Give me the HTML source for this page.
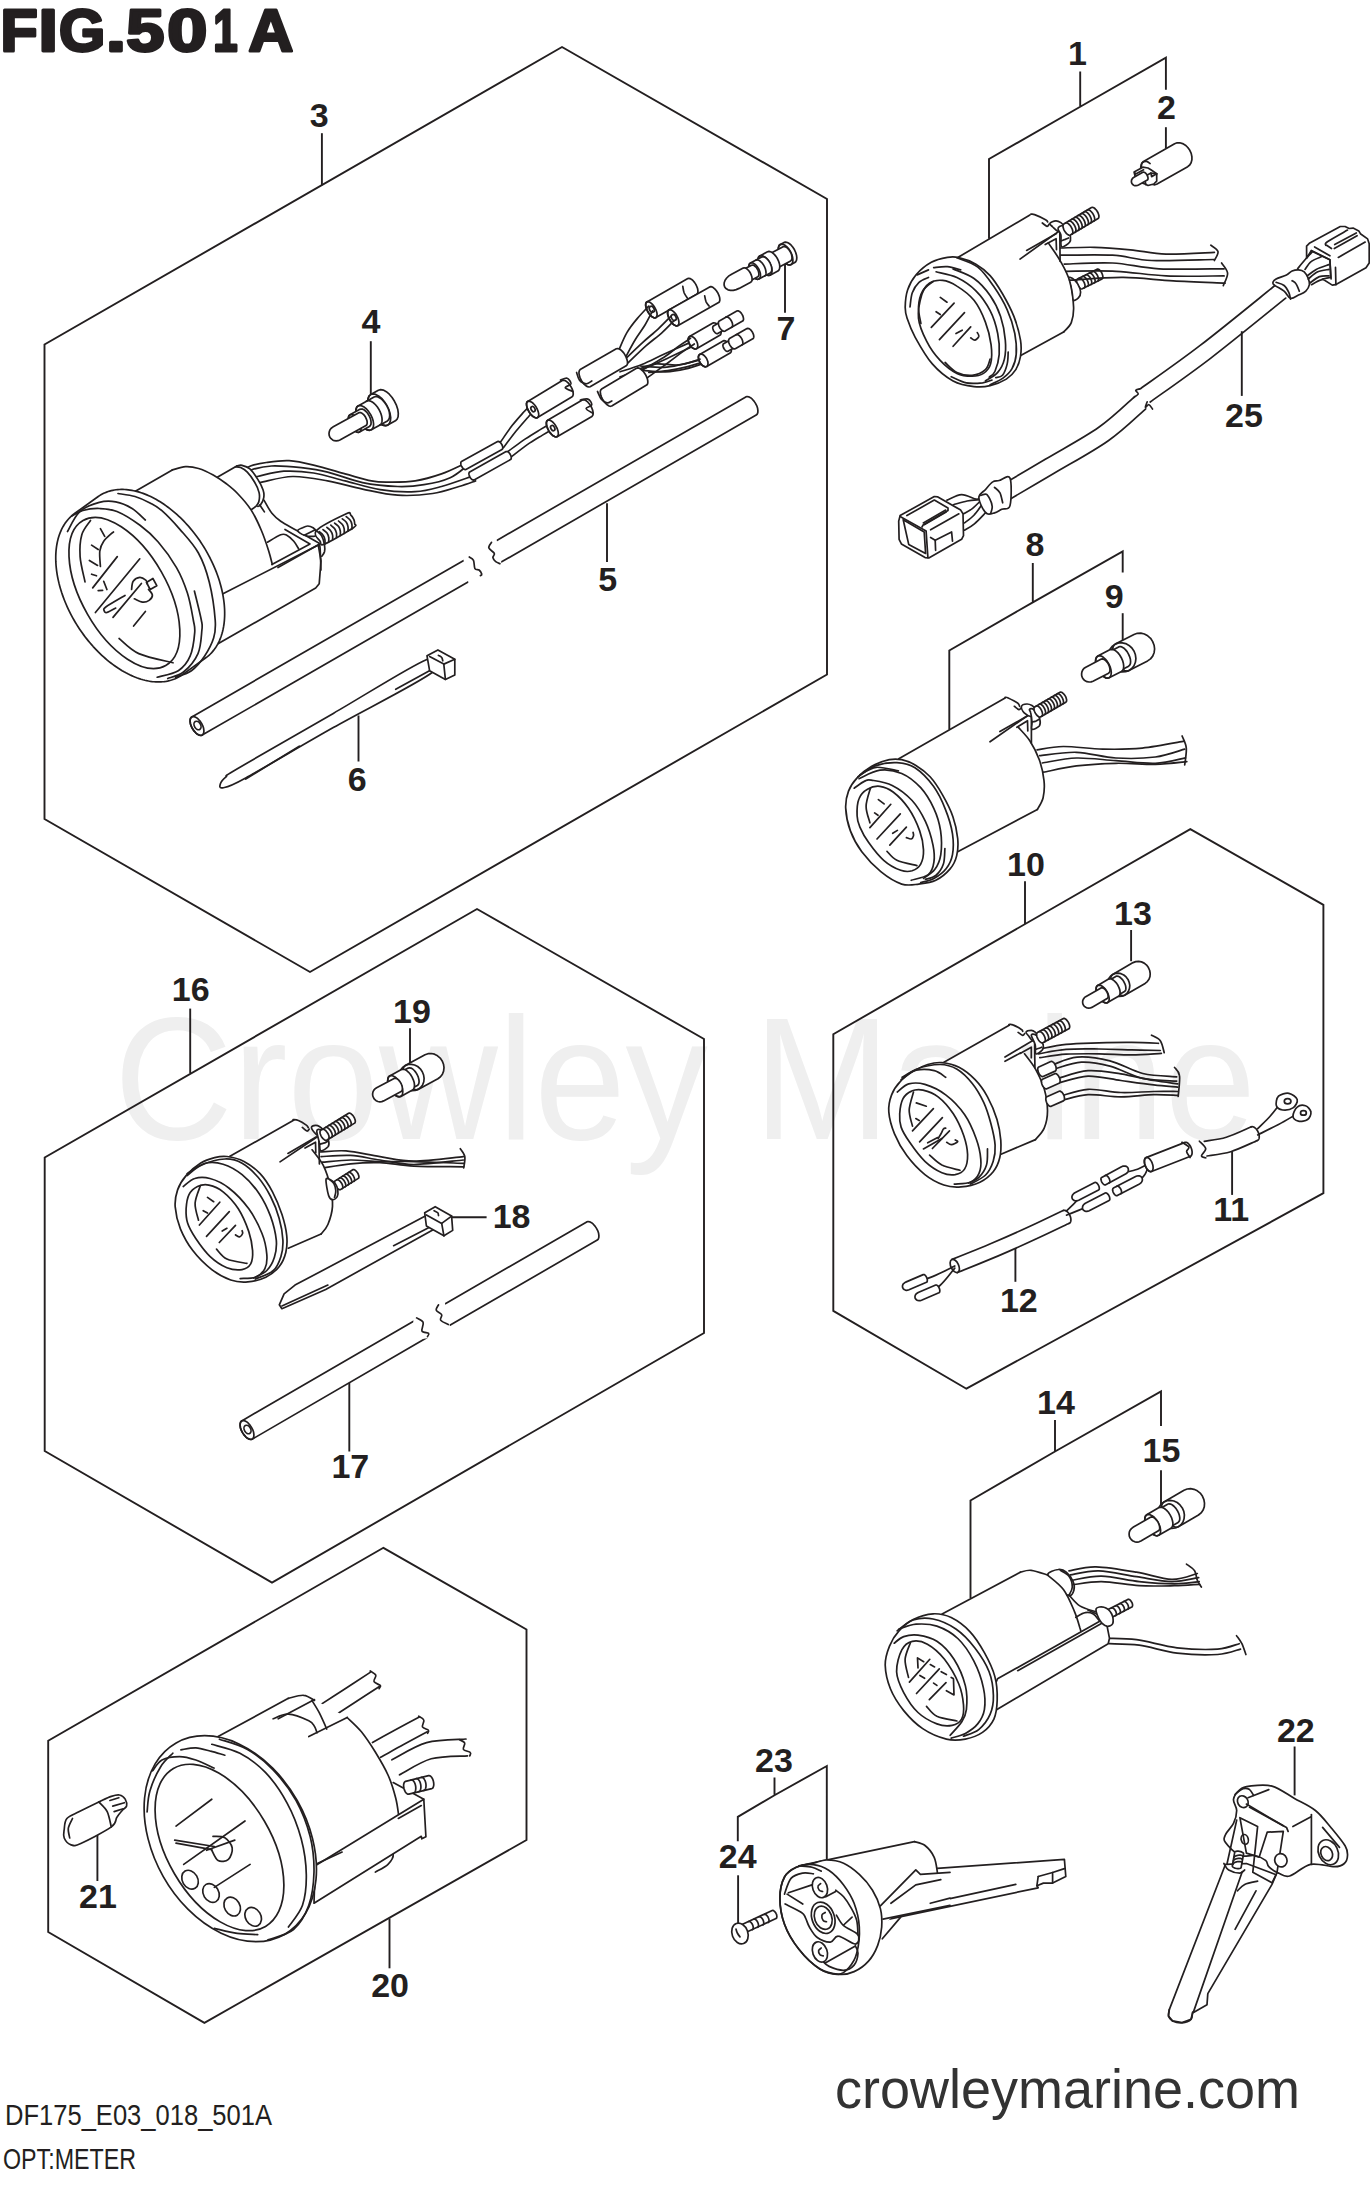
<!DOCTYPE html>
<html><head><meta charset="utf-8">
<style>
html,body{margin:0;padding:0;background:#fff;}
svg{display:block;}
.l{font-family:"Liberation Sans",sans-serif;font-weight:bold;font-size:34px;fill:#231f20;text-anchor:middle;}
</style></head>
<body>
<svg width="1370" height="2185" viewBox="0 0 1370 2185">
<text x="114" y="1139" font-family="Liberation Sans" font-size="175" fill="#efefef" textLength="1142" lengthAdjust="spacingAndGlyphs">Crowley Marine</text>
<g fill="none" stroke="#231f20" stroke-width="1.9" stroke-linejoin="miter">
<!-- polygons -->
<path d="M562,47 L827,199 L827,674.5 L310,972 L44.5,819 L44.5,344.5 Z"/>
<path d="M477,909 L704,1039 L704,1333 L272,1582.6 L44.7,1451 L44.7,1157.5 Z"/>
<path d="M1190.3,829.1 L1323.4,904.8 L1323.4,1193.2 L966.4,1388.7 L833.3,1310.9 L833.3,1034.2 Z"/>
<path d="M383.4,1547.8 L526.5,1629.5 L526.5,1840 L204.4,2022.8 L48.2,1932 L48.2,1740.7 Z"/>
<!-- leaders -->
<path d="M1080.2,71.4 V106.8 M1165.9,89.7 V57.6 L1080.2,106.8 L989,159 V238.8"/>
<path d="M1165.9,127.2 V148"/>
<path d="M321.9,133.2 V185.2"/>
<path d="M370.8,341.2 V394.2"/>
<path d="M785,312.7 V262.3"/>
<path d="M607,561.9 V503.2"/>
<path d="M358.5,761.5 V715.5"/>
<path d="M1241.8,395.9 V331.2"/>
<path d="M1032.8,562.9 V602.3 M1122.7,572.6 V551.5 L1032.8,602.3 L949.3,650.5 V729.4"/>
<path d="M1122.7,613.2 V640.9"/>
<path d="M1025,881.3 V924"/>
<path d="M1131.1,930 V961.2"/>
<path d="M1232.1,1194.9 V1149.3"/>
<path d="M1015.4,1281.8 V1247.5"/>
<path d="M1055,1420 V1451.5 M1161,1425.9 V1391.4 L1055,1451.5 L970.5,1500.5 V1598.1"/>
<path d="M1161,1470.2 V1505.3"/>
<path d="M190.2,1008.6 V1073.3"/>
<path d="M410,1028.2 V1064"/>
<path d="M451.6,1217.2 H486.6"/>
<path d="M349.3,1451.5 V1382.5"/>
<path d="M97.4,1881 V1832.4"/>
<path d="M389.5,1968.3 V1918.4"/>
<path d="M1294.6,1746.5 V1795.4"/>
<path d="M774.5,1777.4 V1795.2 M826.8,1859.6 V1766 L774.5,1795.2 L737.8,1816.9 V1841.2"/>
<path d="M738.1,1875.3 V1923.3"/>
</g>
<g fill="none" stroke="#231f20" stroke-width="1.7" stroke-linecap="round" stroke-linejoin="round">
<!-- b04.txt -->
<path d="M395.4,420.8 L397.1,419.2 L398.1,416.7 L398.3,413.3 L397.8,409.5 L396.5,405.4 L394.5,401.3 L392.1,397.5 L389.3,394.2 L386.3,391.7 L383.3,390.1 L380.6,389.6 L378.4,390.2 L370.7,394.5 L369.0,396.1 L368.0,398.7 L367.8,402.0 L368.3,405.8 L369.6,409.9 L371.6,414.0 L374.0,417.9 L376.9,421.1 L379.8,423.6 L382.8,425.2 L385.5,425.7 L387.7,425.1 Z" fill="#fff"/>
<path d="M387.7,425.1 L389.4,423.5 L390.4,420.9 L390.7,417.6 L390.1,413.8 L388.8,409.6 L386.9,405.5 L384.4,401.7 L381.6,398.4 L378.6,396.0 L375.7,394.4 L373.0,393.9 L370.7,394.5 L369.0,396.1 L368.0,398.7 L367.8,402.0 L368.3,405.8 L369.6,409.9 L371.6,414.0 L374.0,417.9 L376.9,421.1 L379.8,423.6 L382.8,425.2 L385.5,425.7 Z"/>
<path d="M387.4,420.9 L388.7,419.6 L389.5,417.6 L389.7,415.1 L389.3,412.1 L388.3,408.8 L386.7,405.6 L384.8,402.7 L382.6,400.1 L380.3,398.2 L378.0,396.9 L375.9,396.5 L374.1,397.0 L358.1,405.9 L356.7,407.2 L356.0,409.2 L355.8,411.8 L356.2,414.8 L357.2,418.0 L358.7,421.2 L360.6,424.2 L362.8,426.7 L365.1,428.7 L367.4,429.9 L369.5,430.3 L371.3,429.8 Z" fill="#fff"/>
<path d="M371.3,429.8 L372.6,428.6 L373.4,426.6 L373.6,424.0 L373.2,421.0 L372.2,417.8 L370.7,414.6 L368.7,411.6 L366.5,409.0 L364.2,407.1 L361.9,405.9 L359.8,405.5 L358.1,405.9 L356.7,407.2 L356.0,409.2 L355.8,411.8 L356.2,414.8 L357.2,418.0 L358.7,421.2 L360.6,424.2 L362.8,426.7 L365.1,428.7 L367.4,429.9 L369.5,430.3 Z"/>
<path d="M366.50,401.14 L366.82,400.99 L367.16,400.86 L367.52,400.77 L367.89,400.71 L368.27,400.69 L368.67,400.70 L369.08,400.75 L369.50,400.82 L369.94,400.94 L370.38,401.08 L370.82,401.26 L371.28,401.47 L371.74,401.71 L372.20,401.99 L372.67,402.29 L373.14,402.62 L373.60,402.99 L374.07,403.38 L374.53,403.79 L374.99,404.24 L375.45,404.70 L375.90,405.19 L376.34,405.70 L376.77,406.23 L377.19,406.78 L377.60,407.35 L378.00,407.93 L378.39,408.53 L378.76,409.14 L379.12,409.76 L379.46,410.39 L379.78,411.03 L380.08,411.67 L380.37,412.32 L380.63,412.96 L380.88,413.61 L381.10,414.26 L381.30,414.90 L381.48,415.54 L381.64,416.18 L381.77,416.80 L381.88,417.41 L381.97,418.02 L382.03,418.60 L382.07,419.18 L382.08,419.73 L382.07,420.27 L382.03,420.79 L381.97,421.29 L381.89,421.76 L381.78,422.21 L381.65,422.64 L381.49,423.04 L381.31,423.41 L381.11,423.76 L380.89,424.07 L380.64,424.36 L380.38,424.61 L380.10,424.83 L379.79,425.02"/>
<path d="M369.4,426.4 L370.4,425.5 L371.0,424.1 L371.1,422.3 L370.8,420.1 L370.1,417.8 L369.0,415.5 L367.6,413.3 L366.0,411.5 L364.4,410.1 L362.7,409.2 L361.2,409.0 L359.9,409.3 L350.0,414.8 L349.0,415.7 L348.5,417.1 L348.3,419.0 L348.6,421.2 L349.4,423.5 L350.4,425.8 L351.8,427.9 L353.4,429.7 L355.1,431.1 L356.7,432.0 L358.2,432.3 L359.5,432.0 Z" fill="#fff"/>
<path d="M359.5,432.0 L360.4,431.1 L361.0,429.6 L361.1,427.8 L360.8,425.6 L360.1,423.3 L359.0,421.0 L357.6,418.9 L356.1,417.0 L354.4,415.6 L352.8,414.8 L351.2,414.5 L350.0,414.8 L349.0,415.7 L348.5,417.1 L348.3,419.0 L348.6,421.2 L349.4,423.5 L350.4,425.8 L351.8,427.9 L353.4,429.7 L355.1,431.1 L356.7,432.0 L358.2,432.3 Z"/>
<path d="M366.0,425.6 L366.7,424.9 L367.1,423.8 L367.2,422.4 L367.0,420.8 L366.4,419.1 L365.6,417.3 L364.6,415.7 L363.4,414.4 L362.1,413.3 L360.9,412.7 L359.8,412.5 L358.8,412.7 L332.8,427.1 L331.2,428.3 L330.0,429.8 L329.3,431.6 L329.0,433.5 L329.2,435.4 L329.9,437.2 L331.1,438.7 L332.6,439.9 L334.3,440.7 L336.2,440.9 L338.1,440.7 L339.9,440.0 Z" fill="#fff"/>
<!-- b07.txt -->
<path d="M620.0,371.8 C623.6,370.6 634.6,367.4 641.9,364.5 C649.2,361.6 655.5,358.1 663.8,354.3 C672.1,350.5 686.9,344.0 691.5,341.9"/>
<path d="M620.0,376.9 C623.9,375.6 635.6,371.9 643.4,368.9 C651.1,365.9 658.2,362.6 666.7,358.7 C675.2,354.8 689.8,347.7 694.5,345.5"/>
<path d="M640.4,366.0 C644.3,366.2 657.0,367.7 663.8,367.4 C670.6,367.2 675.0,365.9 681.3,364.5 C687.6,363.2 698.3,360.3 701.8,359.4"/>
<path d="M643.4,370.4 C647.0,370.6 658.2,372.1 665.3,371.8 C672.3,371.6 679.1,370.4 685.7,368.9 C692.3,367.4 701.5,364.0 704.7,363.1"/>
<path d="M696.8,294.3 L697.5,293.5 L697.9,292.2 L697.9,290.6 L697.6,288.6 L696.8,286.5 L695.8,284.4 L694.5,282.4 L693.1,280.7 L691.6,279.4 L690.1,278.6 L688.8,278.3 L687.8,278.6 L646.9,301.9 L646.1,302.7 L645.7,304.0 L645.7,305.7 L646.1,307.6 L646.8,309.7 L647.9,311.8 L649.1,313.8 L650.6,315.5 L652.1,316.8 L653.5,317.6 L654.8,317.9 L655.9,317.6 Z" fill="#fff"/>
<path d="M655.9,317.6 L656.6,316.8 L657.0,315.6 L657.1,313.9 L656.7,312.0 L656.0,309.9 L654.9,307.8 L653.6,305.8 L652.2,304.1 L650.7,302.8 L649.3,302.0 L648.0,301.7 L646.9,301.9 L646.1,302.7 L645.7,304.0 L645.7,305.7 L646.1,307.6 L646.8,309.7 L647.9,311.8 L649.1,313.8 L650.6,315.5 L652.1,316.8 L653.5,317.6 L654.8,317.9 Z"/>
<ellipse cx="651.82" cy="309.34" rx="3.21" ry="2.25" transform="rotate(60.0 651.82 309.34)"/>
<path d="M718.6,302.6 L719.4,301.8 L719.8,300.6 L719.8,298.9 L719.5,297.0 L718.7,294.9 L717.7,292.7 L716.4,290.8 L715.0,289.1 L713.5,287.8 L712.1,286.9 L710.8,286.6 L709.7,286.9 L668.8,309.9 L668.1,310.7 L667.7,312.0 L667.6,313.7 L668.0,315.6 L668.7,317.7 L669.7,319.8 L671.0,321.8 L672.4,323.5 L673.9,324.8 L675.4,325.6 L676.7,325.9 L677.7,325.7 Z" fill="#fff"/>
<path d="M677.7,325.7 L678.5,324.9 L678.9,323.6 L678.9,322.0 L678.6,320.0 L677.9,317.9 L676.8,315.8 L675.6,313.8 L674.1,312.1 L672.6,310.8 L671.2,310.0 L669.9,309.7 L668.8,309.9 L668.1,310.7 L667.7,312.0 L667.6,313.7 L668.0,315.6 L668.7,317.7 L669.7,319.8 L671.0,321.8 L672.4,323.5 L673.9,324.8 L675.4,325.6 L676.7,325.9 Z"/>
<ellipse cx="673.72" cy="317.52" rx="3.21" ry="2.25" transform="rotate(60.0 673.72 317.52)"/>
<path d="M682.8,286.4 C683.0,287.5 683.4,290.9 684.2,293.0 C685.1,295.1 687.3,297.9 687.9,298.8"/>
<path d="M704.7,295.9 C704.9,296.9 705.4,300.0 706.1,301.8 C706.9,303.5 708.6,305.4 709.1,306.1"/>
<path d="M719.8,335.3 L720.6,334.6 L721.0,333.5 L721.2,332.1 L721.0,330.6 L720.5,328.9 L719.7,327.3 L718.7,325.8 L717.5,324.5 L716.2,323.5 L715.0,323.0 L713.8,322.8 L712.9,323.1 L689.5,336.6 L688.8,337.3 L688.3,338.3 L688.2,339.7 L688.4,341.3 L688.9,342.9 L689.7,344.5 L690.7,346.1 L691.8,347.3 L693.1,348.3 L694.3,348.8 L695.5,349.0 L696.5,348.7 Z" fill="#fff"/>
<path d="M696.5,348.7 L697.2,348.0 L697.7,346.9 L697.8,345.6 L697.6,344.0 L697.1,342.3 L696.3,340.7 L695.3,339.2 L694.1,337.9 L692.9,337.0 L691.6,336.4 L690.5,336.3 L689.5,336.6 L688.8,337.3 L688.3,338.3 L688.2,339.7 L688.4,341.3 L688.9,342.9 L689.7,344.5 L690.7,346.1 L691.8,347.3 L693.1,348.3 L694.3,348.8 L695.5,349.0 Z"/>
<path d="M724.4,329.8 L724.8,329.4 L725.0,328.7 L725.1,327.9 L724.9,326.9 L724.6,325.9 L724.1,324.9 L723.5,323.9 L722.7,323.1 L722.0,322.5 L721.2,322.2 L720.6,322.0 L720.0,322.2 L713.4,326.0 L713.0,326.4 L712.8,327.0 L712.7,327.9 L712.9,328.8 L713.2,329.9 L713.7,330.9 L714.4,331.8 L715.1,332.6 L715.8,333.2 L716.6,333.6 L717.2,333.7 L717.8,333.6 Z" fill="#fff"/>
<path d="M742.6,321.1 L743.1,320.6 L743.5,319.7 L743.5,318.6 L743.3,317.4 L742.9,316.0 L742.2,314.6 L741.4,313.4 L740.5,312.3 L739.5,311.4 L738.5,310.9 L737.6,310.8 L736.8,311.0 L719.3,320.9 L718.8,321.5 L718.4,322.3 L718.4,323.4 L718.6,324.7 L719.0,326.1 L719.6,327.4 L720.5,328.7 L721.4,329.8 L722.4,330.6 L723.4,331.1 L724.3,331.3 L725.1,331.1 Z" fill="#fff"/>
<path d="M725.84,317.13 L725.98,317.06 L726.12,317.01 L726.27,316.97 L726.43,316.94 L726.59,316.93 L726.76,316.93 L726.94,316.95 L727.12,316.98 L727.31,317.02 L727.49,317.08 L727.69,317.15 L727.88,317.24 L728.08,317.34 L728.28,317.45 L728.48,317.58 L728.68,317.72 L728.89,317.87 L729.09,318.04 L729.29,318.21 L729.49,318.40 L729.69,318.59 L729.88,318.80 L730.07,319.01 L730.26,319.24 L730.45,319.47 L730.63,319.71 L730.80,319.96 L730.97,320.21 L731.13,320.47 L731.29,320.73 L731.44,321.00 L731.58,321.27 L731.71,321.54 L731.84,321.81 L731.96,322.09 L732.07,322.36 L732.17,322.64 L732.26,322.91 L732.34,323.18 L732.41,323.45 L732.47,323.72 L732.52,323.98 L732.56,324.24 L732.59,324.49 L732.61,324.73 L732.62,324.97 L732.62,325.20 L732.61,325.42 L732.58,325.64 L732.55,325.84 L732.51,326.03 L732.45,326.22 L732.39,326.39 L732.32,326.55 L732.23,326.70 L732.14,326.83 L732.04,326.96 L731.93,327.07 L731.81,327.16 L731.68,327.25"/>
<path d="M730.1,353.1 L730.8,352.4 L731.3,351.3 L731.4,349.9 L731.2,348.4 L730.7,346.7 L729.9,345.1 L728.9,343.6 L727.7,342.3 L726.5,341.4 L725.2,340.8 L724.1,340.6 L723.1,340.9 L699.7,354.4 L699.0,355.1 L698.5,356.1 L698.4,357.5 L698.6,359.1 L699.1,360.7 L699.9,362.4 L700.9,363.9 L702.1,365.1 L703.3,366.1 L704.6,366.7 L705.7,366.8 L706.7,366.5 Z" fill="#fff"/>
<path d="M706.7,366.5 L707.5,365.8 L707.9,364.7 L708.0,363.4 L707.9,361.8 L707.3,360.2 L706.6,358.5 L705.5,357.0 L704.4,355.7 L703.1,354.8 L701.9,354.2 L700.7,354.1 L699.7,354.4 L699.0,355.1 L698.5,356.1 L698.4,357.5 L698.6,359.1 L699.1,360.7 L699.9,362.4 L700.9,363.9 L702.1,365.1 L703.3,366.1 L704.6,366.7 L705.7,366.8 Z"/>
<path d="M734.6,347.4 L735.0,347.0 L735.3,346.4 L735.3,345.6 L735.1,344.6 L734.8,343.6 L734.3,342.6 L733.7,341.6 L733.0,340.8 L732.2,340.2 L731.5,339.8 L730.8,339.7 L730.2,339.9 L723.6,343.7 L723.2,344.1 L723.0,344.7 L722.9,345.5 L723.1,346.5 L723.4,347.5 L723.9,348.5 L724.6,349.5 L725.3,350.3 L726.0,350.9 L726.8,351.3 L727.5,351.4 L728.0,351.2 Z" fill="#fff"/>
<path d="M752.8,338.8 L753.4,338.3 L753.7,337.4 L753.8,336.3 L753.6,335.0 L753.1,333.6 L752.5,332.3 L751.6,331.0 L750.7,329.9 L749.7,329.1 L748.7,328.6 L747.8,328.4 L747.0,328.6 L729.5,338.6 L729.0,339.1 L728.6,340.0 L728.6,341.1 L728.8,342.4 L729.2,343.7 L729.9,345.1 L730.7,346.4 L731.6,347.4 L732.6,348.3 L733.6,348.8 L734.5,348.9 L735.3,348.7 Z" fill="#fff"/>
<path d="M736.06,334.80 L736.19,334.73 L736.34,334.67 L736.49,334.63 L736.65,334.60 L736.81,334.59 L736.98,334.59 L737.16,334.61 L737.34,334.64 L737.52,334.69 L737.71,334.74 L737.91,334.82 L738.10,334.90 L738.30,335.01 L738.50,335.12 L738.70,335.25 L738.90,335.39 L739.11,335.54 L739.31,335.70 L739.51,335.88 L739.71,336.06 L739.91,336.26 L740.10,336.46 L740.29,336.68 L740.48,336.90 L740.66,337.14 L740.84,337.37 L741.02,337.62 L741.19,337.87 L741.35,338.13 L741.51,338.39 L741.66,338.66 L741.80,338.93 L741.93,339.20 L742.06,339.48 L742.18,339.75 L742.29,340.03 L742.39,340.30 L742.48,340.58 L742.56,340.85 L742.63,341.12 L742.69,341.38 L742.74,341.65 L742.78,341.90 L742.81,342.15 L742.83,342.40 L742.84,342.64 L742.84,342.87 L742.83,343.09 L742.80,343.30 L742.77,343.50 L742.73,343.70 L742.67,343.88 L742.61,344.05 L742.54,344.21 L742.45,344.36 L742.36,344.50 L742.26,344.62 L742.15,344.73 L742.03,344.83 L741.90,344.91"/>
<path d="M794.8,262.5 L795.9,261.5 L796.6,259.9 L796.8,257.7 L796.5,255.2 L795.7,252.5 L794.5,249.8 L792.9,247.3 L791.2,245.2 L789.2,243.5 L787.4,242.5 L785.6,242.1 L784.1,242.4 L780.3,244.5 L779.1,245.5 L778.5,247.2 L778.3,249.3 L778.6,251.8 L779.4,254.5 L780.6,257.2 L782.1,259.7 L783.9,261.9 L785.8,263.6 L787.7,264.6 L789.5,265.0 L791.0,264.6 Z" fill="#fff"/>
<path d="M791.0,264.6 L792.1,263.6 L792.8,261.9 L792.9,259.8 L792.6,257.3 L791.8,254.6 L790.6,251.9 L789.1,249.4 L787.3,247.2 L785.4,245.6 L783.5,244.5 L781.7,244.2 L780.3,244.5 L779.1,245.5 L778.5,247.2 L778.3,249.3 L778.6,251.8 L779.4,254.5 L780.6,257.2 L782.1,259.7 L783.9,261.9 L785.8,263.6 L787.7,264.6 L789.5,265.0 Z"/>
<path d="M790.6,261.0 L791.4,260.2 L791.9,259.1 L792.0,257.5 L791.8,255.8 L791.3,253.9 L790.4,252.0 L789.3,250.2 L788.0,248.7 L786.7,247.5 L785.4,246.8 L784.1,246.5 L783.1,246.8 L768.9,254.3 L768.1,255.1 L767.7,256.2 L767.5,257.7 L767.7,259.5 L768.3,261.4 L769.2,263.3 L770.3,265.1 L771.5,266.6 L772.9,267.8 L774.2,268.5 L775.4,268.7 L776.5,268.5 Z" fill="#fff"/>
<path d="M777.9,271.1 L778.9,270.1 L779.6,268.5 L779.8,266.4 L779.5,264.0 L778.7,261.4 L777.5,258.8 L776.0,256.4 L774.3,254.4 L772.5,252.8 L770.6,251.8 L769.0,251.4 L767.5,251.8 L759.8,255.9 L758.7,256.9 L758.1,258.5 L757.9,260.5 L758.2,263.0 L759.0,265.5 L760.1,268.1 L761.6,270.5 L763.4,272.6 L765.2,274.2 L767.0,275.2 L768.7,275.5 L770.1,275.2 Z" fill="#fff"/>
<path d="M770.1,275.2 L771.2,274.2 L771.8,272.6 L772.0,270.6 L771.7,268.1 L771.0,265.6 L769.8,263.0 L768.3,260.6 L766.6,258.5 L764.7,256.9 L762.9,255.9 L761.2,255.6 L759.8,255.9 L758.7,256.9 L758.1,258.5 L757.9,260.5 L758.2,263.0 L759.0,265.5 L760.1,268.1 L761.6,270.5 L763.4,272.6 L765.2,274.2 L767.0,275.2 L768.7,275.5 Z"/>
<path d="M770.3,272.9 L771.1,272.1 L771.7,270.8 L771.8,269.1 L771.6,267.1 L770.9,265.0 L770.0,262.8 L768.7,260.8 L767.3,259.1 L765.8,257.8 L764.3,257.0 L762.9,256.7 L761.7,257.0 L750.4,263.0 L749.5,263.9 L749.0,265.2 L748.8,266.9 L749.1,268.9 L749.7,271.0 L750.7,273.2 L751.9,275.2 L753.4,276.9 L754.9,278.2 L756.4,279.0 L757.8,279.3 L758.9,279.0 Z" fill="#fff"/>
<path d="M758.9,279.0 L759.8,278.2 L760.4,276.9 L760.5,275.2 L760.3,273.2 L759.6,271.0 L758.7,268.9 L757.4,266.9 L756.0,265.2 L754.5,263.9 L753.0,263.0 L751.6,262.8 L750.4,263.0 L749.5,263.9 L749.0,265.2 L748.8,266.9 L749.1,268.9 L749.7,271.0 L750.7,273.2 L751.9,275.2 L753.4,276.9 L754.9,278.2 L756.4,279.0 L757.8,279.3 Z"/>
<path d="M755.90,260.18 L756.11,260.08 L756.34,260.01 L756.57,259.95 L756.82,259.92 L757.08,259.91 L757.34,259.92 L757.61,259.95 L757.89,260.01 L758.17,260.09 L758.46,260.19 L758.76,260.32 L759.06,260.46 L759.36,260.63 L759.66,260.81 L759.97,261.02 L760.27,261.25 L760.58,261.49 L760.88,261.76 L761.18,262.04 L761.48,262.34 L761.78,262.65 L762.07,262.98 L762.35,263.33 L762.63,263.68 L762.91,264.05 L763.17,264.44 L763.43,264.83 L763.68,265.23 L763.91,265.64 L764.14,266.05 L764.36,266.47 L764.56,266.90 L764.76,267.33 L764.94,267.76 L765.11,268.19 L765.26,268.62 L765.40,269.06 L765.52,269.48 L765.64,269.91 L765.73,270.33 L765.81,270.75 L765.88,271.15 L765.93,271.55 L765.96,271.94 L765.98,272.32 L765.98,272.69 L765.96,273.05 L765.93,273.39 L765.89,273.72 L765.82,274.03 L765.75,274.33 L765.65,274.61 L765.54,274.87 L765.42,275.12 L765.28,275.34 L765.13,275.55 L764.97,275.74 L764.79,275.90 L764.60,276.04 L764.40,276.17"/>
<path d="M757.8,276.8 L758.4,276.2 L758.8,275.3 L758.9,274.0 L758.7,272.6 L758.3,271.0 L757.6,269.5 L756.7,268.0 L755.6,266.8 L754.5,265.8 L753.4,265.2 L752.4,265.0 L751.6,265.2 L743.8,269.3 L743.2,269.9 L742.8,270.9 L742.7,272.1 L742.9,273.6 L743.3,275.1 L744.0,276.7 L744.9,278.1 L746.0,279.4 L747.1,280.3 L748.2,280.9 L749.2,281.1 L750.0,280.9 Z" fill="#fff"/>
<path d="M750.0,280.9 L750.7,280.3 L751.1,279.4 L751.2,278.1 L751.0,276.7 L750.5,275.1 L749.8,273.6 L748.9,272.1 L747.9,270.9 L746.8,269.9 L745.7,269.3 L744.7,269.1 L743.8,269.3 L743.2,269.9 L742.8,270.9 L742.7,272.1 L742.9,273.6 L743.3,275.1 L744.0,276.7 L744.9,278.1 L746.0,279.4 L747.1,280.3 L748.2,280.9 L749.2,281.1 Z"/>
<path d="M750.7,282.2 L751.5,281.5 L752.0,280.3 L752.1,278.8 L751.9,277.0 L751.3,275.2 L750.5,273.3 L749.4,271.5 L748.1,270.0 L746.8,268.8 L745.4,268.1 L744.2,267.8 L743.2,268.1 L731.6,274.2 L728.9,275.9 L726.7,278.0 L725.1,280.3 L724.2,282.7 L724.1,284.9 L724.7,287.0 L726.0,288.6 L728.0,289.8 L730.5,290.3 L733.3,290.3 L736.2,289.6 L739.1,288.4 Z" fill="#fff"/>
<!-- g01.txt -->
<path d="M1102.0,279.0 L1102.5,278.5 L1102.8,277.8 L1102.9,276.8 L1102.7,275.6 L1102.3,274.3 L1101.8,273.0 L1101.1,271.8 L1100.2,270.7 L1099.4,269.8 L1098.5,269.3 L1097.8,269.1 L1097.1,269.2 L1077.4,279.0 L1076.9,279.5 L1076.6,280.3 L1076.6,281.3 L1076.7,282.4 L1077.1,283.7 L1077.7,285.0 L1078.4,286.3 L1079.2,287.3 L1080.0,288.2 L1080.9,288.7 L1081.6,289.0 L1082.3,288.8 Z" fill="#fff"/>
<path d="M1068.2,278.1 C1068.4,276.6 1071.0,277.5 1072.6,278.5 C1074.1,279.4 1076.3,281.7 1077.7,283.9 C1079.0,286.2 1080.5,289.7 1080.6,292.0 C1080.7,294.3 1079.7,296.5 1078.4,297.8 C1077.1,299.1 1073.8,301.7 1072.6,300.0 C1071.3,298.3 1071.8,291.2 1071.1,287.6 C1070.4,283.9 1067.9,279.6 1068.2,278.1 Z" fill="#fff"/>
<path d="M1079.11,278.23 L1079.23,278.18 L1079.35,278.14 L1079.48,278.11 L1079.62,278.10 L1079.76,278.10 L1079.91,278.11 L1080.06,278.14 L1080.22,278.18 L1080.38,278.23 L1080.54,278.30 L1080.71,278.38 L1080.88,278.48 L1081.05,278.58 L1081.22,278.70 L1081.40,278.83 L1081.58,278.97 L1081.75,279.12 L1081.93,279.29 L1082.10,279.46 L1082.28,279.65 L1082.45,279.84 L1082.62,280.04 L1082.79,280.25 L1082.95,280.47 L1083.11,280.70 L1083.27,280.93 L1083.43,281.17 L1083.57,281.41 L1083.72,281.66 L1083.85,281.91 L1083.99,282.16 L1084.11,282.42 L1084.23,282.68 L1084.34,282.94 L1084.45,283.20 L1084.54,283.46 L1084.63,283.72 L1084.71,283.98 L1084.78,284.23 L1084.85,284.48 L1084.90,284.73 L1084.95,284.97 L1084.99,285.21 L1085.02,285.44 L1085.03,285.67 L1085.04,285.88 L1085.05,286.09 L1085.04,286.30 L1085.02,286.49 L1084.99,286.67 L1084.96,286.85 L1084.91,287.01 L1084.86,287.16 L1084.80,287.31 L1084.72,287.44 L1084.65,287.55 L1084.56,287.66 L1084.46,287.75 L1084.36,287.83 L1084.25,287.90"/>
<path d="M1082.47,276.55 L1082.58,276.50 L1082.71,276.46 L1082.84,276.43 L1082.97,276.42 L1083.12,276.42 L1083.26,276.43 L1083.42,276.46 L1083.57,276.50 L1083.73,276.55 L1083.90,276.62 L1084.07,276.70 L1084.24,276.80 L1084.41,276.90 L1084.58,277.02 L1084.76,277.15 L1084.93,277.29 L1085.11,277.45 L1085.29,277.61 L1085.46,277.78 L1085.64,277.97 L1085.81,278.16 L1085.98,278.36 L1086.15,278.57 L1086.31,278.79 L1086.47,279.02 L1086.63,279.25 L1086.78,279.49 L1086.93,279.73 L1087.07,279.98 L1087.21,280.23 L1087.34,280.48 L1087.47,280.74 L1087.59,281.00 L1087.70,281.26 L1087.80,281.52 L1087.90,281.78 L1087.99,282.04 L1088.07,282.30 L1088.14,282.55 L1088.21,282.80 L1088.26,283.05 L1088.31,283.29 L1088.34,283.53 L1088.37,283.76 L1088.39,283.99 L1088.40,284.21 L1088.40,284.42 L1088.39,284.62 L1088.38,284.81 L1088.35,284.99 L1088.31,285.17 L1088.27,285.33 L1088.22,285.48 L1088.15,285.63 L1088.08,285.76 L1088.00,285.87 L1087.92,285.98 L1087.82,286.07 L1087.72,286.15 L1087.61,286.22"/>
<path d="M1085.82,274.87 L1085.94,274.82 L1086.07,274.78 L1086.20,274.75 L1086.33,274.74 L1086.47,274.74 L1086.62,274.75 L1086.77,274.78 L1086.93,274.82 L1087.09,274.88 L1087.26,274.94 L1087.42,275.02 L1087.59,275.12 L1087.77,275.22 L1087.94,275.34 L1088.11,275.47 L1088.29,275.61 L1088.47,275.77 L1088.64,275.93 L1088.82,276.11 L1088.99,276.29 L1089.17,276.48 L1089.34,276.69 L1089.50,276.90 L1089.67,277.11 L1089.83,277.34 L1089.99,277.57 L1090.14,277.81 L1090.29,278.05 L1090.43,278.30 L1090.57,278.55 L1090.70,278.81 L1090.83,279.06 L1090.94,279.32 L1091.06,279.58 L1091.16,279.84 L1091.26,280.10 L1091.35,280.36 L1091.43,280.62 L1091.50,280.87 L1091.56,281.12 L1091.62,281.37 L1091.66,281.61 L1091.70,281.85 L1091.73,282.08 L1091.75,282.31 L1091.76,282.53 L1091.76,282.74 L1091.75,282.94 L1091.73,283.13 L1091.71,283.32 L1091.67,283.49 L1091.63,283.65 L1091.57,283.81 L1091.51,283.95 L1091.44,284.08 L1091.36,284.20 L1091.27,284.30 L1091.18,284.39 L1091.07,284.47 L1090.96,284.54"/>
<path d="M1089.18,273.20 L1089.30,273.14 L1089.42,273.10 L1089.55,273.07 L1089.69,273.06 L1089.83,273.06 L1089.98,273.07 L1090.13,273.10 L1090.29,273.14 L1090.45,273.20 L1090.61,273.26 L1090.78,273.35 L1090.95,273.44 L1091.12,273.54 L1091.30,273.66 L1091.47,273.79 L1091.65,273.94 L1091.82,274.09 L1092.00,274.25 L1092.18,274.43 L1092.35,274.61 L1092.52,274.80 L1092.69,275.01 L1092.86,275.22 L1093.03,275.44 L1093.19,275.66 L1093.35,275.89 L1093.50,276.13 L1093.65,276.37 L1093.79,276.62 L1093.93,276.87 L1094.06,277.13 L1094.18,277.38 L1094.30,277.64 L1094.41,277.90 L1094.52,278.16 L1094.61,278.42 L1094.70,278.68 L1094.78,278.94 L1094.86,279.19 L1094.92,279.44 L1094.98,279.69 L1095.02,279.93 L1095.06,280.17 L1095.09,280.40 L1095.11,280.63 L1095.12,280.85 L1095.12,281.06 L1095.11,281.26 L1095.09,281.45 L1095.07,281.64 L1095.03,281.81 L1094.98,281.97 L1094.93,282.13 L1094.87,282.27 L1094.80,282.40 L1094.72,282.52 L1094.63,282.62 L1094.54,282.72 L1094.43,282.80 L1094.32,282.86"/>
<path d="M1092.54,271.52 L1092.66,271.46 L1092.78,271.42 L1092.91,271.40 L1093.05,271.38 L1093.19,271.38 L1093.34,271.40 L1093.49,271.42 L1093.65,271.46 L1093.81,271.52 L1093.97,271.59 L1094.14,271.67 L1094.31,271.76 L1094.48,271.87 L1094.65,271.98 L1094.83,272.11 L1095.01,272.26 L1095.18,272.41 L1095.36,272.57 L1095.53,272.75 L1095.71,272.93 L1095.88,273.13 L1096.05,273.33 L1096.22,273.54 L1096.38,273.76 L1096.55,273.98 L1096.70,274.21 L1096.86,274.45 L1097.00,274.69 L1097.15,274.94 L1097.28,275.19 L1097.42,275.45 L1097.54,275.71 L1097.66,275.96 L1097.77,276.22 L1097.88,276.48 L1097.97,276.74 L1098.06,277.00 L1098.14,277.26 L1098.21,277.51 L1098.28,277.77 L1098.33,278.01 L1098.38,278.26 L1098.42,278.49 L1098.45,278.73 L1098.46,278.95 L1098.47,279.17 L1098.48,279.38 L1098.47,279.58 L1098.45,279.77 L1098.42,279.96 L1098.39,280.13 L1098.34,280.30 L1098.29,280.45 L1098.23,280.59 L1098.15,280.72 L1098.08,280.84 L1097.99,280.94 L1097.89,281.04 L1097.79,281.12 L1097.68,281.18"/>
<path d="M957.8,257.5 L1029.9,215.0 L1048.3,242.9 L1060.5,261.3 L1069.7,281.2 L1073.6,307.3 L1071.3,322.6 L1063.6,331.8 L1020.7,355.6 L971.6,338.0 Z" fill="#fff" stroke="none"/>
<path d="M957.8,257.5 L1029.9,215.0"/>
<path d="M1048.3,242.9 C1050.3,246.0 1057.0,254.9 1060.5,261.3 C1064.1,267.7 1067.6,273.6 1069.7,281.2 C1071.9,288.9 1073.3,300.4 1073.6,307.3 C1073.8,314.2 1072.9,318.5 1071.3,322.6 C1069.6,326.8 1064.9,330.5 1063.6,332.1"/>
<path d="M1020.7,355.6 L1063.6,332.1"/>
<path d="M1030.9,214.2 C1031.6,214.3 1032.2,213.7 1034.6,214.6 C1037.0,215.5 1043.4,218.5 1045.5,219.7 C1047.7,220.9 1047.4,221.5 1047.7,221.9"/>
<path d="M1042.3,223.0 C1043.1,223.5 1045.9,226.1 1047.0,226.3 C1048.2,226.5 1048.8,224.6 1049.2,224.2"/>
<path d="M1059.8,231.0 L1060.1,261.3"/>
<path d="M1020.0,259.1 L1058.7,231.4"/>
<path d="M1026.6,250.4 L1056.5,233.6"/>
<path d="M1045.2,244.5 L1056.1,238.7 L1056.5,249.6"/>
<path d="M1049.9,223.4 C1050.4,222.3 1053.9,220.9 1055.8,220.8 C1057.6,220.7 1059.5,221.7 1060.9,222.6 C1062.2,223.5 1063.4,224.9 1063.8,226.3 C1064.2,227.6 1064.0,229.8 1063.1,230.7 C1062.1,231.5 1059.7,232.0 1058.0,231.4 C1056.3,230.8 1054.2,228.3 1052.8,227.0 C1051.5,225.7 1049.4,224.4 1049.9,223.4 Z" fill="#fff"/>
<path d="M1058.0,228.5 C1058.3,226.9 1061.4,225.4 1063.1,225.5 C1064.8,225.7 1067.0,227.4 1068.2,229.2 C1069.4,231.0 1070.1,234.3 1070.4,236.5 C1070.6,238.7 1071.1,240.6 1069.6,242.3 C1068.2,244.0 1063.1,247.9 1061.6,246.7 C1060.1,245.5 1061.5,238.1 1060.9,235.0 C1060.3,232.0 1057.6,230.0 1058.0,228.5 Z" fill="#fff"/>
<path d="M1060.9,240.9 C1061.6,240.6 1064.0,239.9 1065.3,239.4 C1066.5,238.9 1068.0,238.2 1068.5,238.0"/>
<path d="M1098.1,218.5 L1098.6,217.9 L1098.9,217.0 L1098.9,215.8 L1098.6,214.5 L1098.1,213.0 L1097.3,211.5 L1096.4,210.1 L1095.3,209.0 L1094.2,208.0 L1093.2,207.5 L1092.3,207.3 L1091.5,207.5 L1063.8,224.0 L1063.3,224.6 L1063.0,225.5 L1063.0,226.7 L1063.3,228.1 L1063.8,229.6 L1064.6,231.0 L1065.5,232.4 L1066.6,233.6 L1067.7,234.5 L1068.7,235.1 L1069.6,235.3 L1070.4,235.1 Z" fill="#fff"/>
<path d="M1065.55,223.05 L1065.68,222.98 L1065.83,222.93 L1065.98,222.89 L1066.14,222.87 L1066.30,222.87 L1066.48,222.88 L1066.66,222.90 L1066.84,222.94 L1067.03,223.00 L1067.23,223.07 L1067.43,223.16 L1067.63,223.26 L1067.84,223.38 L1068.05,223.51 L1068.26,223.66 L1068.47,223.82 L1068.68,223.99 L1068.90,224.17 L1069.11,224.37 L1069.32,224.58 L1069.53,224.80 L1069.74,225.03 L1069.95,225.27 L1070.15,225.52 L1070.35,225.78 L1070.54,226.04 L1070.73,226.32 L1070.91,226.59 L1071.09,226.88 L1071.26,227.17 L1071.43,227.46 L1071.58,227.76 L1071.73,228.06 L1071.88,228.36 L1072.01,228.66 L1072.13,228.96 L1072.25,229.26 L1072.35,229.56 L1072.45,229.85 L1072.53,230.14 L1072.61,230.43 L1072.67,230.71 L1072.73,230.99 L1072.77,231.26 L1072.80,231.52 L1072.82,231.78 L1072.83,232.03 L1072.83,232.26 L1072.82,232.49 L1072.79,232.71 L1072.76,232.91 L1072.71,233.11 L1072.65,233.29 L1072.59,233.46 L1072.51,233.61 L1072.42,233.75 L1072.32,233.88 L1072.21,233.99 L1072.10,234.09 L1071.97,234.18"/>
<path d="M1068.69,221.15 L1068.82,221.08 L1068.97,221.03 L1069.12,220.99 L1069.28,220.97 L1069.44,220.97 L1069.62,220.98 L1069.80,221.00 L1069.98,221.05 L1070.17,221.10 L1070.37,221.18 L1070.57,221.26 L1070.77,221.37 L1070.98,221.48 L1071.19,221.61 L1071.40,221.76 L1071.61,221.92 L1071.82,222.09 L1072.04,222.28 L1072.25,222.47 L1072.46,222.68 L1072.67,222.90 L1072.88,223.13 L1073.08,223.37 L1073.29,223.62 L1073.48,223.88 L1073.68,224.15 L1073.87,224.42 L1074.05,224.70 L1074.23,224.98 L1074.40,225.27 L1074.57,225.56 L1074.72,225.86 L1074.87,226.16 L1075.01,226.46 L1075.15,226.76 L1075.27,227.06 L1075.39,227.36 L1075.49,227.66 L1075.59,227.95 L1075.67,228.25 L1075.75,228.53 L1075.81,228.82 L1075.86,229.09 L1075.91,229.36 L1075.94,229.63 L1075.96,229.88 L1075.97,230.13 L1075.97,230.37 L1075.95,230.59 L1075.93,230.81 L1075.90,231.02 L1075.85,231.21 L1075.79,231.39 L1075.73,231.56 L1075.65,231.71 L1075.56,231.86 L1075.46,231.98 L1075.35,232.10 L1075.24,232.19 L1075.11,232.28"/>
<path d="M1071.82,219.33 L1071.96,219.26 L1072.10,219.21 L1072.26,219.17 L1072.42,219.15 L1072.58,219.14 L1072.76,219.15 L1072.94,219.18 L1073.12,219.22 L1073.31,219.28 L1073.51,219.35 L1073.71,219.44 L1073.91,219.54 L1074.12,219.66 L1074.32,219.79 L1074.54,219.94 L1074.75,220.09 L1074.96,220.27 L1075.17,220.45 L1075.39,220.65 L1075.60,220.86 L1075.81,221.08 L1076.02,221.31 L1076.22,221.55 L1076.42,221.80 L1076.62,222.05 L1076.82,222.32 L1077.01,222.59 L1077.19,222.87 L1077.37,223.16 L1077.54,223.45 L1077.70,223.74 L1077.86,224.03 L1078.01,224.33 L1078.15,224.63 L1078.29,224.93 L1078.41,225.23 L1078.52,225.53 L1078.63,225.83 L1078.72,226.13 L1078.81,226.42 L1078.89,226.71 L1078.95,226.99 L1079.00,227.27 L1079.05,227.54 L1079.08,227.80 L1079.10,228.06 L1079.11,228.30 L1079.11,228.54 L1079.09,228.77 L1079.07,228.99 L1079.03,229.19 L1078.99,229.38 L1078.93,229.57 L1078.86,229.73 L1078.79,229.89 L1078.70,230.03 L1078.60,230.16 L1078.49,230.27 L1078.37,230.37 L1078.25,230.45"/>
<path d="M1074.89,217.43 L1075.03,217.36 L1075.17,217.31 L1075.32,217.27 L1075.48,217.25 L1075.65,217.25 L1075.82,217.26 L1076.00,217.28 L1076.19,217.32 L1076.38,217.38 L1076.57,217.45 L1076.77,217.54 L1076.98,217.64 L1077.18,217.76 L1077.39,217.89 L1077.60,218.04 L1077.81,218.20 L1078.03,218.37 L1078.24,218.55 L1078.45,218.75 L1078.66,218.96 L1078.87,219.18 L1079.08,219.41 L1079.29,219.65 L1079.49,219.90 L1079.69,220.16 L1079.88,220.42 L1080.07,220.70 L1080.26,220.97 L1080.43,221.26 L1080.61,221.55 L1080.77,221.84 L1080.93,222.14 L1081.08,222.44 L1081.22,222.74 L1081.35,223.04 L1081.48,223.34 L1081.59,223.64 L1081.70,223.93 L1081.79,224.23 L1081.88,224.52 L1081.95,224.81 L1082.02,225.09 L1082.07,225.37 L1082.11,225.64 L1082.14,225.90 L1082.16,226.16 L1082.17,226.41 L1082.17,226.64 L1082.16,226.87 L1082.14,227.09 L1082.10,227.29 L1082.05,227.49 L1082.00,227.67 L1081.93,227.84 L1081.85,227.99 L1081.76,228.13 L1081.67,228.26 L1081.56,228.37 L1081.44,228.47 L1081.31,228.56"/>
<path d="M1078.03,215.61 L1078.16,215.54 L1078.31,215.48 L1078.46,215.45 L1078.62,215.43 L1078.79,215.42 L1078.96,215.43 L1079.14,215.46 L1079.33,215.50 L1079.52,215.56 L1079.71,215.63 L1079.91,215.72 L1080.11,215.82 L1080.32,215.94 L1080.53,216.07 L1080.74,216.21 L1080.95,216.37 L1081.17,216.54 L1081.38,216.73 L1081.59,216.93 L1081.80,217.13 L1082.01,217.35 L1082.22,217.58 L1082.43,217.83 L1082.63,218.07 L1082.83,218.33 L1083.02,218.60 L1083.21,218.87 L1083.39,219.15 L1083.57,219.43 L1083.74,219.72 L1083.91,220.02 L1084.07,220.31 L1084.22,220.61 L1084.36,220.91 L1084.49,221.21 L1084.61,221.51 L1084.73,221.81 L1084.83,222.11 L1084.93,222.41 L1085.01,222.70 L1085.09,222.99 L1085.15,223.27 L1085.21,223.55 L1085.25,223.82 L1085.28,224.08 L1085.30,224.33 L1085.31,224.58 L1085.31,224.82 L1085.30,225.05 L1085.27,225.26 L1085.24,225.47 L1085.19,225.66 L1085.14,225.84 L1085.07,226.01 L1084.99,226.17 L1084.90,226.31 L1084.80,226.44 L1084.70,226.55 L1084.58,226.65 L1084.45,226.73"/>
<path d="M1081.17,213.71 L1081.30,213.64 L1081.45,213.59 L1081.60,213.55 L1081.76,213.53 L1081.93,213.52 L1082.10,213.53 L1082.28,213.56 L1082.46,213.60 L1082.65,213.66 L1082.85,213.73 L1083.05,213.82 L1083.25,213.92 L1083.46,214.04 L1083.67,214.17 L1083.88,214.31 L1084.09,214.47 L1084.30,214.65 L1084.52,214.83 L1084.73,215.03 L1084.94,215.24 L1085.15,215.46 L1085.36,215.69 L1085.57,215.93 L1085.77,216.18 L1085.97,216.43 L1086.16,216.70 L1086.35,216.97 L1086.53,217.25 L1086.71,217.54 L1086.88,217.82 L1087.05,218.12 L1087.20,218.41 L1087.35,218.71 L1087.50,219.01 L1087.63,219.31 L1087.75,219.61 L1087.87,219.91 L1087.97,220.21 L1088.07,220.51 L1088.15,220.80 L1088.23,221.09 L1088.29,221.37 L1088.35,221.65 L1088.39,221.92 L1088.42,222.18 L1088.44,222.44 L1088.45,222.68 L1088.45,222.92 L1088.44,223.15 L1088.41,223.36 L1088.38,223.57 L1088.33,223.76 L1088.28,223.95 L1088.21,224.11 L1088.13,224.27 L1088.04,224.41 L1087.94,224.54 L1087.84,224.65 L1087.72,224.75 L1087.59,224.83"/>
<path d="M1084.23,211.81 L1084.37,211.74 L1084.51,211.69 L1084.66,211.65 L1084.82,211.63 L1084.99,211.62 L1085.16,211.64 L1085.34,211.66 L1085.53,211.70 L1085.72,211.76 L1085.92,211.83 L1086.12,211.92 L1086.32,212.02 L1086.52,212.14 L1086.73,212.27 L1086.94,212.42 L1087.16,212.58 L1087.37,212.75 L1087.58,212.93 L1087.80,213.13 L1088.01,213.34 L1088.22,213.56 L1088.43,213.79 L1088.63,214.03 L1088.83,214.28 L1089.03,214.54 L1089.23,214.80 L1089.42,215.07 L1089.60,215.35 L1089.78,215.64 L1089.95,215.93 L1090.11,216.22 L1090.27,216.52 L1090.42,216.82 L1090.56,217.12 L1090.69,217.42 L1090.82,217.72 L1090.93,218.02 L1091.04,218.31 L1091.13,218.61 L1091.22,218.90 L1091.29,219.19 L1091.36,219.47 L1091.41,219.75 L1091.45,220.02 L1091.49,220.28 L1091.51,220.54 L1091.52,220.79 L1091.51,221.02 L1091.50,221.25 L1091.48,221.47 L1091.44,221.67 L1091.40,221.87 L1091.34,222.05 L1091.27,222.22 L1091.20,222.37 L1091.11,222.51 L1091.01,222.64 L1090.90,222.75 L1090.78,222.85 L1090.66,222.94"/>
<path d="M1087.37,209.98 L1087.51,209.92 L1087.65,209.86 L1087.80,209.83 L1087.96,209.81 L1088.13,209.80 L1088.30,209.81 L1088.48,209.84 L1088.67,209.88 L1088.86,209.93 L1089.05,210.01 L1089.25,210.09 L1089.46,210.20 L1089.66,210.31 L1089.87,210.45 L1090.08,210.59 L1090.30,210.75 L1090.51,210.92 L1090.72,211.11 L1090.93,211.31 L1091.15,211.51 L1091.36,211.73 L1091.56,211.96 L1091.77,212.20 L1091.97,212.45 L1092.17,212.71 L1092.36,212.98 L1092.55,213.25 L1092.74,213.53 L1092.92,213.81 L1093.09,214.10 L1093.25,214.40 L1093.41,214.69 L1093.56,214.99 L1093.70,215.29 L1093.83,215.59 L1093.96,215.89 L1094.07,216.19 L1094.18,216.49 L1094.27,216.79 L1094.36,217.08 L1094.43,217.37 L1094.50,217.65 L1094.55,217.93 L1094.59,218.20 L1094.63,218.46 L1094.65,218.71 L1094.66,218.96 L1094.65,219.20 L1094.64,219.43 L1094.62,219.64 L1094.58,219.85 L1094.54,220.04 L1094.48,220.22 L1094.41,220.39 L1094.33,220.55 L1094.25,220.69 L1094.15,220.82 L1094.04,220.93 L1093.92,221.03 L1093.80,221.11"/>
<path d="M905.2,306.9 C905.3,302.2 905.8,295.2 907.6,289.9 C909.4,284.5 912.2,279.3 916.1,274.7 C920.1,270.1 926.1,265.2 931.3,262.3 C936.5,259.5 942.9,258.2 947.4,257.4 C952.0,256.6 954.1,256.5 958.8,257.6 C963.6,258.7 970.7,261.2 975.9,264.2 C981.1,267.2 985.7,270.7 990.1,275.6 C994.6,280.5 998.5,286.9 1002.5,293.7 C1006.4,300.5 1010.9,308.7 1013.9,316.4 C1016.9,324.2 1019.4,333.5 1020.5,340.1 C1021.6,346.8 1021.3,351.4 1020.5,356.3 C1019.7,361.2 1018.1,365.8 1015.8,369.6 C1013.4,373.4 1010.6,376.4 1006.3,379.1 C1002.0,381.7 995.5,384.4 990.1,385.7 C984.8,387.0 980.2,387.4 974.0,386.6 C967.8,385.9 960.1,384.8 953.1,381.0 C946.2,377.2 938.6,371.1 932.3,363.9 C925.9,356.6 919.4,344.9 915.2,337.3 C911.0,329.7 908.8,323.4 907.1,318.3 C905.5,313.3 905.1,311.7 905.2,306.9 Z" fill="#fff"/>
<path d="M956.9,257.8 C960.4,259.3 971.7,262.4 977.8,267.1 C983.9,271.8 988.6,278.9 993.5,286.1 C998.4,293.2 1003.7,301.9 1007.2,309.8 C1010.8,317.7 1013.3,326.1 1014.8,333.5 C1016.3,340.9 1016.7,348.5 1016.2,354.4 C1015.8,360.2 1014.2,364.7 1012.0,368.6 C1009.8,372.6 1006.6,375.4 1003.0,378.1 C999.3,380.8 992.3,383.6 990.1,384.8"/>
<path d="M953.1,269.0 C956.6,270.6 967.8,274.0 974.0,278.5 C980.2,282.9 985.7,289.2 990.1,295.5 C994.6,301.9 998.1,309.0 1000.6,316.4 C1003.1,323.9 1004.7,333.0 1005.3,340.1 C1006.0,347.3 1005.6,353.8 1004.4,359.1 C1003.1,364.5 1000.9,368.8 997.7,372.4 C994.6,376.1 987.5,379.5 985.4,381.0"/>
<path d="M936.1,271.8 C939.5,272.8 950.3,274.4 956.9,277.5 C963.6,280.7 970.4,285.3 975.9,290.8 C981.5,296.3 986.5,303.6 990.1,310.7 C993.8,317.8 996.2,326.2 997.7,333.5 C999.2,340.8 999.6,348.1 999.2,354.4 C998.7,360.7 996.6,367.7 994.9,371.5 C993.2,375.3 990.1,376.2 989.2,377.2"/>
<path d="M1008.2,352.0 C1008.0,354.0 1008.2,360.0 1007.2,363.9 C1006.3,367.7 1004.4,373.0 1002.5,375.3 C1000.6,377.6 997.0,377.2 995.8,377.6"/>
<path d="M951.2,376.7 C953.8,377.7 961.2,381.8 966.4,382.9 C971.6,383.9 978.3,383.3 982.6,382.9 C986.8,382.4 990.5,380.5 992.0,380.0"/>
<path d="M910.0,306.9 C910.4,304.6 910.8,296.8 912.3,292.7 C913.8,288.6 916.3,284.8 919.0,282.3 C921.7,279.7 926.9,278.3 928.5,277.5"/>
<path d="M917.1,274.9 L928.5,269.9"/>
<path d="M933.7,267.6 C936.0,267.4 942.9,266.2 947.4,266.6 C952.0,267.0 958.5,269.4 960.7,269.9"/>
<path d="M918.5,318.3 C917.7,310.6 920.0,300.5 921.8,294.6 C923.6,288.7 925.9,285.6 929.4,283.2 C932.9,280.8 938.1,279.9 942.7,280.4 C947.3,280.8 951.7,282.7 956.9,286.1 C962.2,289.4 969.3,294.3 974.0,300.3 C978.8,306.3 982.6,314.7 985.4,322.1 C988.3,329.6 990.2,337.9 991.1,344.9 C992.0,351.9 991.9,359.1 990.6,363.9 C989.4,368.6 986.6,371.3 983.5,373.4 C980.4,375.4 976.5,376.2 972.1,376.2 C967.7,376.2 962.3,376.1 956.9,373.4 C951.6,370.7 944.9,365.5 939.9,360.1 C934.8,354.7 930.1,348.1 926.6,341.1 C923.0,334.1 919.3,326.1 918.5,318.3 Z"/>
<path d="M920.9,323.5 C920.5,320.8 918.2,312.4 918.5,306.9 C918.8,301.5 920.3,295.1 922.8,290.8 C925.2,286.5 931.5,282.9 933.2,281.3"/>
<path d="M945.1,362.5 C947.1,364.1 952.4,370.3 956.9,372.4 C961.4,374.5 967.4,375.7 972.1,375.3 C976.9,374.8 982.4,372.3 985.4,369.6 C988.4,366.9 989.4,360.9 990.1,359.1"/>
<path d="M940.3,297.4 L947.0,302.2"/>
<path d="M936.1,311.7 L940.3,314.5"/>
<path d="M931.3,327.3 L954.1,303.1"/>
<path d="M939.4,339.7 L964.5,312.6"/>
<path d="M953.1,346.3 L970.7,326.9"/>
<path d="M956.0,333.5 L962.2,330.2"/>
<path d="M970.7,337.8 C971.4,338.2 973.6,340.4 975.0,340.1 C976.3,339.9 978.4,337.6 978.8,336.4 C979.2,335.1 977.6,333.2 977.3,332.6"/>
<!-- g03.txt -->
<path d="M240.0,472.1 C241.8,471.1 246.1,467.6 250.5,466.0 C254.9,464.4 259.9,463.4 266.3,462.5 C272.7,461.6 281.2,460.3 289.1,460.7 C296.9,461.2 304.2,462.9 313.6,465.1 C322.9,467.3 335.5,471.2 345.1,473.9 C354.8,476.5 364.1,479.5 371.4,480.9 C378.7,482.3 381.6,482.1 388.9,482.1 C396.2,482.1 406.4,482.3 415.2,480.9 C424.0,479.5 433.1,476.8 441.5,473.9 C449.8,471.0 461.2,465.1 465.1,463.4"/>
<path d="M240.0,475.6 C242.0,474.6 247.0,471.1 252.3,469.5 C257.5,467.9 263.4,466.3 271.5,466.0 C279.7,465.7 292.0,466.7 301.3,467.7 C310.7,468.8 317.4,469.6 327.6,472.1 C337.8,474.6 351.0,480.2 362.6,482.6 C374.3,485.0 387.5,486.1 397.7,486.5 C407.9,486.8 415.2,486.2 424.0,484.7 C432.7,483.3 443.1,480.9 450.2,477.7 C457.4,474.6 464.1,467.9 466.9,466.0"/>
<path d="M240.0,480.9 C242.9,480.2 250.2,478.1 257.5,476.5 C264.8,474.9 274.5,471.8 283.8,471.2 C293.1,470.7 303.4,471.4 313.6,473.0 C323.8,474.6 334.0,478.1 345.1,480.9 C356.2,483.7 368.5,487.8 380.2,489.6 C391.8,491.5 405.0,492.3 415.2,491.7 C425.4,491.2 431.7,489.2 441.5,486.5 C451.3,483.8 468.5,477.4 473.9,475.6"/>
<path d="M240.0,486.1 C243.2,485.6 250.5,484.2 259.3,482.6 C268.0,481.0 281.2,476.8 292.6,476.5 C303.9,476.2 315.9,478.8 327.6,480.9 C339.3,483.0 351.0,486.7 362.6,489.1 C374.3,491.5 386.0,494.5 397.7,495.2 C409.4,496.0 422.5,495.0 432.7,493.5 C442.9,492.0 451.8,488.6 459.0,486.5 C466.1,484.4 472.9,481.8 475.6,480.9"/>
<path d="M217.7,477.1 L236.8,466.0 L242.0,465.3 L249.9,468.9 L257.8,479.4 L263.1,489.9 L263.7,497.8 L260.4,505.0 L250.6,510.0 L239.4,492.6 Z" fill="#fff" stroke="none"/>
<path d="M217.7,477.1 L236.8,466.0"/>
<path d="M236.8,466.0 C237.7,465.8 239.9,464.8 242.0,465.3 C244.2,465.8 247.3,466.6 249.9,468.9 C252.6,471.3 255.6,475.9 257.8,479.4 C260.0,482.9 262.1,486.9 263.1,489.9 C264.1,493.0 264.2,495.3 263.7,497.8 C263.3,500.3 261.4,503.6 260.4,505.0 C259.5,506.5 258.3,506.1 257.8,506.4"/>
<path d="M235.5,466.9 C236.4,467.0 238.8,466.7 240.7,467.6 C242.7,468.5 245.0,469.8 247.3,472.2 C249.6,474.6 252.6,478.7 254.5,482.0 C256.5,485.4 258.4,489.3 259.1,492.6 C259.8,495.8 259.4,499.5 258.8,501.8 C258.3,504.1 257.2,505.0 255.8,506.4 C254.5,507.7 251.5,509.4 250.6,510.0"/>
<path d="M259.8,505.0 L264.4,511.9"/>
<path d="M135.8,491.1 L172.3,469.9 L185.5,466.7 L198.6,468.5 L213.2,475.0 L226.4,483.8 L238.0,494.0 L251.2,510.1 L261.4,530.5 L268.7,550.9 L272.3,564.1 L222.0,593.3 L135.8,586.0 Z" fill="#fff" stroke="none"/>
<path d="M172.3,469.9 C174.5,469.4 181.1,467.0 185.5,466.7 C189.9,466.5 194.0,467.1 198.6,468.5 C203.2,469.9 208.6,472.5 213.2,475.0 C217.8,477.6 222.2,480.6 226.4,483.8 C230.5,487.0 233.9,489.6 238.0,494.0 C242.2,498.4 247.3,504.0 251.2,510.1 C255.1,516.2 258.5,523.7 261.4,530.5 C264.3,537.3 266.9,545.3 268.7,550.9 C270.5,556.6 271.7,562.1 272.3,564.4"/>
<path d="M135.8,491.1 L172.3,469.9"/>
<path d="M222.0,594.2 L318.3,545.1 L321.0,560.9 L319.2,583.7 L315.7,588.0 L215.8,645.0 L200.1,632.7 Z" fill="#fff"/>
<path d="M264.0,500.1 C265.3,502.3 269.1,509.8 271.9,513.3 C274.7,516.8 276.4,518.2 280.7,521.2 C284.9,524.1 290.9,527.1 297.3,530.8 C303.7,534.5 315.5,541.2 319.2,543.2"/>
<path d="M285.0,529.5 L310.0,543.9 L271.9,564.5"/>
<path d="M278.0,567.6 L318.8,544.6"/>
<path d="M267.5,542.2 C269.7,540.9 277.4,535.9 280.7,534.7 C283.9,533.6 284.6,534.1 286.8,535.2 C289.0,536.3 291.8,539.0 293.8,541.3 C295.8,543.6 297.8,547.5 298.6,548.8"/>
<path d="M297.7,530.8 C297.4,529.6 300.9,528.5 302.6,527.7 C304.2,526.9 306.1,526.0 307.8,526.0 C309.6,526.0 311.6,526.8 313.1,527.7 C314.5,528.7 316.3,530.3 316.6,531.7 C316.9,533.1 316.9,535.5 314.8,536.1 C312.8,536.6 307.2,536.1 304.3,535.2 C301.5,534.3 298.0,532.0 297.7,530.8 Z" fill="#fff"/>
<path d="M304.3,535.2 L314.8,529.9"/>
<path d="M346.3,513.7 C352.0,511.2 349.5,514.1 350.7,515.0 C352.0,516.0 353.1,518.0 353.8,519.4 C354.4,520.9 354.7,522.4 354.7,523.8 C354.6,525.2 358.3,524.4 353.4,527.7 C348.4,531.1 330.4,541.7 324.9,543.9 C319.3,546.2 321.5,543.6 320.1,541.3 C318.7,539.0 312.2,535.0 316.6,530.4 C320.9,525.8 340.7,516.3 346.3,513.7 Z" fill="#fff"/>
<path d="M319.2,531.7 C319.9,532.3 322.2,533.9 323.1,535.2 C324.1,536.5 324.6,538.1 324.9,539.6 C325.2,541.0 324.9,543.2 324.9,543.9"/>
<path d="M323.0,529.6 C323.7,530.2 326.0,531.8 327.0,533.1 C327.9,534.4 328.5,536.0 328.7,537.5 C329.0,538.9 328.7,541.1 328.7,541.8"/>
<path d="M326.9,527.4 C327.6,528.0 329.9,529.6 330.8,530.9 C331.8,532.2 332.3,533.8 332.6,535.3 C332.9,536.7 332.6,538.9 332.6,539.6"/>
<path d="M330.8,525.2 C331.4,525.8 333.7,527.4 334.7,528.7 C335.6,530.0 336.2,531.6 336.5,533.1 C336.7,534.5 336.5,536.7 336.5,537.5"/>
<path d="M334.6,523.1 C335.3,523.7 337.6,525.3 338.6,526.6 C339.5,527.9 340.0,529.5 340.3,531.0 C340.6,532.4 340.3,534.6 340.3,535.4"/>
<path d="M338.5,521.0 C339.1,521.6 341.5,523.2 342.4,524.5 C343.4,525.8 343.9,527.4 344.2,528.9 C344.4,530.3 344.2,532.5 344.2,533.3"/>
<path d="M342.3,518.8 C343.0,519.4 345.3,521.0 346.3,522.3 C347.2,523.6 347.7,525.2 348.0,526.7 C348.3,528.1 348.0,530.3 348.0,531.1"/>
<path d="M346.2,516.6 C346.8,517.2 349.2,518.8 350.1,520.1 C351.1,521.4 351.6,523.0 351.9,524.5 C352.2,526.0 351.9,528.1 351.9,528.9"/>
<path d="M316.6,530.8 C317.4,531.7 320.5,533.7 321.8,536.1 C323.1,538.4 324.0,542.2 324.5,544.8 C324.9,547.4 324.9,549.9 324.5,551.8 C324.0,553.7 322.3,555.5 321.8,556.2"/>
<path d="M319.2,543.9 C319.3,544.7 319.8,544.0 320.1,548.3 C320.4,552.7 320.8,566.4 320.9,570.0"/>
<path d="M98.24,496.50 L99.55,495.63 L100.89,494.80 L102.27,494.04 L103.68,493.33 L105.13,492.68 L106.60,492.09 L108.11,491.56 L109.65,491.08 L111.22,490.66 L112.81,490.31 L114.43,490.01 L116.08,489.77 L117.75,489.60 L119.45,489.48 L121.17,489.42 L122.90,489.43 L124.66,489.49 L126.44,489.61 L128.23,489.80 L130.04,490.04 L131.87,490.35 L133.71,490.71 L135.56,491.13 L137.42,491.61 L139.30,492.15 L141.18,492.75 L143.07,493.41 L144.96,494.12 L146.86,494.89 L148.77,495.72 L150.67,496.60 L152.58,497.54 L154.48,498.54 L156.39,499.58 L158.29,500.68 L160.18,501.84 L162.07,503.04 L163.96,504.30 L165.83,505.60 L167.70,506.96 L169.55,508.36 L171.39,509.81 L173.22,511.31 L175.04,512.85 L176.84,514.43 L178.62,516.06 L180.38,517.73 L182.13,519.44 L183.85,521.20 L185.55,522.99 L187.23,524.81 L188.88,526.68 L190.51,528.57 L192.11,530.50 L193.69,532.47 L195.23,534.46 L196.75,536.48 L198.23,538.53 L199.69,540.61 L201.11,542.71 L202.50,544.84 L203.85,546.99 L205.16,549.16 L206.44,551.35 L207.69,553.55 L208.89,555.78 L210.06,558.01 L211.18,560.27 L212.27,562.53 L213.31,564.80 L214.31,567.08 L215.27,569.37 L216.19,571.66 L217.06,573.96 L217.88,576.26 L218.66,578.56 L219.40,580.86 L220.09,583.15 L220.73,585.45 L221.33,587.74 L221.87,590.02 L222.37,592.29 L222.82,594.55 L223.23,596.80 L223.58,599.03 L223.88,601.25 L224.14,603.46 L224.35,605.64 L224.50,607.81 L224.61,609.96 L224.66,612.08 L224.67,614.18 L224.63,616.26 L224.53,618.30 L224.39,620.32 L224.20,622.31 L223.95,624.27 L223.66,626.20 L223.32,628.09 L222.93,629.95 L222.49,631.78 L222.01,633.56 L221.47,635.31 L220.89,637.02 L220.26,638.68 L219.58,640.31 L218.86,641.89 L218.09,643.42 L217.27,644.92 L216.41,646.36 L215.51,647.76 L214.56,649.11 L213.57,650.41 L212.54,651.66 L211.47,652.86 L210.35,654.00 L209.20,655.10 L208.00,656.14 L206.77,657.13 L205.50,658.06 L182.18,674.86 L180.87,675.74 L179.53,676.56 L178.15,677.32 L176.74,678.03 L175.29,678.68 L173.82,679.27 L172.31,679.80 L170.77,680.28 L169.20,680.70 L167.61,681.05 L165.99,681.35 L164.34,681.59 L162.67,681.76 L160.97,681.88 L159.25,681.94 L157.51,681.93 L155.76,681.87 L153.98,681.75 L152.18,681.56 L150.37,681.32 L148.55,681.02 L146.71,680.65 L144.86,680.23 L142.99,679.75 L141.12,679.21 L139.24,678.61 L137.35,677.95 L135.46,677.24 L133.56,676.47 L131.65,675.64 L129.75,674.76 L127.84,673.82 L125.94,672.83 L124.03,671.78 L122.13,670.68 L120.24,669.52 L118.35,668.32 L116.46,667.06 L114.59,665.76 L112.72,664.40 L110.87,663.00 L109.02,661.55 L107.19,660.05 L105.38,658.51 L103.58,656.93 L101.80,655.30 L100.04,653.63 L98.29,651.92 L96.57,650.16 L94.87,648.37 L93.19,646.55 L91.54,644.68 L89.91,642.79 L88.31,640.86 L86.73,638.89 L85.19,636.90 L83.67,634.88 L82.18,632.83 L80.73,630.75 L79.31,628.65 L77.92,626.52 L76.57,624.37 L75.25,622.20 L73.97,620.01 L72.73,617.81 L71.53,615.58 L70.36,613.35 L69.24,611.10 L68.15,608.83 L67.11,606.56 L66.11,604.28 L65.15,601.99 L64.23,599.70 L63.36,597.40 L62.54,595.10 L61.75,592.80 L61.02,590.50 L60.33,588.21 L59.69,585.91 L59.09,583.63 L58.55,581.35 L58.05,579.07 L57.59,576.81 L57.19,574.56 L56.84,572.33 L56.53,570.11 L56.28,567.90 L56.07,565.72 L55.92,563.55 L55.81,561.40 L55.76,559.28 L55.75,557.18 L55.79,555.10 L55.89,553.06 L56.03,551.04 L56.22,549.05 L56.46,547.09 L56.76,545.16 L57.10,543.27 L57.49,541.41 L57.93,539.58 L58.41,537.80 L58.95,536.05 L59.53,534.34 L60.16,532.68 L60.84,531.05 L61.56,529.47 L62.33,527.94 L63.15,526.45 L64.00,525.00 L64.91,523.60 L65.86,522.25 L66.85,520.95 L67.88,519.70 L68.95,518.50 L70.07,517.36 L71.22,516.26 L72.42,515.22 L73.65,514.23 L74.92,513.30 Z" fill="#fff" fill="#fff"/>
<path d="M118.0,493.5 C120.8,494.0 129.7,494.9 135.0,496.5 C140.3,498.1 145.5,500.6 150.0,503.0 C154.5,505.4 156.9,506.3 161.9,510.7 C166.9,515.1 174.0,522.6 180.1,529.6 C186.2,536.6 193.5,544.2 198.4,553.0 C203.3,561.8 206.5,571.0 209.3,582.2 C212.1,593.4 214.5,610.7 215.2,620.0 C215.9,629.3 215.5,631.8 213.7,637.8 C211.9,643.8 208.2,650.7 204.5,656.2 C200.8,661.7 196.2,667.2 191.4,670.7 C186.6,674.2 178.2,676.1 175.6,677.2"/>
<path d="M71.9,516.1 C73.7,515.2 78.2,511.8 82.8,510.5 C87.4,509.2 93.6,508.3 99.3,508.5 C105.0,508.7 110.2,508.7 117.0,511.5 C123.8,514.3 133.1,520.2 140.0,525.3 C146.9,530.4 152.1,535.0 158.2,542.0 C164.3,549.0 171.6,559.1 176.5,567.6 C181.4,576.1 184.6,584.4 187.4,593.1 C190.2,601.8 192.1,613.4 193.3,620.0 C194.5,626.6 195.2,626.6 194.7,632.6 C194.2,638.6 192.8,649.9 190.1,656.2 C187.4,662.6 183.8,667.2 178.3,670.7 C172.8,674.2 160.7,676.1 157.2,677.2"/>
<path d="M67.5,531.5 C69.5,528.2 74.3,516.6 79.6,511.8 C84.9,506.9 93.3,504.0 99.3,502.4 C105.3,500.8 110.2,500.9 115.7,501.9 C121.2,502.9 127.2,505.5 132.1,508.5 C137.0,511.5 143.1,518.1 145.3,520.0"/>
<ellipse cx="124.40" cy="593.00" rx="83.46" ry="42.56" transform="rotate(60.29 124.40 593.00)"/>
<path d="M85.0,581.8 C84.2,577.6 80.6,564.5 80.1,556.6 C79.6,548.8 80.1,540.7 81.8,534.7 C83.5,528.7 89.0,522.9 90.5,520.5"/>
<path d="M119.1,638.5 C122.4,641.0 129.8,649.6 138.8,653.6 C147.8,657.6 167.3,661.3 173.0,662.8"/>
<path d="M194.4,591.0 C195.6,595.8 200.1,613.5 201.3,620.0 C202.6,626.5 202.5,624.4 201.9,630.0 C201.3,635.6 201.1,646.6 198.0,653.6 C194.9,660.6 188.6,667.9 183.5,672.0 C178.4,676.1 170.3,677.4 167.7,678.5"/>
<path d="M100.4,566.5 C100.3,563.9 99.3,555.4 99.8,551.2 C100.4,547.0 101.7,544.2 103.7,541.3 C105.6,538.4 109.7,535.2 111.3,533.7 C113.0,532.1 113.1,532.3 113.5,532.0"/>
<path d="M100.4,528.7 L104.7,536.4"/>
<path d="M91.6,545.1 L98.2,549.5"/>
<path d="M89.4,560.5 L97.6,565.4"/>
<path d="M91.6,574.2 L96.5,575.8"/>
<path d="M103.7,581.3 L106.9,589.5"/>
<path d="M98.2,590.6 L102.6,590.4"/>
<path d="M92.7,587.9 L117.3,556.6"/>
<path d="M95.4,612.5 L139.8,558.8"/>
<path d="M113.0,617.4 L141.4,583.5"/>
<path d="M125.0,595.5 C121.8,597.4 109.3,604.5 105.8,607.0 C102.4,609.6 104.0,609.9 104.2,610.8 C104.4,611.8 105.0,612.9 106.9,612.5 C108.9,612.0 114.2,608.8 115.7,608.1"/>
<path d="M131.6,589.5 C131.8,588.1 131.8,583.3 133.2,581.3 C134.6,579.3 137.7,577.6 139.8,577.4 C141.9,577.3 144.5,579.1 145.8,580.2 C147.1,581.3 147.2,583.4 147.4,584.0"/>
<path d="M148.5,589.5 C149.2,590.4 152.3,593.1 152.4,595.0 C152.5,596.8 150.7,599.3 149.1,600.4 C147.4,601.6 145.0,602.4 142.5,602.1 C140.1,601.8 135.7,599.3 134.3,598.8"/>
<path d="M146.4,582.4 L152.9,578.5 L156.8,585.7 L150.2,589.5 Z"/>
<path d="M133.6,626.0 L145.4,611.5"/>
<!-- g03b.txt -->
<path d="M500.7,441.8 C502.6,439.1 508.3,430.5 512.1,425.6 C515.9,420.7 520.2,416.0 523.5,412.3 C526.8,408.7 530.6,405.2 532.0,403.8"/>
<path d="M503.6,447.5 C505.6,444.8 512.0,436.2 515.9,431.3 C519.9,426.4 524.1,421.7 527.3,418.0 C530.5,414.4 533.6,410.9 534.9,409.5"/>
<path d="M508.3,451.2 C511.2,449.2 520.0,442.6 525.4,438.9 C530.8,435.3 536.2,432.1 540.6,429.4 C545.0,426.7 550.1,423.9 552.0,422.8"/>
<path d="M511.2,456.9 C513.9,454.9 522.1,448.2 527.3,444.6 C532.5,441.0 538.1,437.8 542.5,435.1 C546.9,432.4 552.0,429.6 553.9,428.5"/>
<path d="M619.4,348.8 C620.6,346.1 623.9,337.7 626.9,332.6 C629.9,327.6 633.7,322.8 637.4,318.4 C641.0,314.0 646.9,308.1 648.8,306.1"/>
<path d="M626.0,356.4 C627.6,353.5 632.3,344.5 635.5,339.3 C638.6,334.1 642.1,329.8 645.0,325.0 C647.8,320.3 651.3,313.2 652.6,310.8"/>
<path d="M625.0,359.2 C628.0,356.4 637.5,347.2 643.1,342.1 C648.6,337.1 653.7,333.1 658.3,328.8 C662.8,324.6 668.5,318.6 670.6,316.5"/>
<path d="M627.9,363.0 C630.9,360.1 640.2,351.0 645.9,345.9 C651.6,340.9 657.3,336.9 662.1,332.6 C666.8,328.4 672.3,322.4 674.4,320.3"/>
<path d="M641.2,370.6 C645.0,368.4 657.6,361.4 664.0,357.3 C670.3,353.2 674.7,349.1 679.1,345.9 C683.6,342.8 688.6,339.6 690.5,338.3"/>
<path d="M646.9,378.2 C650.3,375.6 661.7,367.4 667.7,363.0 C673.8,358.6 678.5,354.8 682.9,351.6 C687.4,348.4 692.4,345.3 694.3,344.0"/>
<path d="M639.3,368.7 C642.1,367.9 649.7,364.6 656.4,363.9 C663.0,363.3 671.9,365.7 679.1,364.9 C686.4,364.1 696.5,360.1 700.0,359.2"/>
<path d="M648.8,372.5 C651.9,372.2 661.4,371.5 667.7,370.6 C674.1,369.6 681.3,368.1 686.7,366.8 C692.1,365.5 697.8,363.6 700.0,363.0"/>
<path d="M502.0,449.5 L502.4,449.1 L502.7,448.5 L502.8,447.6 L502.6,446.6 L502.3,445.5 L501.8,444.5 L501.1,443.5 L500.4,442.6 L499.6,442.0 L498.9,441.6 L498.2,441.4 L497.6,441.6 L461.5,461.5 L461.1,461.9 L460.8,462.6 L460.8,463.4 L460.9,464.4 L461.2,465.5 L461.7,466.6 L462.4,467.6 L463.1,468.4 L463.9,469.1 L464.6,469.5 L465.3,469.6 L465.9,469.5 Z" fill="#fff"/>
<path d="M510.5,459.6 L511.0,459.2 L511.2,458.5 L511.3,457.6 L511.2,456.6 L510.8,455.6 L510.3,454.5 L509.7,453.5 L508.9,452.7 L508.2,452.0 L507.4,451.6 L506.7,451.5 L506.1,451.6 L469.7,471.9 L469.2,472.4 L469.0,473.0 L468.9,473.9 L469.1,474.9 L469.4,476.0 L469.9,477.0 L470.5,478.0 L471.3,478.9 L472.0,479.5 L472.8,479.9 L473.5,480.1 L474.1,479.9 Z" fill="#fff"/>
<path d="M572.1,396.7 L572.8,395.9 L573.2,394.5 L573.2,392.8 L572.8,390.8 L572.0,388.6 L570.8,386.4 L569.4,384.4 L567.9,382.6 L566.3,381.3 L564.7,380.5 L563.4,380.2 L562.3,380.5 L527.7,401.4 L526.9,402.2 L526.5,403.6 L526.6,405.3 L527.0,407.3 L527.8,409.5 L529.0,411.7 L530.4,413.7 L531.9,415.5 L533.5,416.8 L535.0,417.6 L536.4,417.9 L537.5,417.6 Z" fill="#fff"/>
<path d="M537.5,417.6 L538.3,416.8 L538.7,415.4 L538.7,413.7 L538.2,411.6 L537.4,409.5 L536.3,407.3 L534.9,405.3 L533.3,403.5 L531.7,402.2 L530.2,401.4 L528.8,401.1 L527.7,401.4 L526.9,402.2 L526.5,403.6 L526.6,405.3 L527.0,407.3 L527.8,409.5 L529.0,411.7 L530.4,413.7 L531.9,415.5 L533.5,416.8 L535.0,417.6 L536.4,417.9 Z"/>
<ellipse cx="533.00" cy="409.12" rx="2.85" ry="1.85" transform="rotate(60.0 533.00 409.12)"/>
<path d="M591.9,416.4 L592.7,415.5 L593.1,414.2 L593.1,412.4 L592.7,410.4 L591.9,408.2 L590.8,406.0 L589.4,404.0 L587.9,402.2 L586.3,400.8 L584.8,400.0 L583.4,399.7 L582.3,400.0 L547.6,420.3 L546.8,421.1 L546.4,422.5 L546.4,424.2 L546.8,426.2 L547.6,428.4 L548.7,430.6 L550.0,432.7 L551.6,434.4 L553.1,435.8 L554.7,436.6 L556.0,436.9 L557.1,436.7 Z" fill="#fff"/>
<path d="M557.1,436.7 L557.9,435.8 L558.3,434.5 L558.3,432.7 L557.9,430.7 L557.2,428.5 L556.0,426.3 L554.7,424.3 L553.2,422.5 L551.6,421.2 L550.1,420.3 L548.7,420.0 L547.6,420.3 L546.8,421.1 L546.4,422.5 L546.4,424.2 L546.8,426.2 L547.6,428.4 L548.7,430.6 L550.0,432.7 L551.6,434.4 L553.1,435.8 L554.7,436.6 L556.0,436.9 Z"/>
<ellipse cx="552.73" cy="428.09" rx="2.85" ry="1.85" transform="rotate(60.0 552.73 428.09)"/>
<path d="M626.2,365.8 L627.0,365.0 L627.5,363.6 L627.5,361.8 L627.0,359.6 L626.2,357.4 L625.1,355.1 L623.7,352.9 L622.1,351.1 L620.5,349.7 L618.9,348.8 L617.5,348.5 L616.3,348.8 L580.2,369.6 L579.4,370.5 L579.0,371.9 L579.0,373.7 L579.4,375.8 L580.2,378.1 L581.3,380.4 L582.8,382.5 L584.3,384.4 L586.0,385.8 L587.5,386.7 L589.0,387.0 L590.1,386.7 Z" fill="#fff"/>
<path d="M646.6,385.1 L647.4,384.3 L647.8,382.9 L647.8,381.0 L647.4,378.9 L646.5,376.7 L645.4,374.4 L643.9,372.3 L642.3,370.5 L640.7,369.1 L639.1,368.2 L637.7,367.9 L636.5,368.2 L601.6,389.1 L600.8,389.9 L600.3,391.3 L600.4,393.2 L600.8,395.3 L601.6,397.5 L602.8,399.8 L604.3,401.9 L605.9,403.7 L607.5,405.1 L609.1,406.0 L610.5,406.3 L611.7,406.0 Z" fill="#fff"/>
<path d="M576.6,372.5 C577.1,373.8 577.9,378.2 579.5,380.1 C581.1,382.0 584.1,383.7 586.1,383.9 C588.2,384.0 590.9,381.5 591.8,381.0"/>
<path d="M597.5,391.5 C598.2,392.7 599.7,397.2 601.3,399.1 C602.9,401.0 605.3,402.5 607.0,402.9 C608.8,403.2 611.0,401.3 611.8,401.0"/>
<path d="M560.5,380.1 C561.6,379.8 565.4,377.5 567.2,378.2 C568.9,378.8 571.3,382.3 571.0,383.9 C570.6,385.5 564.9,386.4 565.3,387.7 C565.6,388.9 571.6,390.8 572.9,391.5"/>
<path d="M580.4,400.0 C581.7,399.8 586.1,398.3 588.0,399.1 C589.9,399.8 592.1,403.2 591.8,404.8 C591.5,406.3 586.0,407.1 586.1,408.5 C586.3,410.0 591.7,412.5 592.8,413.3"/>
<!-- g08.txt -->
<path d="M1037.1,749.9 C1041.4,749.3 1052.4,746.6 1063.3,746.5 C1074.3,746.4 1089.6,748.8 1102.7,749.1 C1115.9,749.4 1128.6,749.4 1142.2,748.1 C1155.7,746.7 1177.2,742.4 1184.2,741.2"/>
<path d="M1039.7,755.7 C1045.8,755.1 1063.8,751.9 1076.5,752.3 C1089.2,752.7 1102.7,757.3 1115.9,758.0 C1129.0,758.8 1143.8,758.5 1155.3,757.0 C1166.8,755.5 1179.8,750.4 1184.7,749.1"/>
<path d="M1042.3,763.0 C1048.0,762.2 1064.2,758.4 1076.5,758.0 C1088.7,757.7 1102.7,759.8 1115.9,760.7 C1129.0,761.5 1143.7,763.8 1155.3,763.3 C1166.9,762.8 1180.5,758.7 1185.5,757.8"/>
<path d="M1043.6,772.2 C1049.1,771.2 1064.4,767.4 1076.5,765.9 C1088.5,764.4 1102.7,763.6 1115.9,763.3 C1129.0,763.0 1143.5,764.6 1155.3,764.4 C1167.1,764.1 1181.6,762.2 1186.8,761.7"/>
<path d="M1182.1,736.0 C1182.8,738.0 1185.9,743.2 1186.3,748.1 C1186.7,752.9 1185.0,762.1 1184.7,764.9"/>
<path d="M898.8,758.8 L1005.1,698.0 L1018.4,727.4 L1029.8,740.7 L1039.3,759.7 L1044.0,780.6 L1043.1,797.7 L1037.4,809.1 L957.7,851.8 L915.9,850.8 Z" fill="#fff" stroke="none"/>
<path d="M898.8,758.8 L1005.1,698.0"/>
<path d="M1018.4,727.4 C1020.3,729.7 1026.3,735.4 1029.8,740.7 C1033.3,746.1 1036.9,753.1 1039.3,759.7 C1041.7,766.4 1043.4,774.3 1044.0,780.6 C1044.7,786.9 1044.2,792.9 1043.1,797.7 C1042.0,802.5 1038.3,807.5 1037.4,809.4"/>
<path d="M957.7,851.8 L1037.4,809.4"/>
<path d="M1005.1,697.4 C1005.5,697.5 1005.7,696.8 1007.7,697.7 C1009.8,698.7 1015.6,701.6 1017.6,703.0 C1019.6,704.4 1019.2,705.7 1019.6,706.3"/>
<path d="M1014.3,706.3 C1015.1,706.8 1017.8,709.3 1018.9,709.6 C1020.1,709.8 1020.8,708.2 1021.2,707.9"/>
<path d="M1031.4,713.5 L1031.4,743.1"/>
<path d="M990.0,741.8 L1030.7,713.5"/>
<path d="M999.9,731.6 L1029.4,714.8"/>
<path d="M1016.9,727.3 L1027.5,720.7 L1027.8,730.9"/>
<path d="M1021.5,706.3 C1022.0,704.8 1025.0,704.1 1026.8,704.0 C1028.5,703.9 1030.5,704.7 1032.0,705.6 C1033.6,706.6 1035.1,708.1 1036.0,709.6 C1036.9,711.0 1038.0,713.0 1037.3,714.2 C1036.6,715.4 1034.2,717.0 1032.0,716.8 C1029.9,716.6 1025.9,714.6 1024.2,712.9 C1022.4,711.1 1021.1,707.8 1021.5,706.3 Z" fill="#fff"/>
<path d="M1029.4,709.6 C1029.8,708.9 1031.4,708.4 1032.7,708.9 C1034.0,709.5 1036.1,711.1 1037.3,712.9 C1038.5,714.6 1039.6,717.2 1039.9,719.4 C1040.3,721.6 1040.6,724.3 1039.3,726.0 C1038.0,727.6 1033.3,729.9 1032.0,729.3 C1030.8,728.6 1032.3,724.8 1032.0,722.0 C1031.8,719.3 1031.2,714.9 1030.7,712.9 C1030.3,710.8 1029.1,710.2 1029.4,709.6 Z" fill="#fff"/>
<path d="M1032.0,722.0 C1032.7,721.9 1034.8,721.5 1036.0,721.1 C1037.1,720.6 1038.5,719.7 1038.9,719.4"/>
<path d="M1065.8,702.2 L1066.3,701.7 L1066.6,700.9 L1066.6,699.8 L1066.3,698.6 L1065.9,697.2 L1065.2,695.9 L1064.4,694.7 L1063.4,693.6 L1062.5,692.8 L1061.5,692.2 L1060.7,692.0 L1060.0,692.2 L1034.7,706.9 L1034.3,707.4 L1034.0,708.2 L1034.0,709.3 L1034.2,710.5 L1034.7,711.8 L1035.4,713.2 L1036.2,714.4 L1037.1,715.5 L1038.1,716.3 L1039.0,716.9 L1039.9,717.0 L1040.5,716.9 Z" fill="#fff"/>
<path d="M1036.23,705.97 L1036.36,705.92 L1036.49,705.87 L1036.63,705.84 L1036.77,705.83 L1036.92,705.83 L1037.08,705.84 L1037.24,705.87 L1037.40,705.92 L1037.57,705.97 L1037.75,706.05 L1037.92,706.13 L1038.10,706.23 L1038.28,706.34 L1038.47,706.47 L1038.65,706.60 L1038.84,706.75 L1039.03,706.92 L1039.21,707.09 L1039.40,707.27 L1039.58,707.47 L1039.76,707.67 L1039.94,707.89 L1040.12,708.11 L1040.29,708.34 L1040.47,708.58 L1040.63,708.82 L1040.79,709.07 L1040.95,709.33 L1041.10,709.59 L1041.25,709.86 L1041.38,710.12 L1041.52,710.40 L1041.64,710.67 L1041.76,710.94 L1041.87,711.22 L1041.97,711.49 L1042.07,711.77 L1042.15,712.04 L1042.23,712.31 L1042.30,712.57 L1042.35,712.83 L1042.40,713.09 L1042.44,713.34 L1042.47,713.59 L1042.49,713.82 L1042.50,714.05 L1042.50,714.28 L1042.50,714.49 L1042.48,714.69 L1042.45,714.89 L1042.41,715.07 L1042.36,715.24 L1042.31,715.41 L1042.24,715.56 L1042.17,715.69 L1042.08,715.82 L1041.99,715.93 L1041.89,716.03 L1041.78,716.11 L1041.66,716.18"/>
<path d="M1039.26,704.20 L1039.38,704.14 L1039.51,704.10 L1039.65,704.07 L1039.79,704.06 L1039.94,704.06 L1040.10,704.07 L1040.26,704.10 L1040.43,704.14 L1040.60,704.20 L1040.77,704.27 L1040.95,704.36 L1041.13,704.46 L1041.31,704.57 L1041.49,704.69 L1041.68,704.83 L1041.86,704.98 L1042.05,705.14 L1042.23,705.31 L1042.42,705.50 L1042.60,705.69 L1042.79,705.90 L1042.97,706.11 L1043.14,706.33 L1043.32,706.56 L1043.49,706.80 L1043.65,707.05 L1043.82,707.30 L1043.97,707.56 L1044.12,707.82 L1044.27,708.08 L1044.41,708.35 L1044.54,708.62 L1044.66,708.90 L1044.78,709.17 L1044.89,709.44 L1044.99,709.72 L1045.09,709.99 L1045.17,710.26 L1045.25,710.53 L1045.32,710.80 L1045.38,711.06 L1045.43,711.32 L1045.46,711.57 L1045.49,711.81 L1045.51,712.05 L1045.53,712.28 L1045.53,712.50 L1045.52,712.72 L1045.50,712.92 L1045.47,713.11 L1045.43,713.30 L1045.39,713.47 L1045.33,713.63 L1045.26,713.78 L1045.19,713.92 L1045.10,714.04 L1045.01,714.15 L1044.91,714.25 L1044.80,714.34 L1044.69,714.41"/>
<path d="M1042.21,702.49 L1042.34,702.43 L1042.47,702.39 L1042.61,702.36 L1042.75,702.35 L1042.90,702.35 L1043.06,702.36 L1043.22,702.39 L1043.38,702.43 L1043.55,702.49 L1043.73,702.56 L1043.90,702.65 L1044.08,702.75 L1044.26,702.86 L1044.45,702.98 L1044.63,703.12 L1044.82,703.27 L1045.00,703.43 L1045.19,703.61 L1045.38,703.79 L1045.56,703.98 L1045.74,704.19 L1045.92,704.40 L1046.10,704.63 L1046.27,704.86 L1046.44,705.09 L1046.61,705.34 L1046.77,705.59 L1046.93,705.85 L1047.08,706.11 L1047.23,706.37 L1047.36,706.64 L1047.50,706.91 L1047.62,707.19 L1047.74,707.46 L1047.85,707.74 L1047.95,708.01 L1048.05,708.28 L1048.13,708.56 L1048.21,708.82 L1048.27,709.09 L1048.33,709.35 L1048.38,709.61 L1048.42,709.86 L1048.45,710.10 L1048.47,710.34 L1048.48,710.57 L1048.48,710.79 L1048.47,711.01 L1048.46,711.21 L1048.43,711.41 L1048.39,711.59 L1048.34,711.76 L1048.29,711.92 L1048.22,712.07 L1048.14,712.21 L1048.06,712.33 L1047.97,712.45 L1047.87,712.54 L1047.76,712.63 L1047.64,712.70"/>
<path d="M1045.24,700.78 L1045.36,700.72 L1045.49,700.68 L1045.63,700.65 L1045.77,700.64 L1045.92,700.64 L1046.08,700.65 L1046.24,700.68 L1046.40,700.73 L1046.57,700.78 L1046.75,700.86 L1046.92,700.94 L1047.10,701.04 L1047.29,701.15 L1047.47,701.28 L1047.66,701.41 L1047.84,701.56 L1048.03,701.72 L1048.21,701.90 L1048.40,702.08 L1048.58,702.28 L1048.76,702.48 L1048.94,702.69 L1049.12,702.92 L1049.30,703.15 L1049.47,703.39 L1049.63,703.63 L1049.79,703.88 L1049.95,704.14 L1050.10,704.40 L1050.25,704.67 L1050.39,704.93 L1050.52,705.21 L1050.64,705.48 L1050.76,705.75 L1050.87,706.03 L1050.97,706.30 L1051.07,706.58 L1051.15,706.85 L1051.23,707.12 L1051.30,707.38 L1051.36,707.64 L1051.40,707.90 L1051.44,708.15 L1051.47,708.40 L1051.49,708.63 L1051.50,708.86 L1051.51,709.09 L1051.50,709.30 L1051.48,709.50 L1051.45,709.70 L1051.41,709.88 L1051.36,710.05 L1051.31,710.22 L1051.24,710.36 L1051.17,710.50 L1051.08,710.63 L1050.99,710.74 L1050.89,710.84 L1050.78,710.92 L1050.66,710.99"/>
<path d="M1048.26,699.01 L1048.38,698.95 L1048.51,698.91 L1048.65,698.88 L1048.79,698.87 L1048.95,698.87 L1049.10,698.88 L1049.26,698.91 L1049.43,698.95 L1049.60,699.01 L1049.77,699.08 L1049.95,699.17 L1050.13,699.26 L1050.31,699.38 L1050.49,699.50 L1050.68,699.64 L1050.86,699.79 L1051.05,699.95 L1051.24,700.12 L1051.42,700.31 L1051.60,700.50 L1051.79,700.71 L1051.97,700.92 L1052.14,701.14 L1052.32,701.37 L1052.49,701.61 L1052.66,701.86 L1052.82,702.11 L1052.97,702.36 L1053.12,702.63 L1053.27,702.89 L1053.41,703.16 L1053.54,703.43 L1053.67,703.71 L1053.78,703.98 L1053.89,704.25 L1054.00,704.53 L1054.09,704.80 L1054.18,705.07 L1054.25,705.34 L1054.32,705.61 L1054.38,705.87 L1054.43,706.13 L1054.47,706.38 L1054.50,706.62 L1054.52,706.86 L1054.53,707.09 L1054.53,707.31 L1054.52,707.53 L1054.50,707.73 L1054.47,707.92 L1054.43,708.11 L1054.39,708.28 L1054.33,708.44 L1054.26,708.59 L1054.19,708.73 L1054.11,708.85 L1054.01,708.96 L1053.91,709.06 L1053.80,709.15 L1053.69,709.22"/>
<path d="M1051.21,697.23 L1051.34,697.18 L1051.47,697.13 L1051.61,697.11 L1051.75,697.09 L1051.90,697.09 L1052.06,697.11 L1052.22,697.14 L1052.38,697.18 L1052.55,697.24 L1052.73,697.31 L1052.90,697.39 L1053.08,697.49 L1053.27,697.60 L1053.45,697.73 L1053.63,697.87 L1053.82,698.02 L1054.01,698.18 L1054.19,698.35 L1054.38,698.53 L1054.56,698.73 L1054.74,698.93 L1054.92,699.15 L1055.10,699.37 L1055.28,699.60 L1055.45,699.84 L1055.61,700.08 L1055.77,700.33 L1055.93,700.59 L1056.08,700.85 L1056.23,701.12 L1056.37,701.39 L1056.50,701.66 L1056.62,701.93 L1056.74,702.21 L1056.85,702.48 L1056.95,702.75 L1057.05,703.03 L1057.13,703.30 L1057.21,703.57 L1057.28,703.83 L1057.33,704.10 L1057.38,704.35 L1057.42,704.60 L1057.45,704.85 L1057.47,705.09 L1057.48,705.32 L1057.48,705.54 L1057.48,705.75 L1057.46,705.96 L1057.43,706.15 L1057.39,706.33 L1057.34,706.51 L1057.29,706.67 L1057.22,706.82 L1057.15,706.95 L1057.06,707.08 L1056.97,707.19 L1056.87,707.29 L1056.76,707.37 L1056.64,707.44"/>
<path d="M1054.24,695.53 L1054.36,695.47 L1054.49,695.43 L1054.63,695.40 L1054.77,695.38 L1054.92,695.38 L1055.08,695.40 L1055.24,695.43 L1055.41,695.47 L1055.58,695.53 L1055.75,695.60 L1055.93,695.68 L1056.11,695.78 L1056.29,695.89 L1056.47,696.02 L1056.66,696.16 L1056.84,696.31 L1057.03,696.47 L1057.21,696.64 L1057.40,696.83 L1057.58,697.02 L1057.77,697.22 L1057.95,697.44 L1058.12,697.66 L1058.30,697.89 L1058.47,698.13 L1058.63,698.37 L1058.80,698.63 L1058.95,698.88 L1059.10,699.14 L1059.25,699.41 L1059.39,699.68 L1059.52,699.95 L1059.65,700.22 L1059.76,700.50 L1059.87,700.77 L1059.98,701.05 L1060.07,701.32 L1060.15,701.59 L1060.23,701.86 L1060.30,702.13 L1060.36,702.39 L1060.41,702.64 L1060.44,702.89 L1060.47,703.14 L1060.50,703.38 L1060.51,703.61 L1060.51,703.83 L1060.50,704.04 L1060.48,704.25 L1060.45,704.44 L1060.41,704.62 L1060.37,704.80 L1060.31,704.96 L1060.24,705.11 L1060.17,705.25 L1060.08,705.37 L1059.99,705.48 L1059.89,705.58 L1059.78,705.66 L1059.67,705.74"/>
<path d="M1057.19,693.82 L1057.32,693.76 L1057.45,693.72 L1057.59,693.69 L1057.73,693.67 L1057.88,693.68 L1058.04,693.69 L1058.20,693.72 L1058.36,693.76 L1058.53,693.82 L1058.71,693.89 L1058.88,693.98 L1059.06,694.07 L1059.24,694.19 L1059.43,694.31 L1059.61,694.45 L1059.80,694.60 L1059.99,694.76 L1060.17,694.93 L1060.36,695.12 L1060.54,695.31 L1060.72,695.52 L1060.90,695.73 L1061.08,695.95 L1061.25,696.18 L1061.42,696.42 L1061.59,696.67 L1061.75,696.92 L1061.91,697.17 L1062.06,697.44 L1062.21,697.70 L1062.34,697.97 L1062.48,698.24 L1062.60,698.51 L1062.72,698.79 L1062.83,699.06 L1062.93,699.34 L1063.03,699.61 L1063.11,699.88 L1063.19,700.15 L1063.25,700.42 L1063.31,700.68 L1063.36,700.93 L1063.40,701.19 L1063.43,701.43 L1063.45,701.67 L1063.46,701.90 L1063.46,702.12 L1063.45,702.33 L1063.44,702.54 L1063.41,702.73 L1063.37,702.92 L1063.32,703.09 L1063.27,703.25 L1063.20,703.40 L1063.12,703.54 L1063.04,703.66 L1062.95,703.77 L1062.85,703.87 L1062.74,703.96 L1062.62,704.03"/>
<path d="M845.7,808.1 C845.4,801.5 846.6,796.1 848.5,791.1 C850.4,786.0 853.3,781.9 857.1,777.8 C860.9,773.7 865.9,769.4 871.3,766.4 C876.7,763.4 884.3,760.9 889.3,759.7 C894.4,758.6 897.3,758.8 901.7,759.7 C906.1,760.7 911.2,762.6 915.9,765.4 C920.7,768.3 925.7,771.9 930.1,776.8 C934.6,781.7 938.7,788.2 942.5,794.9 C946.3,801.5 950.4,809.4 952.9,816.7 C955.5,824.0 957.0,832.0 957.7,838.5 C958.3,845.0 958.0,850.5 956.7,855.6 C955.5,860.6 953.6,864.8 950.1,868.9 C946.6,873.0 941.1,877.7 935.8,880.3 C930.6,882.8 924.5,883.4 918.8,884.1 C913.1,884.7 908.0,886.1 901.7,884.1 C895.4,882.0 887.4,877.1 880.8,871.7 C874.2,866.3 866.9,858.6 861.8,851.8 C856.8,845.0 853.1,838.2 850.4,830.9 C847.7,823.6 846.0,814.8 845.7,808.1 Z" fill="#fff"/>
<path d="M858.0,776.8 C860.9,775.0 868.6,768.3 875.1,765.9 C881.6,763.5 890.3,762.3 896.9,762.6 C903.6,762.9 908.9,763.9 915.0,767.8 C921.1,771.8 928.4,779.4 933.5,786.3 C938.5,793.2 942.2,801.2 945.3,809.1 C948.5,817.0 951.3,826.2 952.5,833.8 C953.6,841.4 953.5,848.9 952.5,854.6 C951.4,860.4 949.4,864.4 946.3,868.4 C943.2,872.4 938.2,876.0 933.9,878.4 C929.7,880.7 922.9,881.9 920.7,882.6"/>
<path d="M859.9,774.9 C862.6,773.7 869.7,768.0 876.1,767.3 C882.5,766.7 894.6,770.3 898.4,770.9"/>
<path d="M859.0,778.7 C862.5,777.3 872.7,771.1 879.9,770.2 C887.0,769.3 894.9,770.6 901.7,773.5 C908.5,776.4 915.3,781.9 920.7,787.7 C926.0,793.6 930.6,801.4 933.9,808.6 C937.3,815.8 939.4,823.2 940.6,830.9 C941.7,838.6 941.7,848.2 940.8,854.6 C939.8,861.0 937.8,865.4 934.9,869.3 C932.0,873.3 925.4,876.9 923.5,878.4"/>
<path d="M854.2,788.2 C856.0,787.0 861.8,782.4 864.7,781.1 C867.5,779.8 866.7,779.4 871.3,780.1 C875.9,780.9 885.4,782.0 892.2,785.4 C899.0,788.8 906.6,794.5 912.1,800.5 C917.7,806.6 921.9,814.0 925.4,821.4 C928.9,828.9 931.6,838.3 933.0,845.1 C934.4,852.0 934.7,857.3 933.9,862.2 C933.2,867.1 932.0,871.6 928.3,874.6 C924.5,877.6 914.0,879.3 911.2,880.3"/>
<path d="M944.9,848.5 C944.6,851.1 944.9,859.6 943.4,864.1 C941.9,868.6 938.8,873.0 935.8,875.5 C932.8,878.0 927.1,878.7 925.4,879.3"/>
<path d="M857.1,815.7 C856.9,811.0 857.2,803.1 859.0,798.7 C860.7,794.2 864.0,791.2 867.5,789.2 C871.0,787.1 875.6,785.8 879.9,786.3 C884.1,786.8 888.4,788.4 893.1,792.0 C897.9,795.6 903.9,801.7 908.3,808.1 C912.8,814.6 917.2,824.0 919.7,830.9 C922.2,837.9 923.3,844.4 923.5,849.9 C923.7,855.4 922.6,860.6 920.7,864.1 C918.8,867.6 915.4,869.7 912.1,870.8 C908.8,871.8 905.5,872.0 900.7,870.3 C896.0,868.6 889.0,865.0 883.7,860.3 C878.3,855.7 872.4,847.8 868.5,842.3 C864.5,836.8 861.8,831.5 859.9,827.1 C858.0,822.7 857.2,820.5 857.1,815.7 Z"/>
<path d="M869.9,822.8 C869.3,820.1 866.0,812.0 866.1,806.2 C866.2,800.5 869.7,791.2 870.4,788.2"/>
<path d="M887.0,851.3 C888.6,852.8 892.0,858.0 896.9,860.3 C901.9,862.7 913.5,864.7 916.9,865.6"/>
<path d="M878.4,799.6 L884.1,803.9"/>
<path d="M874.6,812.9 L878.0,815.3"/>
<path d="M869.9,827.6 L890.8,804.3"/>
<path d="M877.0,839.0 L900.3,813.8"/>
<path d="M889.8,845.1 L906.4,827.1"/>
<path d="M892.7,833.3 L897.4,830.4"/>
<path d="M906.4,837.6 C907.2,837.8 910.0,839.3 911.2,839.0 C912.4,838.7 913.2,836.8 913.5,835.7 C913.9,834.6 913.1,832.9 913.1,832.3"/>
<path d="M1147.6,660.9 L1150.5,658.9 L1152.7,656.1 L1154.1,652.7 L1154.6,649.0 L1154.1,645.2 L1152.7,641.6 L1150.6,638.3 L1147.7,635.8 L1144.4,634.0 L1140.9,633.2 L1137.3,633.3 L1134.0,634.5 L1115.3,644.1 L1113.8,645.4 L1112.9,647.6 L1112.6,650.4 L1113.0,653.6 L1114.0,657.2 L1115.5,660.7 L1117.5,664.0 L1119.8,666.9 L1122.3,669.1 L1124.7,670.5 L1127.0,671.0 L1128.9,670.6 Z" fill="#fff"/>
<path d="M1128.9,670.6 L1131.8,668.5 L1134.0,665.7 L1135.4,662.3 L1135.9,658.6 L1135.4,654.8 L1134.1,651.2 L1131.9,648.0 L1129.0,645.4 L1125.7,643.6 L1122.2,642.8 L1118.6,642.9 L1115.3,644.1 L1112.5,646.1 L1110.3,648.9 L1108.9,652.3 L1108.4,656.0 L1108.9,659.8 L1110.2,663.4 L1112.4,666.7 L1115.2,669.2 L1118.5,671.0 L1122.1,671.8 L1125.6,671.7 Z"/>
<path d="M1128.6,666.2 L1129.7,665.2 L1130.4,663.7 L1130.6,661.6 L1130.4,659.2 L1129.6,656.6 L1128.5,654.1 L1127.1,651.6 L1125.4,649.6 L1123.6,647.9 L1121.8,646.9 L1120.2,646.5 L1118.7,646.9 L1110.9,650.9 L1109.9,651.8 L1109.2,653.4 L1109.0,655.4 L1109.2,657.8 L1109.9,660.4 L1111.0,663.0 L1112.5,665.4 L1114.2,667.5 L1116.0,669.1 L1117.7,670.1 L1119.4,670.5 L1120.8,670.2 Z" fill="#fff"/>
<path d="M1121.5,671.4 L1122.7,670.3 L1123.5,668.5 L1123.7,666.2 L1123.4,663.5 L1122.6,660.6 L1121.3,657.7 L1119.7,655.0 L1117.8,652.6 L1115.7,650.8 L1113.7,649.7 L1111.8,649.3 L1110.2,649.6 L1097.8,656.1 L1096.6,657.2 L1095.8,658.9 L1095.6,661.2 L1095.9,663.9 L1096.7,666.9 L1098.0,669.8 L1099.6,672.5 L1101.5,674.8 L1103.6,676.6 L1105.6,677.8 L1107.5,678.2 L1109.1,677.8 Z" fill="#fff"/>
<path d="M1109.1,677.8 L1110.3,676.7 L1111.0,675.0 L1111.3,672.7 L1111.0,670.0 L1110.2,667.1 L1108.9,664.1 L1107.2,661.4 L1105.3,659.1 L1103.3,657.3 L1101.3,656.1 L1099.4,655.7 L1097.8,656.1 L1096.6,657.2 L1095.8,658.9 L1095.6,661.2 L1095.9,663.9 L1096.7,666.9 L1098.0,669.8 L1099.6,672.5 L1101.5,674.8 L1103.6,676.6 L1105.6,677.8 L1107.5,678.2 Z"/>
<path d="M1108.6,673.2 L1109.4,672.4 L1109.9,671.3 L1110.0,669.8 L1109.8,668.1 L1109.3,666.2 L1108.5,664.3 L1107.5,662.6 L1106.2,661.1 L1104.9,659.9 L1103.6,659.2 L1102.4,658.9 L1101.4,659.1 L1085.8,667.2 L1084.1,668.3 L1082.8,669.9 L1081.9,671.8 L1081.6,673.8 L1081.7,675.8 L1082.4,677.8 L1083.6,679.5 L1085.2,680.8 L1087.0,681.7 L1089.0,682.0 L1091.1,681.9 L1093.0,681.2 Z" fill="#fff"/>
<!-- g10.txt -->
<path d="M1037.7,1049.4 C1042.4,1048.6 1055.9,1045.5 1066.1,1044.4 C1076.3,1043.3 1088.0,1043.2 1099.0,1042.8 C1109.9,1042.5 1121.9,1042.3 1131.8,1042.4 C1141.7,1042.5 1154.1,1043.1 1158.5,1043.3"/>
<path d="M1038.7,1053.8 C1043.3,1053.1 1056.1,1050.2 1066.1,1049.4 C1076.2,1048.6 1088.0,1048.9 1099.0,1049.0 C1109.9,1049.0 1121.6,1049.6 1131.8,1049.9 C1142.0,1050.1 1155.5,1050.4 1160.3,1050.5"/>
<path d="M1039.8,1057.7 C1044.2,1057.1 1056.3,1054.9 1066.1,1054.2 C1076.0,1053.6 1088.0,1053.7 1099.0,1053.8 C1109.9,1053.9 1121.4,1055.0 1131.8,1054.9 C1142.2,1054.8 1156.4,1053.6 1161.4,1053.4"/>
<path d="M1151.5,1035.2 C1153.0,1036.1 1158.2,1037.7 1160.3,1040.7 C1162.4,1043.6 1163.6,1050.7 1164.2,1052.7"/>
<path d="M1053.0,1064.7 C1057.0,1063.5 1067.6,1057.7 1077.1,1057.1 C1086.6,1056.4 1099.0,1058.1 1109.9,1060.8 C1120.9,1063.5 1131.6,1070.8 1142.8,1073.5 C1153.9,1076.2 1171.0,1076.2 1176.7,1076.8"/>
<path d="M1055.2,1068.7 C1059.5,1067.6 1072.3,1062.6 1081.4,1062.1 C1090.6,1061.7 1099.7,1063.4 1109.9,1066.1 C1120.1,1068.8 1131.6,1075.8 1142.8,1078.3 C1153.9,1080.8 1171.0,1080.7 1176.7,1081.2"/>
<path d="M1058.5,1078.3 C1063.4,1077.0 1077.6,1071.4 1088.0,1070.7 C1098.4,1069.9 1109.9,1072.3 1120.9,1073.9 C1131.8,1075.6 1144.2,1078.9 1153.7,1080.5 C1163.2,1082.1 1173.8,1083.2 1177.8,1083.8"/>
<path d="M1059.5,1082.7 C1064.3,1081.6 1077.8,1076.5 1088.0,1076.1 C1098.2,1075.8 1109.9,1079.0 1120.9,1080.5 C1131.8,1082.0 1144.2,1083.8 1153.7,1084.9 C1163.2,1086.0 1173.8,1086.7 1177.8,1087.1"/>
<path d="M1061.7,1095.8 C1066.1,1094.7 1078.2,1089.8 1088.0,1089.3 C1097.9,1088.7 1109.9,1092.2 1120.9,1092.5 C1131.8,1092.9 1144.2,1091.6 1153.7,1091.5 C1163.2,1091.3 1173.8,1091.5 1177.8,1091.5"/>
<path d="M1062.8,1100.2 C1067.0,1099.3 1078.3,1095.3 1088.0,1094.7 C1097.7,1094.2 1109.9,1096.9 1120.9,1096.9 C1131.8,1096.9 1144.2,1095.0 1153.7,1094.7 C1163.2,1094.5 1173.8,1095.3 1177.8,1095.4"/>
<path d="M1174.5,1067.4 C1175.3,1068.8 1178.9,1070.8 1179.5,1075.7 C1180.2,1080.5 1178.4,1093.0 1178.2,1096.5"/>
<path d="M943.5,1062.6 L1009.2,1025.3 L1024.5,1053.8 L1035.5,1069.1 L1044.2,1088.8 L1047.5,1110.7 L1044.2,1128.2 L1035.5,1139.2 L1000.4,1154.5 L945.7,1141.4 Z" fill="#fff" stroke="none"/>
<path d="M943.5,1062.6 L1009.2,1025.3"/>
<path d="M1024.5,1053.8 C1026.3,1056.3 1032.2,1063.3 1035.5,1069.1 C1038.7,1075.0 1042.2,1081.9 1044.2,1088.8 C1046.2,1095.8 1047.5,1104.2 1047.5,1110.7 C1047.5,1117.3 1046.2,1123.4 1044.2,1128.2 C1042.2,1133.1 1036.9,1137.7 1035.5,1139.6"/>
<path d="M1000.4,1154.5 L1035.5,1139.6"/>
<path d="M1055.2,1071.1 L1055.7,1070.6 L1056.1,1069.9 L1056.2,1068.9 L1056.1,1067.7 L1055.9,1066.5 L1055.4,1065.2 L1054.7,1064.0 L1054.0,1062.9 L1053.1,1062.1 L1052.3,1061.6 L1051.5,1061.4 L1050.8,1061.5 L1038.8,1067.0 L1038.2,1067.4 L1037.9,1068.1 L1037.7,1069.1 L1037.8,1070.3 L1038.1,1071.6 L1038.5,1072.8 L1039.2,1074.0 L1040.0,1075.1 L1040.8,1075.9 L1041.6,1076.4 L1042.4,1076.6 L1043.1,1076.5 Z" fill="#fff"/>
<path d="M1059.1,1083.3 L1059.6,1082.9 L1060.0,1082.2 L1060.1,1081.2 L1060.1,1080.0 L1059.8,1078.7 L1059.3,1077.5 L1058.7,1076.3 L1057.9,1075.2 L1057.1,1074.4 L1056.3,1073.8 L1055.5,1073.6 L1054.8,1073.7 L1042.5,1079.2 L1042.0,1079.7 L1041.6,1080.4 L1041.4,1081.4 L1041.5,1082.5 L1041.8,1083.8 L1042.3,1085.1 L1042.9,1086.3 L1043.7,1087.3 L1044.5,1088.2 L1045.3,1088.7 L1046.1,1088.9 L1046.8,1088.8 Z" fill="#fff"/>
<path d="M1063.4,1100.9 L1064.0,1100.4 L1064.4,1099.7 L1064.5,1098.7 L1064.4,1097.5 L1064.2,1096.3 L1063.7,1095.0 L1063.1,1093.8 L1062.3,1092.7 L1061.5,1091.9 L1060.6,1091.4 L1059.9,1091.1 L1059.2,1091.3 L1046.9,1096.7 L1046.3,1097.2 L1046.0,1097.9 L1045.8,1098.9 L1045.9,1100.1 L1046.2,1101.3 L1046.6,1102.6 L1047.3,1103.8 L1048.0,1104.9 L1048.9,1105.7 L1049.7,1106.2 L1050.5,1106.4 L1051.2,1106.3 Z" fill="#fff"/>
<path d="M1008.9,1024.5 C1009.6,1024.6 1010.8,1024.0 1012.9,1024.9 C1015.0,1025.7 1019.8,1028.4 1021.4,1029.5 C1023.1,1030.5 1022.5,1031.1 1022.7,1031.4"/>
<path d="M1018.1,1032.4 C1018.9,1032.9 1021.6,1035.2 1022.7,1035.4 C1023.8,1035.6 1024.4,1033.8 1024.7,1033.5"/>
<path d="M1034.6,1041.3 L1034.9,1067.6"/>
<path d="M1005.0,1057.0 L1033.3,1040.3"/>
<path d="M1005.0,1061.3 L1020.8,1052.8"/>
<path d="M1020.1,1053.4 L1031.3,1047.2 L1031.3,1057.7"/>
<path d="M1026.0,1032.1 C1026.5,1031.2 1029.7,1030.4 1031.3,1030.4 C1032.8,1030.4 1034.2,1031.3 1035.2,1032.1 C1036.2,1032.9 1037.0,1034.2 1037.2,1035.4 C1037.4,1036.6 1037.3,1038.4 1036.5,1039.3 C1035.8,1040.2 1033.9,1041.2 1032.6,1040.6 C1031.3,1040.1 1029.7,1037.4 1028.7,1036.0 C1027.6,1034.6 1025.6,1033.0 1026.0,1032.1 Z" fill="#fff"/>
<path d="M1031.3,1035.4 C1031.2,1033.7 1033.3,1033.9 1034.6,1034.4 C1035.9,1034.8 1037.7,1036.3 1039.2,1038.0 C1040.6,1039.7 1042.6,1042.6 1043.1,1044.6 C1043.7,1046.5 1043.7,1048.3 1042.5,1049.8 C1041.2,1051.4 1037.1,1054.6 1035.9,1053.8 C1034.7,1052.9 1036.0,1047.6 1035.2,1044.6 C1034.5,1041.5 1031.4,1037.1 1031.3,1035.4 Z" fill="#fff"/>
<path d="M1035.9,1049.2 C1036.4,1049.0 1038.2,1048.5 1039.2,1048.2 C1040.2,1047.9 1041.4,1047.4 1041.8,1047.2"/>
<path d="M1068.8,1028.8 L1069.3,1028.3 L1069.6,1027.5 L1069.7,1026.4 L1069.5,1025.1 L1069.0,1023.8 L1068.4,1022.4 L1067.6,1021.2 L1066.7,1020.1 L1065.8,1019.2 L1064.9,1018.6 L1064.0,1018.4 L1063.4,1018.6 L1037.4,1032.6 L1036.9,1033.1 L1036.6,1033.9 L1036.6,1034.9 L1036.8,1036.2 L1037.2,1037.5 L1037.9,1038.9 L1038.6,1040.2 L1039.5,1041.3 L1040.5,1042.1 L1041.4,1042.7 L1042.2,1042.9 L1042.9,1042.8 Z" fill="#fff"/>
<path d="M1039.08,1031.71 L1039.20,1031.65 L1039.33,1031.61 L1039.47,1031.58 L1039.62,1031.57 L1039.77,1031.57 L1039.92,1031.58 L1040.08,1031.61 L1040.25,1031.65 L1040.42,1031.71 L1040.59,1031.78 L1040.77,1031.87 L1040.95,1031.97 L1041.13,1032.08 L1041.31,1032.20 L1041.50,1032.34 L1041.68,1032.49 L1041.87,1032.65 L1042.06,1032.82 L1042.24,1033.01 L1042.43,1033.20 L1042.61,1033.41 L1042.79,1033.62 L1042.97,1033.84 L1043.14,1034.07 L1043.31,1034.31 L1043.48,1034.56 L1043.64,1034.81 L1043.79,1035.06 L1043.95,1035.33 L1044.09,1035.59 L1044.23,1035.86 L1044.36,1036.13 L1044.49,1036.41 L1044.61,1036.68 L1044.72,1036.95 L1044.82,1037.23 L1044.91,1037.50 L1045.00,1037.77 L1045.07,1038.04 L1045.14,1038.31 L1045.20,1038.57 L1045.25,1038.83 L1045.29,1039.08 L1045.32,1039.32 L1045.34,1039.56 L1045.35,1039.79 L1045.35,1040.01 L1045.34,1040.23 L1045.32,1040.43 L1045.29,1040.62 L1045.26,1040.81 L1045.21,1040.98 L1045.15,1041.14 L1045.09,1041.29 L1045.01,1041.43 L1044.93,1041.55 L1044.83,1041.66 L1044.73,1041.76 L1044.62,1041.85 L1044.51,1041.92"/>
<path d="M1042.43,1029.93 L1042.55,1029.88 L1042.69,1029.83 L1042.82,1029.81 L1042.97,1029.79 L1043.12,1029.79 L1043.27,1029.81 L1043.43,1029.84 L1043.60,1029.88 L1043.77,1029.94 L1043.94,1030.01 L1044.12,1030.09 L1044.30,1030.19 L1044.48,1030.30 L1044.66,1030.43 L1044.85,1030.57 L1045.04,1030.72 L1045.22,1030.88 L1045.41,1031.05 L1045.59,1031.23 L1045.78,1031.43 L1045.96,1031.63 L1046.14,1031.85 L1046.32,1032.07 L1046.49,1032.30 L1046.66,1032.54 L1046.83,1032.78 L1046.99,1033.03 L1047.15,1033.29 L1047.30,1033.55 L1047.44,1033.82 L1047.58,1034.09 L1047.71,1034.36 L1047.84,1034.63 L1047.96,1034.91 L1048.07,1035.18 L1048.17,1035.46 L1048.26,1035.73 L1048.35,1036.00 L1048.42,1036.27 L1048.49,1036.53 L1048.55,1036.80 L1048.60,1037.05 L1048.64,1037.30 L1048.67,1037.55 L1048.69,1037.79 L1048.70,1038.02 L1048.70,1038.24 L1048.69,1038.45 L1048.67,1038.66 L1048.64,1038.85 L1048.61,1039.03 L1048.56,1039.21 L1048.50,1039.37 L1048.44,1039.52 L1048.36,1039.65 L1048.28,1039.78 L1048.18,1039.89 L1048.08,1039.99 L1047.98,1040.07 L1047.86,1040.14"/>
<path d="M1045.72,1028.09 L1045.84,1028.04 L1045.97,1027.99 L1046.11,1027.97 L1046.25,1027.95 L1046.40,1027.95 L1046.56,1027.97 L1046.72,1028.00 L1046.88,1028.04 L1047.05,1028.10 L1047.23,1028.17 L1047.40,1028.25 L1047.58,1028.35 L1047.77,1028.46 L1047.95,1028.59 L1048.13,1028.73 L1048.32,1028.88 L1048.51,1029.04 L1048.69,1029.21 L1048.88,1029.39 L1049.06,1029.59 L1049.24,1029.79 L1049.42,1030.01 L1049.60,1030.23 L1049.78,1030.46 L1049.95,1030.70 L1050.11,1030.94 L1050.27,1031.19 L1050.43,1031.45 L1050.58,1031.71 L1050.73,1031.98 L1050.87,1032.25 L1051.00,1032.52 L1051.12,1032.79 L1051.24,1033.07 L1051.35,1033.34 L1051.45,1033.62 L1051.55,1033.89 L1051.63,1034.16 L1051.71,1034.43 L1051.78,1034.69 L1051.83,1034.96 L1051.88,1035.21 L1051.92,1035.46 L1051.95,1035.71 L1051.97,1035.95 L1051.98,1036.18 L1051.98,1036.40 L1051.98,1036.61 L1051.96,1036.82 L1051.93,1037.01 L1051.89,1037.19 L1051.84,1037.37 L1051.79,1037.53 L1051.72,1037.68 L1051.65,1037.81 L1051.56,1037.94 L1051.47,1038.05 L1051.37,1038.15 L1051.26,1038.23 L1051.14,1038.30"/>
<path d="M1049.07,1026.32 L1049.19,1026.26 L1049.32,1026.22 L1049.46,1026.19 L1049.60,1026.18 L1049.75,1026.18 L1049.91,1026.19 L1050.07,1026.22 L1050.24,1026.27 L1050.40,1026.32 L1050.58,1026.39 L1050.76,1026.48 L1050.93,1026.58 L1051.12,1026.69 L1051.30,1026.81 L1051.49,1026.95 L1051.67,1027.10 L1051.86,1027.26 L1052.04,1027.44 L1052.23,1027.62 L1052.41,1027.82 L1052.60,1028.02 L1052.78,1028.23 L1052.95,1028.46 L1053.13,1028.69 L1053.30,1028.92 L1053.46,1029.17 L1053.62,1029.42 L1053.78,1029.68 L1053.93,1029.94 L1054.08,1030.20 L1054.22,1030.47 L1054.35,1030.74 L1054.47,1031.02 L1054.59,1031.29 L1054.70,1031.57 L1054.80,1031.84 L1054.90,1032.11 L1054.98,1032.39 L1055.06,1032.66 L1055.13,1032.92 L1055.19,1033.18 L1055.23,1033.44 L1055.27,1033.69 L1055.30,1033.93 L1055.32,1034.17 L1055.33,1034.40 L1055.34,1034.62 L1055.33,1034.84 L1055.31,1035.04 L1055.28,1035.24 L1055.24,1035.42 L1055.19,1035.59 L1055.14,1035.75 L1055.07,1035.90 L1055.00,1036.04 L1054.91,1036.17 L1054.82,1036.28 L1054.72,1036.38 L1054.61,1036.46 L1054.49,1036.53"/>
<path d="M1052.42,1024.48 L1052.54,1024.42 L1052.67,1024.38 L1052.81,1024.35 L1052.95,1024.34 L1053.10,1024.34 L1053.26,1024.35 L1053.42,1024.38 L1053.59,1024.43 L1053.76,1024.48 L1053.93,1024.55 L1054.11,1024.64 L1054.29,1024.74 L1054.47,1024.85 L1054.65,1024.97 L1054.84,1025.11 L1055.02,1025.26 L1055.21,1025.42 L1055.39,1025.60 L1055.58,1025.78 L1055.76,1025.98 L1055.95,1026.18 L1056.13,1026.39 L1056.30,1026.62 L1056.48,1026.85 L1056.65,1027.08 L1056.81,1027.33 L1056.98,1027.58 L1057.13,1027.84 L1057.28,1028.10 L1057.43,1028.36 L1057.57,1028.63 L1057.70,1028.90 L1057.83,1029.18 L1057.94,1029.45 L1058.05,1029.73 L1058.16,1030.00 L1058.25,1030.28 L1058.33,1030.55 L1058.41,1030.82 L1058.48,1031.08 L1058.54,1031.34 L1058.59,1031.60 L1058.62,1031.85 L1058.65,1032.09 L1058.68,1032.33 L1058.69,1032.56 L1058.69,1032.78 L1058.68,1033.00 L1058.66,1033.20 L1058.63,1033.40 L1058.59,1033.58 L1058.55,1033.75 L1058.49,1033.91 L1058.42,1034.06 L1058.35,1034.20 L1058.26,1034.33 L1058.17,1034.44 L1058.07,1034.54 L1057.96,1034.62 L1057.85,1034.69"/>
<path d="M1055.77,1022.71 L1055.89,1022.65 L1056.02,1022.61 L1056.16,1022.58 L1056.30,1022.56 L1056.45,1022.56 L1056.61,1022.58 L1056.77,1022.61 L1056.94,1022.65 L1057.11,1022.71 L1057.28,1022.78 L1057.46,1022.87 L1057.64,1022.96 L1057.82,1023.08 L1058.00,1023.20 L1058.19,1023.34 L1058.37,1023.49 L1058.56,1023.65 L1058.75,1023.82 L1058.93,1024.01 L1059.11,1024.20 L1059.30,1024.41 L1059.48,1024.62 L1059.65,1024.84 L1059.83,1025.07 L1060.00,1025.31 L1060.16,1025.56 L1060.33,1025.81 L1060.48,1026.06 L1060.63,1026.33 L1060.78,1026.59 L1060.92,1026.86 L1061.05,1027.13 L1061.18,1027.40 L1061.29,1027.68 L1061.40,1027.95 L1061.51,1028.23 L1061.60,1028.50 L1061.68,1028.77 L1061.76,1029.04 L1061.83,1029.31 L1061.89,1029.57 L1061.94,1029.82 L1061.98,1030.08 L1062.01,1030.32 L1062.03,1030.56 L1062.04,1030.79 L1062.04,1031.01 L1062.03,1031.22 L1062.01,1031.43 L1061.98,1031.62 L1061.94,1031.81 L1061.90,1031.98 L1061.84,1032.14 L1061.77,1032.29 L1061.70,1032.43 L1061.61,1032.55 L1061.52,1032.66 L1061.42,1032.76 L1061.31,1032.85 L1061.20,1032.92"/>
<path d="M1059.05,1020.87 L1059.18,1020.81 L1059.31,1020.77 L1059.45,1020.74 L1059.59,1020.72 L1059.74,1020.73 L1059.90,1020.74 L1060.06,1020.77 L1060.22,1020.81 L1060.39,1020.87 L1060.57,1020.94 L1060.74,1021.03 L1060.92,1021.12 L1061.10,1021.24 L1061.29,1021.36 L1061.47,1021.50 L1061.66,1021.65 L1061.84,1021.81 L1062.03,1021.98 L1062.22,1022.17 L1062.40,1022.36 L1062.58,1022.57 L1062.76,1022.78 L1062.94,1023.00 L1063.11,1023.23 L1063.28,1023.47 L1063.45,1023.72 L1063.61,1023.97 L1063.77,1024.22 L1063.92,1024.49 L1064.06,1024.75 L1064.20,1025.02 L1064.34,1025.29 L1064.46,1025.56 L1064.58,1025.84 L1064.69,1026.11 L1064.79,1026.39 L1064.88,1026.66 L1064.97,1026.93 L1065.05,1027.20 L1065.11,1027.47 L1065.17,1027.73 L1065.22,1027.98 L1065.26,1028.24 L1065.29,1028.48 L1065.31,1028.72 L1065.32,1028.95 L1065.32,1029.17 L1065.31,1029.38 L1065.30,1029.59 L1065.27,1029.78 L1065.23,1029.97 L1065.18,1030.14 L1065.12,1030.30 L1065.06,1030.45 L1064.98,1030.59 L1064.90,1030.71 L1064.81,1030.82 L1064.71,1030.92 L1064.60,1031.01 L1064.48,1031.08"/>
<path d="M888.8,1111.9 C888.3,1105.5 889.7,1099.9 891.6,1094.9 C893.5,1089.8 896.5,1085.5 900.2,1081.6 C903.8,1077.6 908.9,1074.0 913.5,1071.1 C918.1,1068.3 923.0,1065.9 927.7,1064.5 C932.4,1063.1 936.7,1062.1 941.9,1062.6 C947.2,1063.1 953.5,1064.5 959.0,1067.3 C964.6,1070.2 970.4,1074.8 975.1,1079.7 C979.9,1084.6 983.8,1090.1 987.5,1096.8 C991.1,1103.4 994.8,1112.3 997.0,1119.5 C999.2,1126.8 1000.3,1134.1 1000.8,1140.4 C1001.2,1146.7 1001.1,1152.3 999.8,1157.5 C998.6,1162.7 996.5,1167.6 993.2,1171.7 C989.9,1175.8 985.3,1179.6 979.9,1182.2 C974.5,1184.7 966.9,1186.4 960.9,1186.9 C954.9,1187.4 949.8,1187.1 943.8,1185.0 C937.8,1182.9 931.0,1179.5 924.9,1174.6 C918.7,1169.7 911.9,1162.4 906.8,1155.6 C901.8,1148.8 897.5,1141.0 894.5,1133.8 C891.5,1126.5 889.3,1118.4 888.8,1111.9 Z" fill="#fff"/>
<path d="M901.1,1079.7 C903.7,1077.9 909.8,1071.8 916.3,1069.2 C922.8,1066.7 933.2,1064.5 940.0,1064.5 C946.8,1064.5 951.7,1066.1 957.1,1069.2 C962.5,1072.4 967.9,1077.9 972.3,1083.5 C976.7,1089.0 980.6,1095.8 983.7,1102.4 C986.8,1109.1 988.9,1116.2 990.8,1123.3 C992.7,1130.4 994.7,1138.8 995.1,1145.1 C995.5,1151.5 994.8,1156.3 993.2,1161.3 C991.6,1166.3 989.4,1171.2 985.6,1175.0 C981.8,1178.8 972.9,1182.6 970.4,1184.1"/>
<path d="M902.1,1077.3 C904.5,1076.1 910.9,1071.3 916.3,1070.2 C921.7,1069.1 929.4,1069.5 934.3,1070.7 C939.2,1071.8 943.8,1076.2 945.7,1077.3"/>
<path d="M897.3,1092.0 C899.2,1090.7 904.1,1085.2 908.7,1083.9 C913.3,1082.7 918.7,1082.6 924.9,1084.4 C931.0,1086.2 939.1,1089.8 945.7,1094.9 C952.4,1099.9 959.7,1107.5 964.7,1114.8 C969.8,1122.1 973.4,1131.1 976.1,1138.5 C978.8,1145.9 980.4,1153.5 980.8,1159.4 C981.3,1165.2 980.7,1169.8 978.9,1173.6 C977.2,1177.4 974.5,1180.4 970.4,1182.2 C966.3,1183.9 957.0,1183.7 954.3,1184.1"/>
<path d="M987.5,1148.9 C987.3,1151.6 988.0,1160.3 986.5,1165.1 C985.1,1169.8 982.0,1174.4 978.9,1177.4 C975.9,1180.4 970.2,1182.2 968.5,1183.1"/>
<path d="M899.7,1113.8 C900.0,1109.1 901.1,1102.4 903.0,1098.7 C905.0,1094.9 908.2,1092.5 911.6,1091.1 C914.9,1089.6 918.5,1089.2 923.0,1090.1 C927.4,1091.1 933.1,1092.8 938.1,1096.8 C943.2,1100.7 949.1,1107.4 953.3,1113.8 C957.6,1120.3 961.4,1128.9 963.8,1135.7 C966.1,1142.5 967.4,1149.1 967.6,1154.6 C967.7,1160.2 966.8,1165.6 964.7,1168.9 C962.7,1172.2 959.0,1173.9 955.2,1174.6 C951.4,1175.2 947.0,1174.9 941.9,1172.7 C936.9,1170.5 930.2,1166.3 924.9,1161.3 C919.5,1156.2 913.6,1148.0 909.7,1142.3 C905.7,1136.6 902.8,1131.9 901.1,1127.1 C899.5,1122.4 899.4,1118.6 899.7,1113.8 Z"/>
<path d="M912.5,1126.2 C912.0,1123.5 909.0,1115.7 909.2,1110.0 C909.4,1104.3 912.8,1095.0 913.5,1092.0"/>
<path d="M929.6,1155.1 C931.7,1156.8 936.9,1162.5 941.9,1165.1 C947.0,1167.6 957.0,1169.4 960.0,1170.3"/>
<path d="M916.3,1102.9 L926.3,1106.2"/>
<path d="M915.8,1118.6 L919.2,1120.5"/>
<path d="M912.5,1130.9 L933.4,1108.6"/>
<path d="M919.6,1141.8 L942.4,1117.6"/>
<path d="M932.4,1148.5 L949.5,1130.9"/>
<path d="M923.4,1148.9 L941.9,1138.5"/>
<path d="M927.7,1142.8 L937.7,1137.6"/>
<path d="M946.7,1142.3 C947.5,1142.7 949.6,1144.8 951.4,1144.7 C953.2,1144.6 957.0,1142.6 957.6,1141.8 C958.2,1141.0 955.6,1140.2 955.2,1139.9"/>
<path d="M938.1,1138.5 C938.6,1137.7 940.1,1135.3 941.0,1133.8 C941.9,1132.2 942.6,1130.0 943.4,1129.0 C944.2,1128.1 945.3,1128.2 945.7,1128.1"/>
<path d="M1145.1,983.4 L1147.3,981.6 L1149.0,979.3 L1150.0,976.5 L1150.2,973.5 L1149.7,970.5 L1148.4,967.6 L1146.6,965.1 L1144.2,963.1 L1141.5,961.9 L1138.6,961.3 L1135.7,961.6 L1133.1,962.6 L1112.7,974.5 L1111.6,975.6 L1110.9,977.3 L1110.8,979.6 L1111.2,982.2 L1112.1,985.0 L1113.5,987.8 L1115.2,990.4 L1117.2,992.6 L1119.3,994.3 L1121.3,995.3 L1123.1,995.6 L1124.7,995.2 Z" fill="#fff"/>
<path d="M1124.7,995.2 L1126.9,993.4 L1128.5,991.1 L1129.5,988.3 L1129.8,985.3 L1129.2,982.3 L1128.0,979.4 L1126.1,976.9 L1123.8,975.0 L1121.0,973.7 L1118.2,973.1 L1115.3,973.4 L1112.7,974.5 L1110.5,976.2 L1108.8,978.5 L1107.9,981.3 L1107.6,984.3 L1108.1,987.3 L1109.4,990.2 L1111.2,992.7 L1113.6,994.7 L1116.3,996.0 L1119.2,996.5 L1122.1,996.2 Z"/>
<path d="M1124.5,991.5 L1125.4,990.7 L1125.8,989.4 L1125.9,987.8 L1125.6,985.8 L1124.9,983.8 L1123.9,981.8 L1122.7,979.9 L1121.2,978.3 L1119.7,977.0 L1118.2,976.3 L1116.9,976.0 L1115.8,976.4 L1109.2,980.2 L1108.4,981.0 L1107.9,982.3 L1107.8,983.9 L1108.1,985.8 L1108.8,987.9 L1109.8,989.9 L1111.0,991.8 L1112.5,993.4 L1114.0,994.6 L1115.5,995.4 L1116.8,995.6 L1118.0,995.3 Z" fill="#fff"/>
<path d="M1118.5,996.3 L1119.5,995.4 L1120.0,994.0 L1120.1,992.1 L1119.8,989.9 L1119.0,987.6 L1117.9,985.3 L1116.5,983.1 L1114.8,981.3 L1113.1,979.9 L1111.5,979.0 L1109.9,978.8 L1108.6,979.1 L1097.7,985.4 L1096.7,986.3 L1096.2,987.8 L1096.1,989.7 L1096.4,991.8 L1097.2,994.2 L1098.3,996.5 L1099.7,998.6 L1101.4,1000.5 L1103.1,1001.8 L1104.8,1002.7 L1106.3,1003.0 L1107.6,1002.6 Z" fill="#fff"/>
<path d="M1107.6,1002.6 L1108.5,1001.7 L1109.1,1000.2 L1109.2,998.4 L1108.8,996.2 L1108.1,993.9 L1106.9,991.5 L1105.5,989.4 L1103.9,987.6 L1102.2,986.2 L1100.5,985.3 L1099.0,985.1 L1097.7,985.4 L1096.7,986.3 L1096.2,987.8 L1096.1,989.7 L1096.4,991.8 L1097.2,994.2 L1098.3,996.5 L1099.7,998.6 L1101.4,1000.5 L1103.1,1001.8 L1104.8,1002.7 L1106.3,1003.0 Z"/>
<path d="M1107.1,998.5 L1107.7,998.0 L1108.1,997.1 L1108.1,995.9 L1107.9,994.6 L1107.4,993.1 L1106.7,991.7 L1105.9,990.4 L1104.9,989.2 L1103.8,988.4 L1102.8,987.9 L1101.8,987.7 L1101.0,987.9 L1085.7,996.7 L1084.4,997.7 L1083.5,999.0 L1082.8,1000.4 L1082.6,1002.0 L1082.8,1003.6 L1083.4,1005.1 L1084.4,1006.4 L1085.7,1007.3 L1087.2,1008.0 L1088.7,1008.2 L1090.3,1008.0 L1091.8,1007.4 Z" fill="#fff"/>
<!-- g14.txt -->
<path d="M1069.0,1570.8 C1073.5,1570.1 1084.8,1566.5 1096.0,1566.8 C1107.3,1567.0 1123.9,1570.0 1136.5,1572.2 C1149.2,1574.3 1161.5,1579.2 1171.7,1579.4 C1181.8,1579.7 1193.0,1574.5 1197.3,1573.5"/>
<path d="M1070.4,1574.9 C1075.1,1574.2 1087.7,1570.5 1098.7,1570.8 C1109.8,1571.1 1124.4,1574.9 1136.5,1576.7 C1148.7,1578.5 1161.3,1581.5 1171.7,1581.6 C1182.0,1581.7 1194.2,1578.2 1198.7,1577.6"/>
<path d="M1071.7,1580.3 C1076.7,1579.6 1090.2,1576.0 1101.4,1576.2 C1112.7,1576.4 1127.1,1580.3 1139.2,1581.6 C1151.4,1582.9 1164.4,1583.8 1174.4,1583.8 C1184.3,1583.8 1195.1,1582.0 1199.2,1581.6"/>
<path d="M1072.3,1584.8 C1077.1,1584.3 1090.3,1581.5 1101.4,1581.6 C1112.6,1581.7 1127.1,1585.0 1139.2,1585.7 C1151.4,1586.3 1164.3,1585.9 1174.4,1585.7 C1184.4,1585.4 1195.5,1584.5 1199.7,1584.3"/>
<path d="M1186.5,1564.1 C1187.9,1565.2 1192.8,1568.1 1194.6,1570.8 C1196.4,1573.5 1196.2,1577.6 1197.3,1580.3 C1198.4,1583.0 1200.7,1585.9 1201.4,1587.0"/>
<path d="M1108.2,1638.3 C1112.9,1638.5 1125.1,1638.1 1136.5,1639.7 C1148.0,1641.2 1163.6,1646.2 1177.1,1647.8 C1190.6,1649.3 1207.2,1649.8 1217.6,1649.1 C1227.9,1648.4 1235.6,1644.6 1239.2,1643.7"/>
<path d="M1109.5,1643.7 C1114.5,1643.9 1128.0,1643.5 1139.2,1645.1 C1150.5,1646.6 1164.0,1651.6 1177.1,1653.2 C1190.1,1654.7 1207.0,1655.2 1217.6,1654.5 C1228.1,1653.8 1236.7,1650.0 1240.5,1649.1"/>
<path d="M1236.5,1635.6 C1237.4,1637.0 1240.3,1640.6 1241.9,1643.7 C1243.4,1646.9 1245.2,1652.7 1245.9,1654.5"/>
<path d="M1047.4,1574.9 C1047.9,1571.9 1055.1,1569.9 1058.2,1569.5 C1061.4,1569.0 1063.9,1570.1 1066.3,1572.2 C1068.8,1574.2 1071.8,1578.6 1073.1,1581.6 C1074.3,1584.6 1074.6,1587.9 1073.9,1590.2 C1073.2,1592.6 1072.1,1596.2 1069.0,1595.6 C1066.0,1595.1 1059.1,1590.5 1055.5,1587.0 C1051.9,1583.5 1047.0,1577.8 1047.4,1574.9 Z" fill="#fff"/>
<path d="M1060.4,1570.3 C1061.8,1571.3 1067.1,1573.4 1069.0,1576.2 C1071.0,1579.0 1072.3,1583.9 1072.3,1587.0 C1072.3,1590.2 1069.6,1593.8 1069.0,1595.1"/>
<path d="M1069.0,1595.1 C1070.8,1596.9 1075.3,1603.1 1079.8,1605.9 C1084.3,1608.7 1093.3,1610.9 1096.0,1611.8"/>
<path d="M1087.9,1610.0 L1105.5,1618.1"/>
<path d="M942.1,1614.0 L1020.4,1572.2 L1047.4,1574.9 L1063.6,1589.7 L1074.4,1611.3 L1081.2,1632.9 L997.5,1678.8 L961.0,1681.5 Z" fill="#fff" stroke="none"/>
<path d="M942.1,1614.0 L1020.4,1572.2"/>
<path d="M1020.4,1572.2 C1022.2,1571.8 1026.6,1569.8 1031.2,1570.3 C1035.8,1570.8 1045.2,1574.3 1048.0,1575.1"/>
<path d="M1047.4,1574.9 C1050.1,1577.3 1059.1,1583.6 1063.6,1589.7 C1068.1,1595.8 1071.7,1605.0 1074.4,1611.3 C1077.1,1617.6 1078.7,1623.8 1079.8,1627.5 C1081.0,1631.2 1081.2,1632.5 1081.5,1633.5"/>
<path d="M1075.8,1617.3 C1077.4,1616.5 1082.3,1613.2 1085.2,1612.7 C1088.2,1612.1 1091.1,1612.8 1093.3,1614.0 C1095.6,1615.2 1097.8,1619.0 1098.7,1620.0"/>
<path d="M997.5,1678.8 L1105.5,1618.1 L1109.5,1638.3 L1108.2,1643.7 L996.1,1709.9 L988.0,1700.4 Z" fill="#fff"/>
<path d="M1017.7,1670.7 L1101.4,1623.5"/>
<path d="M1131.8,1607.0 L1132.2,1606.7 L1132.5,1606.0 L1132.6,1605.2 L1132.5,1604.3 L1132.2,1603.2 L1131.7,1602.2 L1131.1,1601.3 L1130.5,1600.4 L1129.7,1599.8 L1129.0,1599.4 L1128.4,1599.2 L1127.8,1599.4 L1108.1,1609.6 L1107.7,1610.0 L1107.4,1610.6 L1107.3,1611.5 L1107.4,1612.4 L1107.7,1613.4 L1108.2,1614.5 L1108.7,1615.4 L1109.4,1616.3 L1110.1,1616.9 L1110.9,1617.3 L1111.5,1617.4 L1112.1,1617.3 Z" fill="#fff"/>
<path d="M1096.0,1609.1 C1096.7,1606.9 1101.5,1606.4 1104.1,1607.3 C1106.8,1608.1 1110.3,1611.3 1111.7,1614.0 C1113.1,1616.7 1113.6,1621.4 1112.8,1623.5 C1112.0,1625.5 1109.0,1626.6 1106.8,1626.2 C1104.7,1625.7 1101.9,1623.6 1100.1,1620.8 C1098.3,1617.9 1095.4,1611.4 1096.0,1609.1 Z" fill="#fff"/>
<path d="M1111.57,1608.03 L1111.67,1607.99 L1111.78,1607.95 L1111.89,1607.92 L1112.01,1607.91 L1112.13,1607.90 L1112.25,1607.91 L1112.38,1607.92 L1112.52,1607.95 L1112.65,1607.99 L1112.79,1608.04 L1112.93,1608.10 L1113.07,1608.17 L1113.22,1608.25 L1113.36,1608.34 L1113.51,1608.44 L1113.65,1608.54 L1113.80,1608.66 L1113.95,1608.79 L1114.09,1608.92 L1114.23,1609.06 L1114.37,1609.21 L1114.51,1609.37 L1114.65,1609.54 L1114.78,1609.71 L1114.91,1609.88 L1115.04,1610.06 L1115.16,1610.25 L1115.28,1610.44 L1115.39,1610.64 L1115.50,1610.84 L1115.61,1611.04 L1115.70,1611.24 L1115.80,1611.44 L1115.88,1611.65 L1115.96,1611.86 L1116.04,1612.06 L1116.10,1612.27 L1116.16,1612.48 L1116.21,1612.68 L1116.26,1612.88 L1116.30,1613.08 L1116.33,1613.27 L1116.35,1613.46 L1116.37,1613.65 L1116.38,1613.83 L1116.38,1614.01 L1116.37,1614.18 L1116.36,1614.34 L1116.33,1614.50 L1116.30,1614.65 L1116.27,1614.79 L1116.22,1614.92 L1116.17,1615.05 L1116.11,1615.16 L1116.05,1615.27 L1115.98,1615.37 L1115.90,1615.46 L1115.81,1615.54 L1115.72,1615.61 L1115.62,1615.66"/>
<path d="M1115.62,1605.87 L1115.72,1605.83 L1115.83,1605.79 L1115.94,1605.76 L1116.06,1605.75 L1116.18,1605.74 L1116.31,1605.75 L1116.43,1605.76 L1116.57,1605.79 L1116.70,1605.83 L1116.84,1605.88 L1116.98,1605.94 L1117.13,1606.01 L1117.27,1606.09 L1117.41,1606.18 L1117.56,1606.27 L1117.71,1606.38 L1117.85,1606.50 L1118.00,1606.63 L1118.14,1606.76 L1118.28,1606.90 L1118.42,1607.05 L1118.56,1607.21 L1118.70,1607.38 L1118.83,1607.55 L1118.96,1607.72 L1119.09,1607.90 L1119.21,1608.09 L1119.33,1608.28 L1119.44,1608.48 L1119.55,1608.68 L1119.66,1608.88 L1119.75,1609.08 L1119.85,1609.28 L1119.93,1609.49 L1120.01,1609.70 L1120.09,1609.90 L1120.15,1610.11 L1120.21,1610.31 L1120.27,1610.52 L1120.31,1610.72 L1120.35,1610.92 L1120.38,1611.11 L1120.40,1611.30 L1120.42,1611.49 L1120.43,1611.67 L1120.43,1611.85 L1120.42,1612.02 L1120.41,1612.18 L1120.39,1612.34 L1120.36,1612.49 L1120.32,1612.63 L1120.27,1612.76 L1120.22,1612.89 L1120.16,1613.00 L1120.10,1613.11 L1120.03,1613.21 L1119.95,1613.30 L1119.86,1613.38 L1119.77,1613.45 L1119.67,1613.50"/>
<path d="M1119.67,1603.71 L1119.77,1603.67 L1119.88,1603.63 L1119.99,1603.60 L1120.11,1603.59 L1120.23,1603.58 L1120.36,1603.59 L1120.49,1603.60 L1120.62,1603.63 L1120.75,1603.67 L1120.89,1603.72 L1121.03,1603.78 L1121.18,1603.85 L1121.32,1603.93 L1121.46,1604.02 L1121.61,1604.11 L1121.76,1604.22 L1121.90,1604.34 L1122.05,1604.47 L1122.19,1604.60 L1122.33,1604.74 L1122.47,1604.89 L1122.61,1605.05 L1122.75,1605.21 L1122.88,1605.39 L1123.01,1605.56 L1123.14,1605.74 L1123.26,1605.93 L1123.38,1606.12 L1123.49,1606.32 L1123.60,1606.51 L1123.71,1606.72 L1123.81,1606.92 L1123.90,1607.12 L1123.98,1607.33 L1124.06,1607.54 L1124.14,1607.74 L1124.20,1607.95 L1124.26,1608.15 L1124.32,1608.36 L1124.36,1608.56 L1124.40,1608.76 L1124.43,1608.95 L1124.45,1609.14 L1124.47,1609.33 L1124.48,1609.51 L1124.48,1609.69 L1124.47,1609.86 L1124.46,1610.02 L1124.44,1610.18 L1124.41,1610.33 L1124.37,1610.47 L1124.32,1610.60 L1124.27,1610.73 L1124.21,1610.84 L1124.15,1610.95 L1124.08,1611.05 L1124.00,1611.14 L1123.91,1611.22 L1123.82,1611.29 L1123.72,1611.34"/>
<path d="M1123.72,1601.55 L1123.82,1601.51 L1123.93,1601.47 L1124.04,1601.44 L1124.16,1601.43 L1124.28,1601.42 L1124.41,1601.43 L1124.54,1601.44 L1124.67,1601.47 L1124.81,1601.51 L1124.94,1601.56 L1125.08,1601.62 L1125.23,1601.69 L1125.37,1601.77 L1125.52,1601.85 L1125.66,1601.95 L1125.81,1602.06 L1125.95,1602.18 L1126.10,1602.31 L1126.24,1602.44 L1126.38,1602.58 L1126.53,1602.73 L1126.66,1602.89 L1126.80,1603.05 L1126.93,1603.23 L1127.06,1603.40 L1127.19,1603.58 L1127.31,1603.77 L1127.43,1603.96 L1127.55,1604.16 L1127.65,1604.35 L1127.76,1604.56 L1127.86,1604.76 L1127.95,1604.96 L1128.03,1605.17 L1128.11,1605.38 L1128.19,1605.58 L1128.25,1605.79 L1128.31,1605.99 L1128.37,1606.20 L1128.41,1606.40 L1128.45,1606.60 L1128.48,1606.79 L1128.51,1606.98 L1128.52,1607.17 L1128.53,1607.35 L1128.53,1607.53 L1128.52,1607.70 L1128.51,1607.86 L1128.49,1608.02 L1128.46,1608.17 L1128.42,1608.31 L1128.38,1608.44 L1128.32,1608.57 L1128.27,1608.68 L1128.20,1608.79 L1128.13,1608.89 L1128.05,1608.98 L1127.96,1609.06 L1127.87,1609.13 L1127.78,1609.18"/>
<path d="M885.2,1665.0 C885.1,1657.9 887.2,1651.8 889.5,1646.1 C891.8,1640.4 895.0,1635.3 899.0,1630.9 C902.9,1626.4 907.5,1622.3 913.2,1619.5 C918.9,1616.6 926.8,1614.1 933.1,1613.8 C939.5,1613.5 945.0,1614.6 951.2,1617.6 C957.3,1620.6 964.6,1626.0 970.1,1631.8 C975.7,1637.7 980.3,1645.3 984.4,1652.7 C988.5,1660.1 992.7,1668.5 994.8,1676.4 C997.0,1684.3 997.4,1693.0 997.2,1700.1 C997.0,1707.3 996.3,1713.8 993.9,1719.1 C991.4,1724.5 987.2,1729.1 982.5,1732.4 C977.7,1735.7 971.4,1737.9 965.4,1739.1 C959.4,1740.2 953.5,1740.8 946.4,1739.1 C939.3,1737.3 929.8,1733.4 922.7,1728.6 C915.6,1723.9 909.1,1717.2 903.7,1710.6 C898.3,1703.9 893.5,1696.4 890.4,1688.8 C887.4,1681.2 885.4,1672.2 885.2,1665.0 Z" fill="#fff"/>
<path d="M897.1,1630.9 C899.8,1629.1 907.2,1621.9 913.2,1620.0 C919.2,1618.0 926.0,1617.5 933.1,1619.0 C940.3,1620.5 949.0,1624.2 955.9,1629.0 C962.9,1633.8 969.4,1640.8 974.9,1648.0 C980.4,1655.1 986.0,1663.8 989.1,1671.7 C992.2,1679.6 993.2,1688.3 993.4,1695.4 C993.6,1702.5 992.5,1708.7 990.1,1714.4 C987.6,1720.1 983.1,1725.9 978.7,1729.6 C974.3,1733.2 966.0,1735.1 963.5,1736.2"/>
<path d="M899.0,1629.0 C901.8,1628.2 909.7,1624.7 916.1,1624.2 C922.4,1623.8 930.0,1623.8 936.9,1626.1 C943.9,1628.5 951.6,1632.6 957.8,1638.5 C964.0,1644.3 969.7,1653.0 973.9,1661.2 C978.2,1669.5 981.7,1679.7 983.4,1687.8 C985.2,1695.9 985.3,1703.6 984.4,1709.6 C983.4,1715.6 980.9,1719.9 977.7,1723.9 C974.6,1727.8 969.8,1731.0 965.4,1733.4 C961.0,1735.7 953.5,1737.3 951.2,1738.1"/>
<path d="M894.2,1643.2 C895.8,1642.1 899.8,1637.9 903.7,1636.6 C907.7,1635.2 912.4,1634.4 918.0,1635.1 C923.5,1635.9 930.9,1637.3 936.9,1641.3 C942.9,1645.3 949.3,1651.9 954.0,1659.3 C958.8,1666.8 963.3,1677.5 965.4,1685.9 C967.5,1694.3 967.0,1703.6 966.4,1709.6 C965.7,1715.6 964.3,1717.7 961.6,1722.0 C958.9,1726.2 952.1,1733.0 950.2,1735.3"/>
<path d="M896.6,1671.7 C896.3,1664.6 899.2,1654.9 901.8,1649.9 C904.4,1644.8 908.0,1642.3 912.3,1641.3 C916.5,1640.4 922.1,1641.2 927.4,1644.2 C932.8,1647.2 939.3,1652.7 944.5,1659.3 C949.7,1666.0 955.6,1676.4 958.8,1684.0 C961.9,1691.6 963.0,1699.0 963.5,1704.9 C964.0,1710.7 963.5,1715.7 961.6,1719.1 C959.7,1722.5 956.2,1724.5 952.1,1725.3 C948.0,1726.1 942.6,1726.0 936.9,1723.9 C931.2,1721.7 923.5,1717.7 918.0,1712.5 C912.4,1707.3 907.3,1699.4 903.7,1692.6 C900.2,1685.8 896.9,1678.8 896.6,1671.7 Z"/>
<path d="M908.5,1677.4 C907.9,1674.4 904.8,1665.1 905.1,1659.3 C905.5,1653.6 909.5,1645.5 910.4,1642.7"/>
<path d="M926.5,1706.3 C928.2,1708.0 931.9,1713.8 936.9,1716.3 C942.0,1718.7 953.5,1720.2 956.9,1721.0"/>
<path d="M918.0,1667.9 L917.5,1657.9 L923.7,1661.7"/>
<path d="M909.4,1682.1 L929.8,1659.3"/>
<path d="M916.5,1693.5 L939.3,1668.8"/>
<path d="M929.3,1699.7 L946.0,1682.6"/>
<path d="M930.3,1664.6 L934.6,1666.9"/>
<path d="M941.2,1671.7 L946.4,1674.5"/>
<path d="M919.9,1675.5 L924.6,1678.3"/>
<path d="M933.6,1683.1 L936.9,1685.4"/>
<path d="M951.2,1677.4 L953.3,1678.5"/>
<path d="M946.4,1690.7 L954.0,1694.9 L953.5,1679.3"/>
<path d="M1198.5,1515.0 L1201.1,1512.9 L1203.1,1510.1 L1204.3,1506.8 L1204.5,1503.2 L1203.9,1499.6 L1202.4,1496.1 L1200.2,1493.1 L1197.3,1490.8 L1194.0,1489.3 L1190.6,1488.6 L1187.2,1489.0 L1184.0,1490.2 L1163.9,1502.0 L1162.5,1503.3 L1161.7,1505.4 L1161.6,1508.2 L1162.1,1511.3 L1163.2,1514.7 L1164.9,1518.0 L1167.0,1521.1 L1169.3,1523.7 L1171.8,1525.7 L1174.3,1526.9 L1176.5,1527.3 L1178.3,1526.8 Z" fill="#fff"/>
<path d="M1178.3,1526.8 L1181.0,1524.7 L1183.0,1521.9 L1184.1,1518.5 L1184.4,1514.9 L1183.8,1511.3 L1182.3,1507.9 L1180.0,1504.9 L1177.2,1502.5 L1173.9,1501.0 L1170.4,1500.4 L1167.0,1500.7 L1163.9,1502.0 L1161.2,1504.1 L1159.3,1506.9 L1158.1,1510.2 L1157.8,1513.8 L1158.4,1517.4 L1159.9,1520.9 L1162.2,1523.9 L1165.0,1526.2 L1168.3,1527.8 L1171.8,1528.4 L1175.2,1528.0 Z"/>
<path d="M1178.1,1522.4 L1179.1,1521.4 L1179.7,1519.9 L1179.8,1517.9 L1179.4,1515.6 L1178.6,1513.1 L1177.4,1510.7 L1175.9,1508.4 L1174.2,1506.5 L1172.4,1505.0 L1170.6,1504.1 L1169.0,1503.8 L1167.6,1504.2 L1159.7,1508.8 L1158.7,1509.8 L1158.1,1511.3 L1158.0,1513.3 L1158.4,1515.6 L1159.2,1518.1 L1160.4,1520.5 L1161.9,1522.8 L1163.7,1524.7 L1165.5,1526.2 L1167.3,1527.1 L1168.9,1527.3 L1170.2,1527.0 Z" fill="#fff"/>
<path d="M1171.0,1528.2 L1172.1,1527.0 L1172.8,1525.3 L1172.9,1523.0 L1172.4,1520.4 L1171.5,1517.6 L1170.1,1514.9 L1168.4,1512.3 L1166.4,1510.1 L1164.4,1508.5 L1162.3,1507.5 L1160.5,1507.2 L1159.0,1507.6 L1146.7,1514.8 L1145.6,1515.9 L1144.9,1517.7 L1144.8,1519.9 L1145.3,1522.5 L1146.2,1525.3 L1147.6,1528.1 L1149.3,1530.6 L1151.3,1532.8 L1153.3,1534.5 L1155.4,1535.5 L1157.2,1535.8 L1158.7,1535.3 Z" fill="#fff"/>
<path d="M1158.7,1535.3 L1159.9,1534.2 L1160.5,1532.5 L1160.6,1530.2 L1160.2,1527.6 L1159.2,1524.8 L1157.9,1522.0 L1156.1,1519.5 L1154.2,1517.3 L1152.1,1515.7 L1150.1,1514.7 L1148.2,1514.4 L1146.7,1514.8 L1145.6,1515.9 L1144.9,1517.7 L1144.8,1519.9 L1145.3,1522.5 L1146.2,1525.3 L1147.6,1528.1 L1149.3,1530.6 L1151.3,1532.8 L1153.3,1534.5 L1155.4,1535.5 L1157.2,1535.8 Z"/>
<path d="M1158.4,1530.8 L1159.2,1530.1 L1159.6,1528.9 L1159.7,1527.4 L1159.4,1525.7 L1158.8,1523.9 L1157.9,1522.0 L1156.7,1520.3 L1155.4,1518.9 L1154.1,1517.8 L1152.7,1517.1 L1151.5,1516.9 L1150.5,1517.2 L1133.0,1527.3 L1131.4,1528.6 L1130.1,1530.2 L1129.3,1532.1 L1129.1,1534.2 L1129.3,1536.2 L1130.1,1538.1 L1131.4,1539.8 L1133.0,1541.0 L1134.9,1541.8 L1137.0,1542.1 L1139.0,1541.8 L1140.9,1541.0 Z" fill="#fff"/>
<!-- g16.txt -->
<path d="M320.0,1152.0 C324.3,1151.9 336.0,1150.2 346.0,1150.9 C356.0,1151.7 368.7,1154.9 380.0,1156.6 C391.3,1158.3 400.0,1161.1 413.9,1161.1 C427.8,1161.1 455.0,1157.3 463.3,1156.6"/>
<path d="M321.1,1156.6 C326.0,1156.4 340.8,1154.9 350.6,1155.4 C360.4,1156.0 369.4,1158.5 380.0,1160.0 C390.5,1161.5 400.0,1164.5 413.9,1164.5 C427.8,1164.5 455.0,1160.7 463.3,1160.0"/>
<path d="M322.3,1162.2 C327.0,1161.9 340.9,1160.1 350.6,1160.0 C360.2,1159.9 369.4,1161.3 380.0,1161.6 C390.5,1161.8 400.0,1161.3 413.9,1161.6 C427.9,1161.9 455.4,1163.1 463.7,1163.4"/>
<path d="M323.4,1167.9 C327.9,1167.2 341.1,1164.7 350.6,1163.8 C360.0,1162.9 369.4,1162.3 380.0,1162.7 C390.5,1163.1 400.0,1165.4 413.9,1166.1 C427.9,1166.8 455.4,1166.6 463.7,1166.8"/>
<path d="M460.3,1148.7 C461.1,1150.0 464.3,1153.4 464.8,1156.6 C465.4,1159.8 463.9,1166.0 463.7,1167.9"/>
<path d="M229.5,1156.6 L294.0,1119.9 L312.1,1149.8 L323.4,1165.6 L330.2,1186.0 L332.5,1206.4 L327.9,1224.5 L321.1,1233.5 L288.3,1248.2 L232.9,1235.8 Z" fill="#fff" stroke="none"/>
<path d="M229.5,1156.6 L294.0,1119.9"/>
<path d="M312.1,1149.8 C314.0,1152.4 320.4,1159.6 323.4,1165.6 C326.4,1171.7 328.7,1179.2 330.2,1186.0 C331.7,1192.8 332.8,1199.9 332.5,1206.4 C332.1,1212.8 329.8,1219.9 327.9,1224.5 C326.0,1229.1 322.3,1232.4 321.1,1234.0"/>
<path d="M288.3,1248.2 L321.1,1234.0"/>
<path d="M293.1,1119.5 C294.0,1119.7 296.2,1119.6 298.4,1120.5 C300.6,1121.4 304.6,1123.9 306.3,1125.1 C307.9,1126.3 307.9,1127.3 308.3,1127.7"/>
<path d="M302.3,1127.4 C303.1,1128.0 305.8,1130.7 306.9,1131.0 C308.1,1131.3 308.9,1129.5 309.2,1129.2"/>
<path d="M318.8,1135.6 L319.4,1163.9"/>
<path d="M280.0,1161.9 L318.1,1136.3"/>
<path d="M287.9,1153.4 L316.1,1136.9"/>
<path d="M305.0,1148.1 L315.5,1142.2 L315.8,1152.7"/>
<path d="M311.5,1127.1 C311.8,1125.9 314.2,1125.5 315.5,1125.4 C316.8,1125.3 318.2,1125.7 319.4,1126.4 C320.6,1127.1 322.0,1128.5 322.7,1129.7 C323.4,1130.9 323.9,1132.6 323.4,1133.7 C322.8,1134.7 321.0,1136.5 319.4,1136.3 C317.9,1136.1 315.5,1133.9 314.2,1132.3 C312.9,1130.8 311.3,1128.2 311.5,1127.1 Z" fill="#fff"/>
<path d="M316.8,1131.0 C317.0,1128.8 319.3,1129.2 320.7,1129.7 C322.2,1130.3 324.0,1132.4 325.3,1134.3 C326.6,1136.2 328.2,1138.8 328.6,1140.9 C329.1,1143.0 329.3,1145.2 328.0,1146.8 C326.6,1148.4 322.2,1151.4 320.7,1150.7 C319.3,1150.1 320.1,1146.1 319.4,1142.9 C318.8,1139.6 316.6,1133.2 316.8,1131.0 Z" fill="#fff"/>
<path d="M320.1,1144.2 C320.8,1143.9 323.3,1143.4 324.7,1142.9 C326.0,1142.3 327.7,1141.2 328.3,1140.9"/>
<path d="M354.6,1123.1 L355.1,1122.6 L355.3,1121.8 L355.3,1120.7 L355.0,1119.5 L354.5,1118.2 L353.8,1116.9 L353.0,1115.6 L352.0,1114.6 L351.1,1113.8 L350.1,1113.3 L349.3,1113.1 L348.6,1113.3 L320.7,1130.4 L320.2,1130.9 L320.0,1131.7 L320.0,1132.8 L320.3,1134.0 L320.8,1135.3 L321.5,1136.7 L322.3,1137.9 L323.3,1138.9 L324.3,1139.7 L325.2,1140.2 L326.0,1140.4 L326.7,1140.2 Z" fill="#fff"/>
<path d="M322.27,1129.41 L322.39,1129.34 L322.52,1129.29 L322.65,1129.25 L322.80,1129.23 L322.95,1129.22 L323.10,1129.22 L323.27,1129.24 L323.43,1129.27 L323.61,1129.32 L323.78,1129.37 L323.97,1129.45 L324.15,1129.53 L324.34,1129.63 L324.53,1129.74 L324.73,1129.87 L324.92,1130.00 L325.12,1130.15 L325.32,1130.31 L325.52,1130.48 L325.71,1130.66 L325.91,1130.86 L326.10,1131.06 L326.30,1131.27 L326.49,1131.48 L326.67,1131.71 L326.86,1131.94 L327.04,1132.18 L327.21,1132.43 L327.38,1132.68 L327.54,1132.93 L327.70,1133.19 L327.85,1133.45 L327.99,1133.72 L328.13,1133.98 L328.26,1134.25 L328.38,1134.51 L328.49,1134.78 L328.60,1135.04 L328.69,1135.31 L328.78,1135.57 L328.85,1135.82 L328.92,1136.08 L328.98,1136.32 L329.02,1136.57 L329.06,1136.80 L329.09,1137.03 L329.10,1137.25 L329.11,1137.47 L329.11,1137.67 L329.09,1137.87 L329.07,1138.05 L329.03,1138.23 L328.99,1138.39 L328.93,1138.55 L328.87,1138.69 L328.79,1138.82 L328.71,1138.94 L328.61,1139.04 L328.51,1139.13 L328.40,1139.21"/>
<path d="M325.42,1127.50 L325.54,1127.44 L325.67,1127.38 L325.81,1127.35 L325.95,1127.32 L326.10,1127.31 L326.26,1127.32 L326.42,1127.33 L326.59,1127.36 L326.76,1127.41 L326.94,1127.47 L327.12,1127.54 L327.31,1127.63 L327.50,1127.73 L327.69,1127.84 L327.88,1127.96 L328.08,1128.10 L328.28,1128.25 L328.47,1128.41 L328.67,1128.58 L328.87,1128.76 L329.06,1128.95 L329.26,1129.15 L329.45,1129.36 L329.64,1129.58 L329.83,1129.80 L330.01,1130.04 L330.19,1130.28 L330.36,1130.52 L330.53,1130.77 L330.70,1131.03 L330.85,1131.28 L331.00,1131.55 L331.15,1131.81 L331.28,1132.08 L331.41,1132.34 L331.53,1132.61 L331.65,1132.87 L331.75,1133.14 L331.85,1133.40 L331.93,1133.66 L332.01,1133.92 L332.07,1134.17 L332.13,1134.42 L332.18,1134.66 L332.22,1134.90 L332.24,1135.13 L332.26,1135.35 L332.26,1135.56 L332.26,1135.77 L332.25,1135.96 L332.22,1136.15 L332.19,1136.32 L332.14,1136.49 L332.08,1136.64 L332.02,1136.78 L331.94,1136.91 L331.86,1137.03 L331.77,1137.14 L331.66,1137.23 L331.55,1137.31"/>
<path d="M328.58,1125.53 L328.70,1125.46 L328.83,1125.41 L328.96,1125.38 L329.10,1125.35 L329.25,1125.34 L329.41,1125.34 L329.57,1125.36 L329.74,1125.39 L329.91,1125.44 L330.09,1125.50 L330.27,1125.57 L330.46,1125.66 L330.65,1125.76 L330.84,1125.87 L331.04,1125.99 L331.23,1126.13 L331.43,1126.28 L331.63,1126.44 L331.82,1126.61 L332.02,1126.79 L332.22,1126.98 L332.41,1127.18 L332.60,1127.39 L332.79,1127.61 L332.98,1127.83 L333.16,1128.07 L333.34,1128.30 L333.52,1128.55 L333.69,1128.80 L333.85,1129.05 L334.01,1129.31 L334.16,1129.57 L334.30,1129.84 L334.44,1130.10 L334.57,1130.37 L334.69,1130.64 L334.80,1130.90 L334.90,1131.17 L335.00,1131.43 L335.09,1131.69 L335.16,1131.95 L335.23,1132.20 L335.29,1132.45 L335.33,1132.69 L335.37,1132.93 L335.40,1133.15 L335.41,1133.38 L335.42,1133.59 L335.41,1133.79 L335.40,1133.99 L335.37,1134.18 L335.34,1134.35 L335.29,1134.52 L335.24,1134.67 L335.17,1134.81 L335.10,1134.94 L335.01,1135.06 L334.92,1135.17 L334.82,1135.26 L334.71,1135.34"/>
<path d="M331.73,1123.62 L331.85,1123.56 L331.98,1123.51 L332.12,1123.47 L332.26,1123.45 L332.41,1123.44 L332.56,1123.44 L332.73,1123.46 L332.89,1123.49 L333.07,1123.53 L333.25,1123.59 L333.43,1123.67 L333.61,1123.75 L333.80,1123.85 L334.00,1123.96 L334.19,1124.09 L334.39,1124.22 L334.58,1124.37 L334.78,1124.53 L334.98,1124.70 L335.18,1124.88 L335.37,1125.07 L335.57,1125.27 L335.76,1125.48 L335.95,1125.70 L336.13,1125.93 L336.32,1126.16 L336.50,1126.40 L336.67,1126.64 L336.84,1126.89 L337.00,1127.15 L337.16,1127.41 L337.31,1127.67 L337.45,1127.93 L337.59,1128.20 L337.72,1128.47 L337.84,1128.73 L337.95,1129.00 L338.06,1129.26 L338.15,1129.53 L338.24,1129.79 L338.32,1130.04 L338.38,1130.29 L338.44,1130.54 L338.49,1130.78 L338.52,1131.02 L338.55,1131.25 L338.57,1131.47 L338.57,1131.68 L338.57,1131.89 L338.55,1132.09 L338.53,1132.27 L338.49,1132.45 L338.45,1132.61 L338.39,1132.77 L338.33,1132.91 L338.25,1133.04 L338.17,1133.16 L338.07,1133.26 L337.97,1133.35 L337.86,1133.43"/>
<path d="M334.89,1121.65 L335.01,1121.59 L335.13,1121.54 L335.27,1121.50 L335.41,1121.47 L335.56,1121.46 L335.72,1121.47 L335.88,1121.49 L336.05,1121.52 L336.22,1121.56 L336.40,1121.62 L336.58,1121.69 L336.77,1121.78 L336.96,1121.88 L337.15,1121.99 L337.34,1122.12 L337.54,1122.25 L337.74,1122.40 L337.93,1122.56 L338.13,1122.73 L338.33,1122.91 L338.53,1123.10 L338.72,1123.30 L338.91,1123.51 L339.10,1123.73 L339.29,1123.96 L339.47,1124.19 L339.65,1124.43 L339.82,1124.67 L339.99,1124.92 L340.16,1125.18 L340.31,1125.44 L340.46,1125.70 L340.61,1125.96 L340.75,1126.23 L340.87,1126.49 L341.00,1126.76 L341.11,1127.03 L341.21,1127.29 L341.31,1127.55 L341.39,1127.81 L341.47,1128.07 L341.54,1128.32 L341.59,1128.57 L341.64,1128.81 L341.68,1129.05 L341.70,1129.28 L341.72,1129.50 L341.73,1129.71 L341.72,1129.92 L341.71,1130.11 L341.68,1130.30 L341.65,1130.48 L341.60,1130.64 L341.55,1130.79 L341.48,1130.94 L341.41,1131.07 L341.32,1131.18 L341.23,1131.29 L341.13,1131.38 L341.01,1131.46"/>
<path d="M338.11,1119.75 L338.23,1119.68 L338.35,1119.63 L338.49,1119.59 L338.63,1119.57 L338.78,1119.56 L338.94,1119.56 L339.10,1119.58 L339.27,1119.61 L339.44,1119.66 L339.62,1119.72 L339.80,1119.79 L339.99,1119.87 L340.18,1119.97 L340.37,1120.09 L340.56,1120.21 L340.76,1120.35 L340.96,1120.49 L341.15,1120.65 L341.35,1120.82 L341.55,1121.01 L341.74,1121.20 L341.94,1121.40 L342.13,1121.61 L342.32,1121.83 L342.51,1122.05 L342.69,1122.28 L342.87,1122.52 L343.04,1122.77 L343.21,1123.02 L343.38,1123.27 L343.53,1123.53 L343.68,1123.79 L343.83,1124.06 L343.96,1124.32 L344.09,1124.59 L344.21,1124.86 L344.33,1125.12 L344.43,1125.39 L344.53,1125.65 L344.61,1125.91 L344.69,1126.17 L344.76,1126.42 L344.81,1126.67 L344.86,1126.91 L344.90,1127.14 L344.92,1127.37 L344.94,1127.59 L344.95,1127.81 L344.94,1128.01 L344.93,1128.21 L344.90,1128.39 L344.87,1128.57 L344.82,1128.74 L344.77,1128.89 L344.70,1129.03 L344.63,1129.16 L344.54,1129.28 L344.45,1129.38 L344.34,1129.48 L344.23,1129.56"/>
<path d="M341.26,1117.84 L341.38,1117.78 L341.51,1117.73 L341.64,1117.69 L341.79,1117.66 L341.93,1117.65 L342.09,1117.66 L342.25,1117.67 L342.42,1117.71 L342.60,1117.75 L342.77,1117.81 L342.96,1117.88 L343.14,1117.97 L343.33,1118.07 L343.52,1118.18 L343.72,1118.30 L343.91,1118.44 L344.11,1118.59 L344.31,1118.75 L344.51,1118.92 L344.70,1119.10 L344.90,1119.29 L345.09,1119.49 L345.29,1119.70 L345.47,1119.92 L345.66,1120.15 L345.84,1120.38 L346.02,1120.62 L346.20,1120.86 L346.37,1121.11 L346.53,1121.37 L346.69,1121.63 L346.84,1121.89 L346.98,1122.15 L347.12,1122.42 L347.25,1122.68 L347.37,1122.95 L347.48,1123.22 L347.59,1123.48 L347.68,1123.74 L347.77,1124.00 L347.84,1124.26 L347.91,1124.51 L347.97,1124.76 L348.01,1125.00 L348.05,1125.24 L348.08,1125.47 L348.09,1125.69 L348.10,1125.90 L348.09,1126.11 L348.08,1126.30 L348.05,1126.49 L348.02,1126.66 L347.97,1126.83 L347.92,1126.98 L347.85,1127.13 L347.78,1127.26 L347.69,1127.37 L347.60,1127.48 L347.50,1127.57 L347.39,1127.65"/>
<path d="M344.41,1115.87 L344.53,1115.81 L344.66,1115.75 L344.80,1115.72 L344.94,1115.69 L345.09,1115.68 L345.24,1115.69 L345.41,1115.70 L345.58,1115.74 L345.75,1115.78 L345.93,1115.84 L346.11,1115.91 L346.30,1116.00 L346.48,1116.10 L346.68,1116.21 L346.87,1116.33 L347.07,1116.47 L347.26,1116.62 L347.46,1116.78 L347.66,1116.95 L347.86,1117.13 L348.05,1117.32 L348.25,1117.52 L348.44,1117.73 L348.63,1117.95 L348.82,1118.17 L349.00,1118.41 L349.18,1118.65 L349.35,1118.89 L349.52,1119.14 L349.68,1119.40 L349.84,1119.66 L349.99,1119.92 L350.14,1120.18 L350.27,1120.45 L350.40,1120.71 L350.52,1120.98 L350.63,1121.25 L350.74,1121.51 L350.83,1121.77 L350.92,1122.03 L351.00,1122.29 L351.06,1122.54 L351.12,1122.79 L351.17,1123.03 L351.20,1123.27 L351.23,1123.50 L351.25,1123.72 L351.25,1123.93 L351.25,1124.14 L351.23,1124.33 L351.21,1124.52 L351.17,1124.69 L351.13,1124.86 L351.07,1125.01 L351.01,1125.15 L350.93,1125.28 L350.85,1125.40 L350.75,1125.51 L350.65,1125.60 L350.54,1125.68"/>
<path d="M358.3,1178.4 L358.7,1177.9 L358.9,1177.2 L358.9,1176.3 L358.6,1175.2 L358.2,1174.0 L357.5,1172.8 L356.7,1171.8 L355.9,1170.8 L355.0,1170.1 L354.2,1169.7 L353.4,1169.6 L352.8,1169.7 L335.1,1180.9 L334.7,1181.4 L334.5,1182.1 L334.5,1183.0 L334.8,1184.1 L335.2,1185.3 L335.9,1186.5 L336.6,1187.5 L337.5,1188.5 L338.4,1189.2 L339.2,1189.6 L340.0,1189.7 L340.5,1189.6 Z" fill="#fff"/>
<path d="M326.0,1179.6 C326.2,1177.0 328.4,1179.0 329.9,1179.6 C331.5,1180.3 333.9,1181.8 335.2,1183.6 C336.5,1185.3 337.5,1188.0 337.8,1190.2 C338.1,1192.3 338.0,1195.1 337.2,1196.7 C336.3,1198.3 334.0,1199.9 332.6,1199.7 C331.1,1199.5 329.7,1198.8 328.6,1195.4 C327.5,1192.1 325.8,1182.3 326.0,1179.6 Z" fill="#fff"/>
<path d="M329.9,1179.6 C330.6,1180.3 332.9,1181.7 333.9,1183.6 C334.9,1185.4 335.7,1188.5 335.8,1190.8 C336.0,1193.1 334.8,1196.3 334.5,1197.4"/>
<path d="M336.75,1179.90 L336.85,1179.84 L336.96,1179.79 L337.08,1179.76 L337.21,1179.74 L337.34,1179.73 L337.48,1179.73 L337.63,1179.75 L337.78,1179.78 L337.93,1179.82 L338.09,1179.87 L338.25,1179.93 L338.41,1180.01 L338.58,1180.10 L338.75,1180.20 L338.92,1180.31 L339.10,1180.43 L339.27,1180.56 L339.45,1180.70 L339.62,1180.85 L339.80,1181.01 L339.97,1181.18 L340.14,1181.36 L340.31,1181.55 L340.48,1181.74 L340.65,1181.94 L340.81,1182.15 L340.97,1182.36 L341.12,1182.57 L341.27,1182.80 L341.42,1183.02 L341.56,1183.25 L341.69,1183.48 L341.82,1183.72 L341.94,1183.95 L342.05,1184.19 L342.16,1184.43 L342.26,1184.66 L342.35,1184.90 L342.44,1185.13 L342.51,1185.36 L342.58,1185.59 L342.64,1185.81 L342.69,1186.03 L342.73,1186.24 L342.76,1186.45 L342.79,1186.66 L342.80,1186.85 L342.81,1187.04 L342.80,1187.22 L342.79,1187.40 L342.77,1187.56 L342.74,1187.72 L342.70,1187.86 L342.65,1188.00 L342.59,1188.13 L342.52,1188.24 L342.45,1188.35 L342.37,1188.44 L342.28,1188.52 L342.18,1188.59"/>
<path d="M339.70,1178.06 L339.81,1178.00 L339.92,1177.95 L340.04,1177.92 L340.17,1177.90 L340.30,1177.89 L340.44,1177.89 L340.58,1177.91 L340.73,1177.94 L340.89,1177.98 L341.04,1178.03 L341.21,1178.09 L341.37,1178.17 L341.54,1178.26 L341.71,1178.36 L341.88,1178.47 L342.05,1178.59 L342.23,1178.72 L342.40,1178.86 L342.58,1179.01 L342.75,1179.17 L342.93,1179.34 L343.10,1179.52 L343.27,1179.71 L343.44,1179.90 L343.60,1180.10 L343.77,1180.31 L343.92,1180.52 L344.08,1180.74 L344.23,1180.96 L344.37,1181.18 L344.51,1181.41 L344.65,1181.64 L344.77,1181.88 L344.90,1182.11 L345.01,1182.35 L345.12,1182.59 L345.22,1182.82 L345.31,1183.06 L345.39,1183.29 L345.47,1183.52 L345.54,1183.75 L345.60,1183.97 L345.65,1184.19 L345.69,1184.40 L345.72,1184.61 L345.74,1184.82 L345.76,1185.01 L345.76,1185.20 L345.76,1185.38 L345.75,1185.56 L345.73,1185.72 L345.69,1185.88 L345.65,1186.02 L345.61,1186.16 L345.55,1186.29 L345.48,1186.40 L345.41,1186.51 L345.32,1186.60 L345.23,1186.68 L345.13,1186.75"/>
<path d="M342.66,1176.22 L342.76,1176.16 L342.88,1176.12 L343.00,1176.08 L343.12,1176.06 L343.26,1176.05 L343.40,1176.05 L343.54,1176.07 L343.69,1176.10 L343.84,1176.14 L344.00,1176.19 L344.16,1176.25 L344.33,1176.33 L344.49,1176.42 L344.66,1176.52 L344.84,1176.63 L345.01,1176.75 L345.19,1176.88 L345.36,1177.02 L345.54,1177.17 L345.71,1177.33 L345.88,1177.50 L346.06,1177.68 L346.23,1177.87 L346.40,1178.06 L346.56,1178.26 L346.72,1178.47 L346.88,1178.68 L347.04,1178.90 L347.19,1179.12 L347.33,1179.34 L347.47,1179.57 L347.60,1179.80 L347.73,1180.04 L347.85,1180.27 L347.97,1180.51 L348.07,1180.75 L348.17,1180.98 L348.27,1181.22 L348.35,1181.45 L348.43,1181.68 L348.49,1181.91 L348.55,1182.13 L348.60,1182.35 L348.65,1182.56 L348.68,1182.77 L348.70,1182.98 L348.72,1183.17 L348.72,1183.36 L348.72,1183.54 L348.70,1183.72 L348.68,1183.88 L348.65,1184.04 L348.61,1184.18 L348.56,1184.32 L348.50,1184.45 L348.44,1184.56 L348.36,1184.67 L348.28,1184.76 L348.19,1184.84 L348.09,1184.91"/>
<path d="M345.62,1174.38 L345.72,1174.32 L345.83,1174.28 L345.95,1174.24 L346.08,1174.22 L346.21,1174.21 L346.35,1174.21 L346.50,1174.23 L346.65,1174.26 L346.80,1174.30 L346.96,1174.35 L347.12,1174.41 L347.28,1174.49 L347.45,1174.58 L347.62,1174.68 L347.79,1174.79 L347.97,1174.91 L348.14,1175.04 L348.32,1175.18 L348.49,1175.33 L348.67,1175.49 L348.84,1175.66 L349.01,1175.84 L349.18,1176.03 L349.35,1176.22 L349.52,1176.42 L349.68,1176.63 L349.84,1176.84 L349.99,1177.06 L350.14,1177.28 L350.29,1177.50 L350.43,1177.73 L350.56,1177.96 L350.69,1178.20 L350.81,1178.43 L350.92,1178.67 L351.03,1178.91 L351.13,1179.14 L351.22,1179.38 L351.31,1179.61 L351.38,1179.84 L351.45,1180.07 L351.51,1180.29 L351.56,1180.51 L351.60,1180.73 L351.63,1180.93 L351.66,1181.14 L351.67,1181.33 L351.68,1181.52 L351.67,1181.70 L351.66,1181.88 L351.64,1182.04 L351.61,1182.20 L351.57,1182.34 L351.52,1182.48 L351.46,1182.61 L351.39,1182.72 L351.32,1182.83 L351.24,1182.92 L351.15,1183.00 L351.05,1183.07"/>
<path d="M348.57,1172.54 L348.68,1172.48 L348.79,1172.44 L348.91,1172.40 L349.04,1172.38 L349.17,1172.37 L349.31,1172.37 L349.45,1172.39 L349.60,1172.42 L349.76,1172.46 L349.91,1172.51 L350.08,1172.58 L350.24,1172.65 L350.41,1172.74 L350.58,1172.84 L350.75,1172.95 L350.92,1173.07 L351.10,1173.20 L351.27,1173.34 L351.45,1173.49 L351.62,1173.65 L351.80,1173.82 L351.97,1174.00 L352.14,1174.19 L352.31,1174.38 L352.47,1174.58 L352.64,1174.79 L352.79,1175.00 L352.95,1175.22 L353.10,1175.44 L353.24,1175.66 L353.38,1175.89 L353.52,1176.12 L353.64,1176.36 L353.77,1176.59 L353.88,1176.83 L353.99,1177.07 L354.09,1177.30 L354.18,1177.54 L354.26,1177.77 L354.34,1178.00 L354.41,1178.23 L354.47,1178.45 L354.52,1178.67 L354.56,1178.89 L354.59,1179.09 L354.61,1179.30 L354.63,1179.49 L354.63,1179.68 L354.63,1179.87 L354.62,1180.04 L354.60,1180.20 L354.56,1180.36 L354.52,1180.51 L354.47,1180.64 L354.42,1180.77 L354.35,1180.88 L354.28,1180.99 L354.19,1181.08 L354.10,1181.16 L354.00,1181.23"/>
<path d="M175.2,1206.9 C174.7,1200.5 175.8,1195.1 177.6,1189.9 C179.4,1184.6 182.3,1180.0 186.1,1175.6 C189.9,1171.2 195.6,1166.3 200.4,1163.3 C205.1,1160.3 210.2,1158.7 214.6,1157.6 C219.0,1156.5 222.0,1155.8 226.9,1156.5 C231.8,1157.1 238.5,1158.5 244.0,1161.4 C249.6,1164.3 255.4,1168.7 260.1,1173.7 C264.9,1178.8 268.8,1185.0 272.5,1191.8 C276.1,1198.6 279.6,1207.3 282.0,1214.5 C284.3,1221.8 286.1,1229.1 286.7,1235.4 C287.4,1241.7 287.0,1247.3 285.8,1252.5 C284.5,1257.7 282.5,1262.6 279.1,1266.7 C275.8,1270.8 271.1,1274.6 265.8,1277.2 C260.6,1279.7 253.7,1281.4 247.8,1281.9 C242.0,1282.4 236.7,1282.1 230.7,1280.0 C224.7,1277.9 218.1,1274.5 211.8,1269.6 C205.4,1264.7 198.0,1257.4 192.8,1250.6 C187.6,1243.8 183.4,1236.0 180.4,1228.8 C177.5,1221.5 175.7,1213.4 175.2,1206.9 Z" fill="#fff"/>
<path d="M187.1,1175.6 C189.5,1173.9 195.0,1168.0 201.3,1165.2 C207.6,1162.4 218.2,1159.3 225.0,1159.0 C231.8,1158.7 236.6,1160.2 242.1,1163.3 C247.7,1166.4 253.5,1172.0 258.3,1177.5 C263.0,1183.1 267.1,1189.7 270.6,1196.5 C274.1,1203.3 277.1,1211.0 279.1,1218.3 C281.2,1225.6 282.6,1233.8 282.9,1240.1 C283.2,1246.5 282.6,1251.2 281.0,1256.3 C279.4,1261.3 277.7,1266.7 273.4,1270.5 C269.2,1274.3 258.4,1277.6 255.4,1279.1"/>
<path d="M187.1,1173.7 C190.1,1172.0 199.1,1164.9 205.1,1163.3 C211.1,1161.7 217.0,1162.3 223.1,1164.2 C229.3,1166.1 236.1,1169.8 242.1,1174.7 C248.1,1179.6 254.5,1186.7 259.2,1193.7 C263.9,1200.6 267.7,1208.7 270.6,1216.4 C273.4,1224.2 275.6,1233.3 276.3,1240.1 C276.9,1247.0 276.0,1252.2 274.4,1257.2 C272.8,1262.3 270.3,1267.0 266.8,1270.5 C263.3,1274.0 255.7,1276.8 253.5,1278.1"/>
<path d="M183.3,1186.5 C185.2,1185.2 190.2,1179.8 194.7,1178.5 C199.1,1177.1 204.2,1176.9 209.9,1178.5 C215.5,1180.0 222.4,1182.9 228.8,1188.0 C235.3,1193.0 243.2,1201.2 248.8,1208.8 C254.3,1216.4 259.0,1225.9 262.0,1233.5 C265.1,1241.1 266.3,1248.5 266.8,1254.4 C267.3,1260.2 266.8,1264.8 264.9,1268.6 C263.0,1272.4 259.5,1275.5 255.4,1277.2 C251.3,1278.8 242.8,1278.3 240.2,1278.6"/>
<path d="M186.1,1208.8 C186.4,1204.1 187.1,1198.3 189.0,1194.6 C190.9,1190.9 194.2,1188.1 197.5,1186.5 C200.8,1185.0 204.6,1184.2 208.9,1185.1 C213.2,1186.0 218.2,1187.8 223.1,1191.8 C228.0,1195.7 234.1,1202.2 238.3,1208.8 C242.6,1215.5 246.4,1224.7 248.8,1231.6 C251.1,1238.6 252.2,1245.2 252.6,1250.6 C252.9,1256.0 252.4,1260.7 250.7,1263.9 C248.9,1267.0 246.1,1268.9 242.1,1269.6 C238.2,1270.2 232.3,1269.9 226.9,1267.7 C221.6,1265.5 215.1,1261.2 209.9,1256.3 C204.6,1251.4 199.3,1243.8 195.6,1238.3 C191.9,1232.7 189.1,1228.0 187.6,1223.1 C186.0,1218.2 185.9,1213.6 186.1,1208.8 Z"/>
<path d="M198.5,1220.2 C197.9,1217.4 194.8,1208.9 195.1,1203.1 C195.5,1197.4 199.5,1188.5 200.4,1185.6"/>
<path d="M216.5,1249.2 C218.2,1250.8 221.9,1256.8 226.9,1259.1 C232.0,1261.5 243.5,1262.7 246.9,1263.4"/>
<path d="M207.5,1197.4 L213.7,1201.7"/>
<path d="M203.2,1210.7 L207.5,1213.1"/>
<path d="M199.4,1225.0 L219.8,1202.2"/>
<path d="M206.5,1236.4 L229.3,1211.7"/>
<path d="M219.3,1242.5 L235.5,1225.4"/>
<path d="M222.2,1231.1 L226.9,1228.3"/>
<path d="M235.5,1234.9 C236.2,1235.2 238.6,1237.1 239.7,1236.8 C240.9,1236.6 242.2,1234.5 242.6,1233.5 C243.0,1232.5 242.2,1231.1 242.1,1230.7"/>
<path d="M437.9,1078.7 L440.5,1076.8 L442.4,1074.2 L443.6,1071.1 L444.0,1067.7 L443.5,1064.2 L442.2,1060.9 L440.2,1058.1 L437.5,1055.8 L434.5,1054.2 L431.3,1053.5 L428.0,1053.7 L425.0,1054.8 L405.2,1065.6 L403.9,1066.8 L403.1,1068.8 L402.8,1071.4 L403.2,1074.3 L404.2,1077.5 L405.7,1080.7 L407.5,1083.7 L409.7,1086.2 L412.0,1088.2 L414.2,1089.4 L416.3,1089.8 L418.1,1089.4 Z" fill="#fff"/>
<path d="M418.1,1089.4 L420.6,1087.5 L422.6,1084.9 L423.8,1081.8 L424.1,1078.4 L423.6,1075.0 L422.3,1071.7 L420.3,1068.8 L417.7,1066.5 L414.6,1065.0 L411.4,1064.3 L408.2,1064.5 L405.2,1065.6 L402.6,1067.5 L400.7,1070.1 L399.5,1073.2 L399.1,1076.6 L399.6,1080.0 L400.9,1083.3 L402.9,1086.2 L405.6,1088.5 L408.6,1090.0 L411.8,1090.7 L415.1,1090.5 Z"/>
<path d="M417.3,1085.5 L418.3,1084.6 L418.9,1083.2 L419.1,1081.3 L418.8,1079.2 L418.2,1076.9 L417.1,1074.5 L415.8,1072.4 L414.3,1070.5 L412.7,1069.0 L411.0,1068.1 L409.5,1067.8 L408.3,1068.1 L402.4,1071.1 L401.5,1072.0 L400.9,1073.4 L400.7,1075.3 L400.9,1077.4 L401.6,1079.8 L402.6,1082.1 L403.9,1084.3 L405.4,1086.1 L407.1,1087.6 L408.7,1088.5 L410.2,1088.8 L411.5,1088.5 Z" fill="#fff"/>
<path d="M412.5,1090.1 L413.6,1089.0 L414.3,1087.3 L414.5,1085.1 L414.2,1082.6 L413.3,1079.8 L412.1,1077.1 L410.5,1074.5 L408.6,1072.3 L406.7,1070.6 L404.7,1069.5 L402.9,1069.2 L401.4,1069.6 L389.7,1075.9 L388.6,1076.9 L387.9,1078.6 L387.7,1080.8 L388.0,1083.4 L388.9,1086.2 L390.1,1088.9 L391.7,1091.5 L393.6,1093.7 L395.6,1095.4 L397.5,1096.4 L399.3,1096.8 L400.8,1096.4 Z" fill="#fff"/>
<path d="M400.8,1096.4 L402.0,1095.3 L402.6,1093.7 L402.8,1091.4 L402.5,1088.9 L401.7,1086.1 L400.4,1083.4 L398.8,1080.8 L396.9,1078.6 L395.0,1076.9 L393.0,1075.9 L391.2,1075.5 L389.7,1075.9 L388.6,1076.9 L387.9,1078.6 L387.7,1080.8 L388.0,1083.4 L388.9,1086.2 L390.1,1088.9 L391.7,1091.5 L393.6,1093.7 L395.6,1095.4 L397.5,1096.4 L399.3,1096.8 Z"/>
<path d="M401.1,1091.6 L401.9,1090.9 L402.3,1089.8 L402.4,1088.4 L402.2,1086.7 L401.7,1085.0 L400.9,1083.2 L399.9,1081.6 L398.7,1080.1 L397.5,1079.1 L396.2,1078.4 L395.1,1078.1 L394.1,1078.4 L376.6,1087.7 L375.0,1088.9 L373.7,1090.4 L372.9,1092.1 L372.6,1094.1 L372.8,1096.0 L373.5,1097.8 L374.6,1099.4 L376.1,1100.7 L377.9,1101.5 L379.8,1101.8 L381.8,1101.6 L383.6,1100.9 Z" fill="#fff"/>
<path d="M425.3,1216.1 L295.0,1285.1 L284.1,1293.9 L279.3,1304.8 L281.9,1308.7 L325.7,1289.5 L441.7,1224.9 Z" fill="#fff"/>
<path d="M281.9,1305.9 L327.9,1285.1"/>
<path d="M393.6,1245.7 L436.3,1223.8"/>
<path d="M424.7,1212.8 L435.2,1206.7 L451.6,1216.1 L452.7,1230.4 L443.9,1235.8 L426.4,1226.0 Z" fill="#fff"/>
<path d="M426.4,1215.0 L441.7,1223.4 L451.6,1216.1"/>
<path d="M441.7,1223.4 L443.9,1235.8"/>
<path d="M434.1,1210.7 C434.7,1211.0 437.1,1212.0 437.8,1212.8 C438.5,1213.6 438.3,1215.0 438.5,1215.5"/>
<path d="M426.3,1338.1 L427.3,1337.1 L427.8,1335.5 L427.9,1333.6 L427.6,1331.3 L426.8,1328.8 L425.5,1326.4 L424.0,1324.1 L422.3,1322.2 L420.5,1320.7 L418.7,1319.8 L417.1,1319.5 L415.7,1319.9 L241.7,1420.9 L240.7,1421.9 L240.2,1423.5 L240.1,1425.4 L240.4,1427.7 L241.2,1430.2 L242.5,1432.6 L244.0,1434.9 L245.7,1436.8 L247.5,1438.3 L249.3,1439.2 L250.9,1439.5 L252.3,1439.1 Z" fill="#fff"/>
<path d="M252.3,1439.1 L253.3,1438.1 L253.8,1436.5 L253.9,1434.6 L253.6,1432.3 L252.8,1429.8 L251.5,1427.4 L250.0,1425.1 L248.3,1423.2 L246.5,1421.7 L244.7,1420.8 L243.1,1420.5 L241.7,1420.9 L240.7,1421.9 L240.2,1423.5 L240.1,1425.4 L240.4,1427.7 L241.2,1430.2 L242.5,1432.6 L244.0,1434.9 L245.7,1436.8 L247.5,1438.3 L249.3,1439.2 L250.9,1439.5 Z"/>
<ellipse cx="247.50" cy="1429.50" rx="4.50" ry="3.15" transform="rotate(60.0 247.50 1429.50)"/>
<path d="M413.3,1311.4 L426.4,1311.4 L433.0,1337.7 L413.3,1339.8 Z" fill="#fff" stroke="none"/>
<path d="M416.6,1317.9 C417.7,1318.7 422.2,1320.1 423.1,1322.3 C424.0,1324.5 421.1,1329.3 422.0,1331.1 C422.9,1332.9 427.7,1332.4 428.6,1333.3 C429.5,1334.2 427.7,1336.0 427.5,1336.6"/>
<path d="M597.3,1240.1 L598.3,1239.1 L598.8,1237.6 L598.9,1235.6 L598.6,1233.3 L597.8,1230.8 L596.5,1228.4 L595.0,1226.1 L593.3,1224.2 L591.5,1222.7 L589.7,1221.8 L588.1,1221.5 L586.7,1221.9 L439.7,1306.9 L438.7,1307.9 L438.2,1309.4 L438.1,1311.4 L438.4,1313.7 L439.2,1316.2 L440.5,1318.6 L442.0,1320.9 L443.7,1322.8 L445.5,1324.3 L447.3,1325.2 L448.9,1325.5 L450.3,1325.1 Z" fill="#fff"/>
<path d="M430.8,1298.2 L443.9,1298.2 L450.5,1328.9 L433.0,1328.9 Z" fill="#fff" stroke="none"/>
<path d="M438.5,1304.8 C438.1,1305.7 435.7,1308.6 436.3,1310.3 C436.8,1311.9 441.0,1313.0 441.7,1314.7 C442.5,1316.3 439.5,1318.5 440.6,1320.1 C441.7,1321.8 447.0,1323.8 448.3,1324.5"/>
<!-- g20.txt -->
<path d="M327.5,1720.2 C331.8,1717.4 344.9,1709.0 353.6,1703.3 C362.2,1697.7 375.1,1689.3 379.4,1686.5 L370.2,1672.4 C365.9,1675.2 353.0,1683.6 344.4,1689.2 C335.7,1694.8 322.7,1703.3 318.3,1706.1 Z" fill="#fff" stroke="none"/>
<path d="M327.5,1720.2 C331.8,1717.4 344.9,1709.0 353.6,1703.3 C362.2,1697.7 375.1,1689.3 379.4,1686.5"/>
<path d="M318.3,1706.1 C322.7,1703.3 335.7,1694.8 344.4,1689.2 C353.0,1683.6 365.9,1675.2 370.2,1672.4"/>
<path d="M370.2,1671.0 C371.1,1671.7 375.1,1673.5 375.8,1675.3 C376.4,1677.1 373.2,1680.0 374.0,1681.7 C374.8,1683.4 379.5,1684.4 380.4,1685.5 C381.2,1686.7 379.3,1688.1 379.1,1688.6"/>
<path d="M380.6,1757.3 C384.5,1755.2 395.8,1748.8 403.6,1744.6 C411.4,1740.3 423.3,1733.9 427.3,1731.8 L419.3,1717.0 C415.3,1719.1 403.3,1725.5 395.5,1729.8 C387.7,1734.0 376.3,1740.4 372.5,1742.6 Z" fill="#fff" stroke="none"/>
<path d="M380.6,1757.3 C384.5,1755.2 395.8,1748.8 403.6,1744.6 C411.4,1740.3 423.3,1733.9 427.3,1731.8"/>
<path d="M372.5,1742.6 C376.3,1740.4 387.7,1734.0 395.5,1729.8 C403.3,1725.5 415.3,1719.1 419.3,1717.0"/>
<path d="M418.7,1716.2 C419.6,1716.8 423.2,1718.3 423.8,1720.0 C424.5,1721.8 421.8,1725.2 422.5,1726.9 C423.3,1728.6 427.6,1729.2 428.4,1730.3 C429.3,1731.3 427.8,1732.8 427.6,1733.3"/>
<path d="M399.5,1774.8 C404.8,1772.2 419.9,1762.0 431.2,1758.8 C442.5,1755.6 461.4,1756.3 467.5,1755.8 L466.0,1739.0 C459.4,1739.6 439.0,1739.1 426.6,1742.6 C414.3,1746.0 397.7,1756.9 391.9,1759.8 Z" fill="#fff" stroke="none"/>
<path d="M399.5,1774.8 C404.8,1772.2 419.9,1762.0 431.2,1758.8 C442.5,1755.6 461.4,1756.3 467.5,1755.8"/>
<path d="M391.9,1759.8 C397.7,1756.9 414.3,1746.0 426.6,1742.6 C439.0,1739.1 459.4,1739.6 466.0,1739.0"/>
<path d="M459.6,1739.7 C460.4,1740.3 464.1,1741.4 464.7,1743.0 C465.3,1744.7 462.5,1747.8 463.4,1749.4 C464.4,1751.0 469.3,1751.4 470.3,1752.5 C471.4,1753.6 469.9,1755.3 469.8,1755.8"/>
<path d="M218.1,1736.6 L288.4,1698.3 L314.0,1699.6 L347.2,1717.5 L375.3,1752.0 L395.7,1798.0 L398.3,1815.9 L423.8,1836.3 L314.0,1902.7 L257.7,1889.9 Z" fill="#fff" stroke="none"/>
<path d="M218.1,1736.6 L288.4,1698.3"/>
<path d="M288.4,1698.3 C291.0,1697.8 299.4,1694.9 303.7,1695.3 C308.1,1695.6 312.7,1699.5 314.5,1700.4"/>
<path d="M273.1,1718.8 C275.6,1718.0 282.4,1713.8 288.4,1714.2 C294.4,1714.5 304.5,1718.8 308.8,1720.8 C313.2,1722.9 313.1,1724.4 314.5,1726.4 C315.8,1728.4 316.6,1731.8 317.0,1732.8"/>
<path d="M278.2,1718.8 L314.5,1699.6"/>
<path d="M311.9,1700.4 C313.1,1702.4 316.6,1707.6 319.1,1712.4 C321.5,1717.1 325.5,1726.2 326.7,1729.0"/>
<path d="M308.8,1736.6 L347.2,1717.5"/>
<path d="M347.2,1717.5 C349.5,1719.8 356.5,1725.8 361.2,1731.5 C365.9,1737.3 370.8,1744.7 375.3,1752.0 C379.7,1759.2 384.6,1767.3 388.0,1775.0 C391.5,1782.6 393.9,1791.1 395.7,1798.0 C397.5,1804.9 398.3,1813.3 398.8,1816.4"/>
<path d="M385.5,1844.0 C386.8,1845.7 392.7,1850.8 393.2,1854.2 C393.6,1857.6 391.0,1861.4 388.0,1864.4 C385.1,1867.4 377.4,1870.8 375.3,1872.1"/>
<path d="M315.2,1865.7 L423.8,1799.2 L425.9,1836.8 L421.8,1838.8 L421.3,1836.3 L314.0,1903.2 Z" fill="#fff"/>
<path d="M393.2,1782.6 L423.8,1799.2"/>
<path d="M398.3,1818.4 L421.3,1805.6"/>
<path d="M315.2,1864.4 L342.1,1852.1"/>
<path d="M431.8,1788.6 L432.6,1788.2 L433.2,1787.3 L433.6,1786.1 L433.8,1784.7 L433.7,1783.0 L433.4,1781.3 L432.9,1779.7 L432.2,1778.2 L431.4,1777.0 L430.5,1776.1 L429.5,1775.7 L428.6,1775.7 L405.6,1781.3 L404.9,1781.7 L404.2,1782.6 L403.8,1783.7 L403.6,1785.2 L403.7,1786.8 L404.0,1788.5 L404.5,1790.2 L405.2,1791.7 L406.0,1792.9 L407.0,1793.7 L407.9,1794.2 L408.8,1794.2 Z" fill="#fff"/>
<path d="M411.17,1779.93 L411.34,1779.91 L411.51,1779.90 L411.69,1779.92 L411.87,1779.95 L412.05,1780.00 L412.23,1780.07 L412.42,1780.16 L412.60,1780.26 L412.78,1780.38 L412.96,1780.52 L413.13,1780.67 L413.31,1780.84 L413.48,1781.02 L413.65,1781.22 L413.82,1781.44 L413.98,1781.66 L414.14,1781.90 L414.29,1782.16 L414.43,1782.42 L414.58,1782.70 L414.71,1782.99 L414.84,1783.28 L414.96,1783.59 L415.07,1783.90 L415.18,1784.22 L415.28,1784.54 L415.37,1784.88 L415.45,1785.21 L415.53,1785.55 L415.59,1785.89 L415.65,1786.24 L415.69,1786.58 L415.73,1786.92 L415.76,1787.27 L415.78,1787.61 L415.79,1787.94 L415.79,1788.28 L415.78,1788.60 L415.76,1788.93 L415.73,1789.24 L415.69,1789.55 L415.64,1789.85 L415.59,1790.14 L415.52,1790.42 L415.45,1790.69 L415.37,1790.94 L415.27,1791.19 L415.18,1791.42 L415.07,1791.64 L414.95,1791.85 L414.83,1792.04 L414.70,1792.21 L414.57,1792.37 L414.43,1792.51 L414.28,1792.64 L414.13,1792.75 L413.97,1792.84 L413.81,1792.91 L413.64,1792.97 L413.47,1793.01"/>
<path d="M416.28,1778.65 L416.45,1778.63 L416.62,1778.63 L416.80,1778.64 L416.98,1778.67 L417.16,1778.72 L417.34,1778.79 L417.53,1778.88 L417.71,1778.98 L417.89,1779.10 L418.07,1779.24 L418.24,1779.39 L418.42,1779.56 L418.59,1779.74 L418.76,1779.94 L418.93,1780.16 L419.09,1780.39 L419.25,1780.63 L419.40,1780.88 L419.54,1781.14 L419.69,1781.42 L419.82,1781.71 L419.95,1782.00 L420.07,1782.31 L420.18,1782.62 L420.29,1782.94 L420.39,1783.27 L420.48,1783.60 L420.56,1783.93 L420.64,1784.27 L420.70,1784.61 L420.76,1784.96 L420.80,1785.30 L420.84,1785.65 L420.87,1785.99 L420.89,1786.33 L420.90,1786.66 L420.90,1787.00 L420.89,1787.33 L420.87,1787.65 L420.84,1787.96 L420.80,1788.27 L420.75,1788.57 L420.70,1788.86 L420.63,1789.14 L420.56,1789.41 L420.48,1789.67 L420.38,1789.91 L420.29,1790.15 L420.18,1790.36 L420.06,1790.57 L419.94,1790.76 L419.81,1790.93 L419.68,1791.09 L419.54,1791.24 L419.39,1791.36 L419.24,1791.47 L419.08,1791.56 L418.92,1791.64 L418.75,1791.69 L418.58,1791.73"/>
<path d="M421.39,1777.37 L421.56,1777.35 L421.73,1777.35 L421.91,1777.36 L422.09,1777.40 L422.27,1777.45 L422.45,1777.51 L422.63,1777.60 L422.82,1777.70 L423.00,1777.82 L423.18,1777.96 L423.35,1778.11 L423.53,1778.28 L423.70,1778.47 L423.87,1778.67 L424.04,1778.88 L424.20,1779.11 L424.36,1779.35 L424.51,1779.60 L424.65,1779.87 L424.80,1780.14 L424.93,1780.43 L425.06,1780.73 L425.18,1781.03 L425.29,1781.34 L425.40,1781.66 L425.50,1781.99 L425.59,1782.32 L425.67,1782.66 L425.75,1783.00 L425.81,1783.34 L425.87,1783.68 L425.91,1784.02 L425.95,1784.37 L425.98,1784.71 L426.00,1785.05 L426.01,1785.39 L426.01,1785.72 L426.00,1786.05 L425.98,1786.37 L425.95,1786.69 L425.91,1786.99 L425.86,1787.29 L425.81,1787.58 L425.74,1787.86 L425.67,1788.13 L425.59,1788.39 L425.49,1788.64 L425.40,1788.87 L425.29,1789.09 L425.17,1789.29 L425.05,1789.48 L424.92,1789.66 L424.79,1789.81 L424.65,1789.96 L424.50,1790.08 L424.35,1790.19 L424.19,1790.29 L424.03,1790.36 L423.86,1790.42 L423.69,1790.46"/>
<ellipse cx="230.29" cy="1838.67" rx="110.02" ry="77.01" transform="rotate(60.52 230.29 1838.67)" fill="#fff"/>
<path d="M219.4,1739.2 C224.1,1740.9 238.6,1744.3 247.5,1749.4 C256.5,1754.5 265.0,1761.3 273.1,1769.9 C281.2,1778.4 289.9,1789.4 296.1,1800.5 C302.2,1811.6 307.1,1824.4 310.1,1836.3 C313.1,1848.2 314.2,1860.6 314.0,1872.1 C313.7,1883.6 312.3,1895.7 308.8,1905.3 C305.4,1914.9 300.3,1923.8 293.5,1929.5 C286.7,1935.3 272.2,1938.1 268.0,1939.8"/>
<path d="M211.8,1744.3 C216.4,1745.8 230.9,1748.6 239.9,1753.3 C248.8,1757.9 257.5,1764.1 265.4,1772.4 C273.3,1780.7 281.2,1792.0 287.1,1803.1 C293.1,1814.1 298.0,1826.9 301.2,1838.8 C304.4,1850.8 306.1,1863.5 306.3,1874.6 C306.5,1885.7 305.4,1896.5 302.5,1905.3 C299.5,1914.0 290.7,1923.4 288.4,1927.0"/>
<ellipse cx="219.48" cy="1847.47" rx="91.41" ry="52.11" transform="rotate(59.74 219.48 1847.47)"/>
<path d="M214.3,1928.3 C218.1,1929.1 230.1,1932.3 237.3,1933.4 C244.5,1934.4 254.3,1934.4 257.7,1934.7"/>
<path d="M176.0,1826.1 L211.8,1799.2"/>
<path d="M183.7,1864.4 L245.0,1821.0"/>
<path d="M174.7,1840.1 L214.3,1846.5"/>
<path d="M176.0,1843.2 L211.8,1849.6"/>
<path d="M213.0,1836.3 C215.0,1836.5 221.3,1835.7 224.5,1837.6 C227.7,1839.5 231.6,1844.2 232.2,1847.8 C232.8,1851.4 230.7,1857.2 228.4,1859.3 C226.0,1861.4 220.9,1862.1 218.1,1860.6 C215.4,1859.1 212.8,1852.0 211.8,1850.3"/>
<path d="M206.6,1850.3 L234.8,1840.1"/>
<path d="M214.3,1887.4 L250.1,1864.4"/>
<ellipse cx="190.04" cy="1879.72" rx="7.66" ry="9.96" transform="rotate(-30.0 190.04 1879.72)"/>
<ellipse cx="210.99" cy="1893.01" rx="7.66" ry="9.96" transform="rotate(-30.0 210.99 1893.01)"/>
<ellipse cx="232.20" cy="1906.55" rx="7.66" ry="9.96" transform="rotate(-30.0 232.20 1906.55)"/>
<ellipse cx="253.15" cy="1916.77" rx="7.66" ry="9.96" transform="rotate(-30.0 253.15 1916.77)"/>
<path d="M64.2,1829.6 C64.6,1826.4 64.4,1821.5 66.9,1818.5 C69.5,1815.5 74.1,1814.4 79.4,1811.6 C84.7,1808.8 93.5,1804.4 98.8,1801.9 C104.2,1799.4 107.9,1797.5 111.3,1796.4 C114.8,1795.2 117.3,1794.5 119.6,1795.0 C122.0,1795.4 124.0,1797.3 125.2,1799.1 C126.3,1801.0 127.0,1804.2 126.6,1806.1 C126.1,1807.9 124.0,1808.4 122.4,1810.2 C120.8,1812.1 118.7,1814.4 116.9,1817.2 C115.0,1819.9 117.3,1822.5 111.3,1826.9 C105.3,1831.3 87.5,1840.5 80.8,1843.5 C74.1,1846.5 73.9,1845.8 71.1,1844.9 C68.3,1844.0 65.3,1840.5 64.2,1838.0 C63.0,1835.4 63.7,1832.9 64.2,1829.6 Z" fill="#fff"/>
<path d="M98.8,1801.9 C100.2,1803.5 105.1,1807.4 107.2,1811.6 C109.2,1815.8 110.6,1824.3 111.3,1826.9"/>
<path d="M109.9,1800.5 L118.8,1797.7"/>
<path d="M112.7,1806.1 L124.4,1802.7"/>
<path d="M114.1,1811.6 L123.2,1808.8"/>
<path d="M72.5,1818.5 C71.8,1820.2 68.8,1825.0 68.3,1828.3 C67.9,1831.5 69.5,1836.3 69.7,1838.0"/>
<path d="M147.1,1812.0 C147.6,1808.5 147.6,1798.6 149.9,1791.0 C152.1,1783.5 156.8,1773.0 160.7,1766.7 C164.5,1760.4 170.8,1755.5 172.8,1753.2"/>
<path d="M152.6,1770.8 C154.1,1769.0 157.5,1762.3 162.0,1760.0 C166.5,1757.6 173.9,1756.6 179.6,1756.6 C185.2,1756.6 190.0,1758.1 195.8,1760.0 C201.5,1761.9 211.0,1766.7 214.0,1768.1"/>
<path d="M180.9,1749.8 C183.4,1749.5 190.8,1747.6 195.8,1747.8 C200.7,1748.0 205.8,1749.9 210.6,1751.2 C215.5,1752.4 222.5,1754.6 224.8,1755.2"/>
<!-- h11.txt -->
<path d="M1066.3,1211.2 C1067.6,1209.9 1072.0,1205.5 1074.5,1203.1 C1076.9,1200.6 1079.9,1197.6 1081.0,1196.5"/>
<path d="M1066.3,1215.2 C1068.4,1214.4 1075.2,1211.7 1079.1,1210.1 C1083.0,1208.4 1087.9,1206.2 1089.6,1205.4"/>
<path d="M1123.5,1172.7 C1125.8,1172.1 1133.3,1170.8 1137.5,1169.2 C1141.7,1167.6 1146.9,1164.3 1148.7,1163.4"/>
<path d="M1137.5,1182.0 C1138.7,1180.9 1142.7,1177.8 1144.5,1175.0 C1146.4,1172.3 1148.0,1167.3 1148.7,1165.7"/>
<path d="M1098.6,1190.0 L1099.0,1189.6 L1099.3,1189.0 L1099.3,1188.2 L1099.2,1187.3 L1099.0,1186.3 L1098.5,1185.3 L1098.0,1184.4 L1097.3,1183.5 L1096.6,1182.9 L1095.9,1182.5 L1095.3,1182.4 L1094.7,1182.5 L1074.9,1192.8 L1073.8,1193.5 L1072.9,1194.5 L1072.3,1195.5 L1071.9,1196.7 L1072.0,1197.8 L1072.3,1198.8 L1073.0,1199.7 L1073.9,1200.4 L1075.0,1200.8 L1076.2,1200.9 L1077.5,1200.7 L1078.7,1200.3 Z" fill="#fff"/>
<path d="M1109.1,1200.5 L1109.5,1200.1 L1109.8,1199.5 L1109.8,1198.7 L1109.7,1197.8 L1109.5,1196.8 L1109.0,1195.8 L1108.5,1194.9 L1107.8,1194.1 L1107.1,1193.4 L1106.4,1193.0 L1105.8,1192.9 L1105.2,1193.0 L1085.4,1203.3 L1084.3,1204.0 L1083.4,1205.0 L1082.8,1206.0 L1082.5,1207.2 L1082.5,1208.3 L1082.8,1209.4 L1083.5,1210.2 L1084.4,1210.9 L1085.5,1211.3 L1086.7,1211.4 L1088.0,1211.2 L1089.2,1210.8 Z" fill="#fff"/>
<path d="M1101.7,1177.4 L1101.2,1177.8 L1101.0,1178.4 L1100.9,1179.2 L1101.1,1180.1 L1101.4,1181.1 L1101.8,1182.1 L1102.4,1183.0 L1103.1,1183.8 L1103.8,1184.4 L1104.5,1184.8 L1105.1,1184.9 L1105.7,1184.8 L1125.5,1174.1 L1126.6,1173.3 L1127.5,1172.4 L1128.1,1171.3 L1128.4,1170.1 L1128.3,1169.0 L1128.0,1168.0 L1127.3,1167.1 L1126.4,1166.4 L1125.2,1166.1 L1124.0,1166.0 L1122.7,1166.2 L1121.5,1166.7 Z" fill="#fff"/>
<path d="M1105.19,1175.53 L1105.29,1175.48 L1105.39,1175.45 L1105.50,1175.42 L1105.62,1175.41 L1105.74,1175.40 L1105.86,1175.41 L1105.98,1175.42 L1106.11,1175.45 L1106.25,1175.49 L1106.38,1175.53 L1106.52,1175.59 L1106.66,1175.66 L1106.80,1175.74 L1106.94,1175.82 L1107.08,1175.92 L1107.22,1176.03 L1107.36,1176.14 L1107.50,1176.26 L1107.64,1176.39 L1107.78,1176.53 L1107.92,1176.68 L1108.05,1176.83 L1108.19,1176.99 L1108.32,1177.16 L1108.44,1177.33 L1108.57,1177.51 L1108.69,1177.69 L1108.80,1177.87 L1108.91,1178.06 L1109.02,1178.26 L1109.12,1178.45 L1109.21,1178.65 L1109.30,1178.85 L1109.39,1179.05 L1109.47,1179.25 L1109.54,1179.45 L1109.60,1179.65 L1109.66,1179.85 L1109.71,1180.05 L1109.76,1180.24 L1109.79,1180.44 L1109.82,1180.63 L1109.85,1180.81 L1109.86,1180.99 L1109.87,1181.17 L1109.87,1181.34 L1109.86,1181.51 L1109.85,1181.67 L1109.83,1181.82 L1109.80,1181.96 L1109.76,1182.10 L1109.72,1182.23 L1109.67,1182.36 L1109.61,1182.47 L1109.55,1182.57 L1109.48,1182.67 L1109.40,1182.76 L1109.32,1182.83 L1109.23,1182.90 L1109.14,1182.96"/>
<path d="M1113.4,1188.1 L1113.0,1188.5 L1112.7,1189.1 L1112.6,1189.9 L1112.7,1190.8 L1113.0,1191.8 L1113.5,1192.8 L1114.0,1193.8 L1114.7,1194.6 L1115.4,1195.2 L1116.1,1195.6 L1116.7,1195.7 L1117.3,1195.6 L1139.5,1183.9 L1140.6,1183.2 L1141.5,1182.2 L1142.1,1181.1 L1142.4,1180.0 L1142.3,1178.9 L1142.0,1177.8 L1141.3,1176.9 L1140.4,1176.3 L1139.3,1175.9 L1138.1,1175.8 L1136.8,1176.0 L1135.6,1176.5 Z" fill="#fff"/>
<path d="M1116.87,1186.28 L1116.97,1186.23 L1117.07,1186.19 L1117.18,1186.17 L1117.30,1186.15 L1117.42,1186.15 L1117.54,1186.15 L1117.66,1186.17 L1117.79,1186.20 L1117.93,1186.23 L1118.06,1186.28 L1118.20,1186.34 L1118.34,1186.40 L1118.48,1186.48 L1118.62,1186.57 L1118.76,1186.67 L1118.90,1186.77 L1119.04,1186.88 L1119.18,1187.01 L1119.32,1187.14 L1119.46,1187.28 L1119.60,1187.42 L1119.73,1187.58 L1119.87,1187.74 L1120.00,1187.90 L1120.12,1188.07 L1120.25,1188.25 L1120.37,1188.43 L1120.48,1188.62 L1120.59,1188.81 L1120.70,1189.00 L1120.80,1189.20 L1120.89,1189.39 L1120.98,1189.59 L1121.07,1189.79 L1121.15,1190.00 L1121.22,1190.20 L1121.28,1190.40 L1121.34,1190.60 L1121.39,1190.79 L1121.44,1190.99 L1121.47,1191.18 L1121.50,1191.37 L1121.53,1191.56 L1121.54,1191.74 L1121.55,1191.92 L1121.55,1192.09 L1121.54,1192.25 L1121.53,1192.41 L1121.51,1192.56 L1121.48,1192.71 L1121.44,1192.85 L1121.40,1192.98 L1121.35,1193.10 L1121.29,1193.21 L1121.23,1193.32 L1121.16,1193.41 L1121.08,1193.50 L1121.00,1193.58 L1120.91,1193.64 L1120.82,1193.70"/>
<path d="M1190.5,1156.3 L1191.3,1155.7 L1191.8,1154.7 L1192.1,1153.3 L1192.1,1151.7 L1191.8,1149.8 L1191.2,1148.0 L1190.4,1146.2 L1189.4,1144.7 L1188.3,1143.5 L1187.1,1142.6 L1186.0,1142.3 L1185.0,1142.4 L1146.0,1157.6 L1145.2,1158.1 L1144.7,1159.2 L1144.4,1160.6 L1144.4,1162.2 L1144.7,1164.0 L1145.3,1165.9 L1146.1,1167.6 L1147.1,1169.2 L1148.2,1170.4 L1149.3,1171.2 L1150.5,1171.6 L1151.5,1171.5 Z" fill="#fff"/>
<path d="M1151.5,1171.5 L1152.3,1170.9 L1152.8,1169.9 L1153.1,1168.5 L1153.1,1166.8 L1152.8,1165.0 L1152.2,1163.2 L1151.4,1161.4 L1150.4,1159.9 L1149.3,1158.6 L1148.1,1157.8 L1147.0,1157.4 L1146.0,1157.6 L1145.2,1158.1 L1144.7,1159.2 L1144.4,1160.6 L1144.4,1162.2 L1144.7,1164.0 L1145.3,1165.9 L1146.1,1167.6 L1147.1,1169.2 L1148.2,1170.4 L1149.3,1171.2 L1150.5,1171.6 Z"/>
<path d="M1181.9,1142.3 C1183.1,1143.1 1188.1,1145.5 1188.9,1147.0 C1189.7,1148.6 1186.4,1149.9 1186.6,1151.7 C1186.8,1153.4 1189.5,1156.5 1190.1,1157.5"/>
<path d="M957.4,1272.5 C964.3,1269.8 985.2,1261.4 998.3,1255.9 C1011.4,1250.3 1024.1,1244.6 1035.9,1239.1 C1047.8,1233.7 1063.8,1225.9 1069.3,1223.3 L1063.2,1210.5 C1057.7,1213.1 1041.8,1220.9 1030.0,1226.3 C1018.3,1231.7 1005.8,1237.3 992.8,1242.8 C979.8,1248.4 958.9,1256.7 952.1,1259.4 Z" fill="#fff" stroke="none"/>
<path d="M957.4,1272.5 C964.3,1269.8 985.2,1261.4 998.3,1255.9 C1011.4,1250.3 1024.1,1244.6 1035.9,1239.1 C1047.8,1233.7 1063.8,1225.9 1069.3,1223.3"/>
<path d="M952.1,1259.4 C958.9,1256.7 979.8,1248.4 992.8,1242.8 C1005.8,1237.3 1018.3,1231.7 1030.0,1226.3 C1041.8,1220.9 1057.7,1213.1 1063.2,1210.5"/>
<path d="M1063.29,1210.48 L1063.48,1210.40 L1063.67,1210.34 L1063.88,1210.30 L1064.09,1210.28 L1064.30,1210.27 L1064.52,1210.29 L1064.75,1210.32 L1064.98,1210.37 L1065.22,1210.43 L1065.45,1210.52 L1065.69,1210.62 L1065.93,1210.74 L1066.17,1210.88 L1066.42,1211.03 L1066.66,1211.20 L1066.90,1211.38 L1067.14,1211.58 L1067.37,1211.79 L1067.61,1212.02 L1067.84,1212.26 L1068.06,1212.52 L1068.28,1212.78 L1068.50,1213.06 L1068.71,1213.35 L1068.91,1213.64 L1069.11,1213.95 L1069.29,1214.27 L1069.47,1214.59 L1069.64,1214.91 L1069.80,1215.25 L1069.96,1215.59 L1070.10,1215.93 L1070.23,1216.27 L1070.35,1216.62 L1070.46,1216.96 L1070.56,1217.31 L1070.64,1217.65 L1070.72,1218.00 L1070.78,1218.34 L1070.83,1218.67 L1070.86,1219.00 L1070.89,1219.33 L1070.90,1219.65 L1070.90,1219.96 L1070.89,1220.26 L1070.86,1220.56 L1070.82,1220.84 L1070.77,1221.11 L1070.71,1221.37 L1070.63,1221.62 L1070.54,1221.86 L1070.44,1222.08 L1070.33,1222.29 L1070.21,1222.48 L1070.08,1222.66 L1069.94,1222.82 L1069.78,1222.97 L1069.62,1223.10 L1069.45,1223.21 L1069.27,1223.30"/>
<ellipse cx="954.77" cy="1265.99" rx="7.07" ry="3.89" transform="rotate(65.0 954.77 1265.99)"/>
<path d="M954.8,1266.0 C951.2,1267.7 940.8,1273.3 933.1,1276.4 C925.5,1279.5 913.0,1283.3 909.0,1284.7"/>
<path d="M954.8,1268.1 C952.2,1271.0 944.9,1281.5 939.4,1286.0 C933.8,1290.5 924.5,1293.6 921.5,1295.1"/>
<path d="M926.5,1282.3 L926.9,1282.0 L927.2,1281.4 L927.3,1280.6 L927.3,1279.7 L927.1,1278.7 L926.7,1277.6 L926.2,1276.7 L925.7,1275.8 L925.0,1275.2 L924.4,1274.7 L923.7,1274.6 L923.2,1274.6 L905.7,1282.1 L904.6,1282.8 L903.6,1283.6 L902.9,1284.6 L902.5,1285.7 L902.5,1286.9 L902.8,1287.9 L903.3,1288.8 L904.2,1289.6 L905.3,1290.1 L906.5,1290.3 L907.7,1290.2 L909.0,1289.8 Z" fill="#fff"/>
<path d="M938.9,1292.7 L939.4,1292.4 L939.7,1291.8 L939.8,1291.0 L939.8,1290.1 L939.6,1289.1 L939.2,1288.1 L938.7,1287.1 L938.1,1286.2 L937.5,1285.6 L936.8,1285.1 L936.2,1285.0 L935.7,1285.0 L918.2,1292.5 L917.1,1293.2 L916.1,1294.0 L915.4,1295.0 L915.0,1296.2 L915.0,1297.3 L915.2,1298.3 L915.8,1299.2 L916.7,1300.0 L917.7,1300.5 L919.0,1300.7 L920.2,1300.6 L921.5,1300.2 Z" fill="#fff"/>
<path d="M1207.0,1156.0 C1211.0,1155.3 1222.4,1154.2 1230.7,1151.7 C1239.1,1149.1 1252.8,1142.4 1257.2,1140.6 L1251.4,1126.8 C1247.3,1128.5 1234.2,1134.9 1226.3,1137.3 C1218.5,1139.8 1208.0,1140.6 1204.3,1141.3 Z" fill="#fff" stroke="none"/>
<path d="M1207.0,1156.0 C1211.0,1155.3 1222.4,1154.2 1230.7,1151.7 C1239.1,1149.1 1252.8,1142.4 1257.2,1140.6"/>
<path d="M1204.3,1141.3 C1208.0,1140.6 1218.5,1139.8 1226.3,1137.3 C1234.2,1134.9 1247.3,1128.5 1251.4,1126.8"/>
<path d="M1199.4,1141.2 C1200.5,1142.4 1205.3,1146.2 1205.7,1148.7 C1206.0,1151.1 1201.5,1154.2 1201.5,1155.7 C1201.5,1157.3 1205.0,1157.5 1205.7,1157.8"/>
<path d="M1251.17,1126.89 L1251.37,1126.81 L1251.58,1126.75 L1251.80,1126.70 L1252.02,1126.68 L1252.25,1126.67 L1252.48,1126.69 L1252.72,1126.72 L1252.96,1126.77 L1253.21,1126.84 L1253.46,1126.93 L1253.72,1127.04 L1253.97,1127.17 L1254.23,1127.31 L1254.48,1127.47 L1254.74,1127.65 L1254.99,1127.84 L1255.25,1128.06 L1255.50,1128.28 L1255.74,1128.52 L1255.99,1128.78 L1256.23,1129.05 L1256.46,1129.33 L1256.69,1129.62 L1256.91,1129.93 L1257.12,1130.24 L1257.33,1130.57 L1257.53,1130.90 L1257.72,1131.24 L1257.90,1131.59 L1258.07,1131.94 L1258.23,1132.30 L1258.38,1132.66 L1258.52,1133.02 L1258.65,1133.39 L1258.76,1133.76 L1258.87,1134.12 L1258.96,1134.49 L1259.04,1134.85 L1259.10,1135.21 L1259.15,1135.57 L1259.19,1135.92 L1259.22,1136.26 L1259.23,1136.60 L1259.23,1136.93 L1259.22,1137.25 L1259.19,1137.56 L1259.15,1137.86 L1259.09,1138.15 L1259.03,1138.42 L1258.94,1138.69 L1258.85,1138.94 L1258.75,1139.17 L1258.63,1139.39 L1258.50,1139.60 L1258.36,1139.79 L1258.21,1139.96 L1258.05,1140.11 L1257.88,1140.25 L1257.69,1140.37 L1257.50,1140.47"/>
<path d="M1257.7,1128.7 C1259.7,1126.6 1266.7,1120.0 1270.1,1116.2 C1273.6,1112.4 1277.1,1107.5 1278.5,1105.8"/>
<path d="M1257.7,1134.9 C1261.1,1133.2 1272.6,1127.6 1278.5,1124.5 C1284.4,1121.4 1290.6,1117.6 1293.0,1116.2"/>
<path d="M1276.4,1105.8 C1275.7,1103.5 1276.4,1098.3 1278.5,1096.2 C1280.5,1094.2 1285.7,1092.8 1288.9,1093.3 C1292.0,1093.9 1296.5,1097.1 1297.2,1099.6 C1297.9,1102.0 1295.5,1106.2 1293.0,1107.9 C1290.6,1109.6 1285.4,1110.3 1282.6,1110.0 C1279.9,1109.6 1277.1,1108.1 1276.4,1105.8 Z" fill="#fff"/>
<ellipse cx="1287.62" cy="1101.23" rx="3.33" ry="2.66" transform="rotate(0.0 1287.62 1101.23)"/>
<path d="M1293.0,1116.2 C1292.8,1113.8 1295.1,1108.8 1297.2,1107.1 C1299.3,1105.3 1303.2,1105.0 1305.5,1105.8 C1307.8,1106.6 1310.6,1109.8 1310.9,1112.0 C1311.3,1114.3 1309.7,1118.0 1307.6,1119.5 C1305.5,1121.1 1300.9,1121.8 1298.4,1121.2 C1296.0,1120.6 1293.2,1118.6 1293.0,1116.2 Z" fill="#fff"/>
<ellipse cx="1303.43" cy="1112.88" rx="2.91" ry="2.33" transform="rotate(0.0 1303.43 1112.88)"/>
<!-- h25.txt -->
<path d="M1060.6,248.0 C1066.3,247.9 1083.0,247.0 1094.6,247.3 C1106.2,247.6 1118.4,248.7 1130.4,249.8 C1142.3,250.9 1152.1,253.7 1166.1,254.1 C1180.1,254.5 1206.4,252.6 1214.4,252.3"/>
<path d="M1060.6,255.2 C1069.3,255.2 1097.3,254.3 1112.5,255.2 C1127.7,256.1 1134.8,259.8 1151.8,260.5 C1168.8,261.3 1204.0,259.6 1214.4,259.5"/>
<path d="M1064.2,264.1 C1072.2,263.9 1096.7,262.3 1112.5,263.0 C1128.3,263.8 1140.4,267.8 1159.0,268.8 C1177.6,269.7 1213.2,268.8 1224.1,268.8"/>
<path d="M1066.0,271.3 C1074.3,271.3 1099.4,270.5 1116.1,271.3 C1132.7,272.0 1148.1,275.1 1166.1,275.9 C1184.1,276.7 1214.4,275.9 1224.1,275.9"/>
<path d="M1069.6,280.2 C1078.5,279.7 1105.9,277.2 1123.2,277.4 C1140.5,277.5 1156.3,280.0 1173.3,280.9 C1190.3,281.9 1216.5,282.7 1225.1,283.1"/>
<path d="M1210.8,245.2 C1212.0,246.2 1217.4,249.0 1218.0,251.6 C1218.6,254.2 1215.0,259.1 1214.4,260.5"/>
<path d="M1221.6,263.0 C1222.6,264.7 1227.3,269.3 1227.6,273.1 C1227.9,276.8 1224.1,283.5 1223.3,285.6"/>
<path d="M1002.2,503.7 C1010.8,498.6 1036.4,483.8 1054.1,473.3 C1071.8,462.8 1093.0,451.5 1108.3,440.7 C1123.5,430.0 1139.5,414.1 1145.7,408.8"/>
<path d="M993.9,489.5 C1002.5,484.4 1028.2,469.5 1045.7,459.1 C1063.2,448.7 1083.9,437.8 1098.8,427.3 C1113.7,416.8 1129.0,401.4 1135.0,396.3"/>
<path d="M1150.2,402.0 C1160.3,394.7 1187.9,375.6 1210.5,358.3 C1233.1,340.9 1273.2,308.1 1285.7,298.1"/>
<path d="M1140.5,388.7 C1150.5,381.5 1178.0,362.5 1200.5,345.2 C1222.9,328.0 1262.9,295.2 1275.4,285.2"/>
<path d="M1133.6,397.5 C1134.4,396.9 1137.9,395.1 1138.2,393.9 C1138.6,392.8 1135.5,391.2 1135.7,390.4 C1136.0,389.5 1139.0,389.2 1139.7,388.9"/>
<path d="M1147.2,401.8 C1146.9,402.7 1145.1,406.7 1145.4,407.2 C1145.7,407.7 1147.8,404.4 1149.0,404.7 C1150.1,405.0 1151.9,408.3 1152.5,409.0"/>
<path d="M947.0,500.1 C949.5,499.2 956.8,494.8 961.6,494.6 C966.5,494.5 973.1,498.7 976.2,499.2 C979.4,499.7 979.7,497.7 980.3,497.4"/>
<path d="M953.4,504.7 C955.7,504.1 962.9,501.9 967.1,501.0 C971.4,500.2 977.0,499.9 979.0,499.7"/>
<path d="M963.5,513.8 C965.0,512.9 969.3,510.9 972.6,508.3 C975.9,505.7 981.3,500.0 983.1,498.3"/>
<path d="M964.4,522.9 C966.1,521.6 971.1,518.4 974.4,514.7 C977.8,511.1 982.8,503.3 984.5,501.0"/>
<path d="M964.4,530.2 C966.1,529.2 970.8,526.9 974.4,523.8 C978.1,520.8 984.3,513.9 986.3,512.0"/>
<path d="M979.0,496.5 C979.6,493.6 983.1,492.0 985.4,489.6 C987.6,487.2 990.4,483.4 992.7,481.9 C994.9,480.3 996.2,481.1 999.1,480.5 C1001.9,479.9 1008.2,474.0 1010.0,478.2 C1011.8,482.4 1011.4,500.4 1010.0,505.6 C1008.6,510.8 1004.4,508.0 1001.8,509.2 C999.2,510.5 996.9,512.1 994.5,512.9 C992.1,513.6 989.3,514.9 987.2,513.8 C985.1,512.7 983.1,509.4 981.7,506.5 C980.3,503.6 978.4,499.3 979.0,496.5 Z" fill="#fff"/>
<path d="M980.8,495.5 C981.7,495.3 984.8,493.6 986.3,494.2 C987.8,494.8 988.9,497.1 989.9,499.2 C990.9,501.2 992.1,504.2 992.2,506.5 C992.4,508.8 991.1,511.8 990.8,512.9"/>
<path d="M994.5,487.3 C995.4,488.2 998.6,490.2 1000.0,492.8 C1001.3,495.4 1002.2,501.2 1002.7,502.8"/>
<path d="M900.1,515.6 L934.3,496.5 L937.9,496.9 L960.7,510.1 L963.0,513.8 L963.5,535.7 L961.6,539.3 L928.8,558.0 L925.1,557.6 L901.4,543.9 L899.1,539.3 L898.7,521.1 Z" fill="#fff"/>
<path d="M900.1,516.5 L926.1,531.1 L927.9,557.6"/>
<path d="M903.2,519.7 L924.2,532.0 L925.6,553.5 L908.7,544.4 Z"/>
<path d="M906.9,515.6 L934.3,500.1 L948.0,507.9 L948.0,510.6 L923.3,524.7 L922.0,527.0"/>
<path d="M923.3,522.9 L945.7,510.1"/>
<path d="M924.2,524.7 L946.1,512.0"/>
<path d="M930.6,529.8 L958.9,513.8"/>
<path d="M935.2,540.3 L951.6,532.0 L952.5,541.2"/>
<path d="M930.6,537.5 L935.2,540.3 L935.6,550.3"/>
<path d="M1273.2,283.9 C1271.9,281.9 1273.8,280.5 1276.1,279.0 C1278.3,277.6 1283.8,276.4 1286.5,275.0 C1289.2,273.7 1290.1,271.9 1292.1,271.0 C1294.1,270.1 1296.5,269.7 1298.5,269.8 C1300.5,269.9 1302.6,270.4 1304.2,271.8 C1305.8,273.2 1307.3,276.1 1308.2,278.2 C1309.0,280.4 1309.8,282.5 1309.4,284.7 C1309.0,286.8 1307.6,289.4 1305.8,291.1 C1304.0,292.8 1301.1,293.9 1298.5,295.1 C1296.0,296.3 1292.9,299.0 1290.5,298.3 C1288.1,297.6 1287.0,293.5 1284.1,291.1 C1281.2,288.7 1274.6,285.9 1273.2,283.9 Z" fill="#fff"/>
<path d="M1276.1,282.3 C1277.4,282.8 1281.9,283.7 1284.1,285.5 C1286.2,287.2 1287.8,290.4 1288.9,292.7 C1290.0,295.0 1290.2,298.1 1290.5,299.1"/>
<path d="M1292.1,280.7 C1292.8,281.2 1294.9,282.1 1296.1,283.9 C1297.3,285.6 1298.8,289.9 1299.3,291.1"/>
<path d="M1297.7,268.6 C1298.9,267.1 1302.6,262.6 1305.0,259.8 C1307.4,257.0 1311.0,253.1 1312.2,251.8"/>
<path d="M1305.0,269.4 C1306.0,268.1 1308.6,263.5 1311.4,261.4 C1314.2,259.2 1320.1,257.4 1321.8,256.6"/>
<path d="M1307.4,275.8 C1308.8,274.8 1312.6,271.3 1316.2,269.4 C1319.8,267.5 1326.9,265.4 1329.0,264.6"/>
<path d="M1308.2,279.0 C1309.8,277.8 1314.3,273.4 1317.8,271.8 C1321.3,270.2 1327.2,269.8 1329.0,269.4"/>
<path d="M1309.8,283.1 C1311.4,282.0 1316.2,277.8 1319.4,276.6 C1322.6,275.4 1327.4,276.0 1329.0,275.8"/>
<path d="M1311.4,284.7 C1313.0,283.9 1317.9,280.9 1321.0,279.9 C1324.1,278.8 1328.4,278.5 1329.9,278.2"/>
<path d="M1306.6,246.1 L1309.8,242.9 L1340.3,226.5 L1345.1,226.5 L1349.1,228.5 L1353.1,228.1 L1358.8,230.9 L1360.4,233.7 L1367.6,238.9 L1369.2,243.7 L1369.2,263.0 L1366.0,267.8 L1335.5,284.7 L1332.3,285.1 L1322.6,279.0 L1330.7,277.4 L1329.9,259.8 L1311.4,250.5 L1306.6,258.2 Z" fill="#fff"/>
<path d="M1311.4,250.9 L1329.9,259.8 L1331.1,279.0"/>
<path d="M1325.8,245.3 C1326.1,244.7 1323.8,244.3 1327.4,241.7 C1331.1,239.2 1344.2,232.0 1347.5,230.1"/>
<path d="M1326.6,245.3 L1331.5,248.5"/>
<path d="M1334.7,244.5 L1356.3,232.9"/>
<path d="M1334.3,248.5 L1357.1,235.7"/>
<path d="M1314.6,246.9 L1329.9,255.8"/>
<path d="M1338.3,257.4 L1365.2,242.1"/>
<path d="M1335.5,267.4 L1335.9,284.7"/>
<path d="M1187.7,166.7 L1189.7,165.0 L1191.1,162.7 L1191.9,159.8 L1191.9,156.7 L1191.2,153.4 L1189.8,150.3 L1187.8,147.5 L1185.4,145.2 L1182.6,143.6 L1179.8,142.8 L1177.1,142.8 L1174.6,143.7 L1143.5,161.4 L1142.3,162.6 L1141.5,164.5 L1141.4,167.0 L1141.8,169.9 L1142.8,173.0 L1144.3,176.1 L1146.2,179.0 L1148.4,181.4 L1150.6,183.3 L1152.9,184.4 L1154.9,184.8 L1156.6,184.3 Z" fill="#fff"/>
<path d="M1140.7,167.2 C1140.9,166.5 1141.1,163.8 1142.1,162.8 C1143.1,161.9 1145.2,161.3 1146.5,161.4 C1147.8,161.5 1149.5,163.2 1150.1,163.6"/>
<path d="M1134.1,172.0 L1142.8,167.2 L1148.0,168.0 L1150.9,169.8 L1156.7,173.8 L1156.7,181.1 L1153.8,184.0 L1148.0,185.5 L1145.0,184.0 L1136.3,181.1 Z" fill="#fff"/>
<path d="M1134.8,172.3 L1134.8,174.5 L1143.6,169.8"/>
<path d="M1144.3,176.7 L1150.9,173.1 L1156.7,173.8"/>
<path d="M1144.3,176.7 L1145.8,184.7"/>
<path d="M1150.9,173.1 L1151.6,176.7 L1156.7,173.8"/>
<path d="M1147.3,180.1 L1147.7,179.6 L1148.0,179.0 L1148.0,178.1 L1147.9,177.1 L1147.5,176.1 L1147.0,175.0 L1146.4,174.0 L1145.6,173.2 L1144.9,172.6 L1144.1,172.2 L1143.4,172.0 L1142.8,172.2 L1134.0,177.2 L1133.0,177.9 L1132.2,178.9 L1131.6,180.0 L1131.4,181.3 L1131.5,182.4 L1131.9,183.5 L1132.7,184.5 L1133.6,185.2 L1134.8,185.6 L1136.0,185.7 L1137.3,185.5 L1138.5,185.0 Z" fill="#fff"/>
<!-- p22.txt -->
<path d="M1225.5,1864.3 L1246.4,1863.5 L1276.1,1874.7 L1272.0,1884.4 L1207.8,1993.6 L1207.0,2004.8 L1192.6,2012.9 L1191.0,2019.3 L1182.1,2022.5 L1172.5,2020.9 L1168.5,2016.1 L1169.3,2009.6 Z" fill="#fff"/>
<path d="M1169.3,2009.6 C1169.1,2010.7 1167.9,2014.2 1168.5,2016.1 C1169.0,2017.9 1170.2,2019.8 1172.5,2020.9 C1174.8,2022.0 1179.0,2023.1 1182.1,2022.8 C1185.2,2022.5 1189.2,2021.1 1191.0,2019.3 C1192.7,2017.5 1192.3,2013.3 1192.6,2012.1"/>
<path d="M1242.3,1871.5 L1193.4,2012.1"/>
<path d="M1256.0,1890.8 L1235.1,1929.3"/>
<path d="M1237.5,1890.8 C1238.7,1889.7 1241.4,1886.0 1244.7,1884.4 C1248.1,1882.8 1255.5,1881.7 1257.6,1881.2"/>
<path d="M1236.7,1810.5 C1236.7,1806.5 1233.0,1802.8 1233.5,1799.3 C1234.0,1795.8 1237.3,1791.8 1239.9,1789.6 C1242.6,1787.4 1244.2,1786.7 1249.6,1786.1 C1254.9,1785.5 1264.6,1784.0 1272.0,1786.1 C1279.5,1788.2 1287.3,1794.4 1294.5,1798.5 C1301.8,1802.5 1309.3,1805.6 1315.4,1810.5 C1321.6,1815.5 1326.5,1822.3 1331.5,1828.2 C1336.4,1834.1 1342.4,1841.3 1345.1,1845.8 C1347.8,1850.4 1347.7,1852.5 1347.5,1855.5 C1347.4,1858.4 1346.5,1861.6 1344.3,1863.5 C1342.2,1865.4 1340.3,1866.6 1334.7,1866.7 C1329.1,1866.9 1318.1,1862.8 1310.6,1864.3 C1303.1,1865.9 1295.1,1874.6 1289.7,1876.0 C1284.4,1877.5 1282.0,1874.7 1278.5,1873.1 C1275.0,1871.6 1271.0,1868.9 1268.8,1866.7 C1266.7,1864.6 1268.0,1862.2 1265.6,1860.3 C1263.2,1858.4 1258.7,1856.3 1254.4,1855.5 C1250.1,1854.7 1244.7,1857.6 1239.9,1855.5 C1235.1,1853.3 1227.9,1846.1 1225.5,1842.6 C1223.1,1839.2 1224.1,1837.8 1225.5,1834.6 C1226.8,1831.4 1231.6,1827.4 1233.5,1823.4 C1235.4,1819.3 1236.7,1814.5 1236.7,1810.5 Z" fill="#fff"/>
<path d="M1235.1,1794.5 C1236.5,1793.5 1240.7,1789.6 1243.1,1788.8 C1245.6,1788.0 1247.8,1788.6 1249.6,1789.6 C1251.3,1790.7 1252.9,1794.3 1253.6,1795.3"/>
<ellipse cx="1242.82" cy="1801.68" rx="5.14" ry="6.17" transform="rotate(-30.0 1242.82 1801.68)" fill="#fff"/>
<path d="M1248.0,1797.7 L1268.8,1789.6"/>
<path d="M1246.4,1804.1 L1283.3,1825.8"/>
<path d="M1249.6,1807.3 L1286.5,1827.4 L1288.1,1831.4"/>
<path d="M1292.9,1826.6 L1310.6,1816.9"/>
<path d="M1311.4,1814.5 L1311.4,1864.3"/>
<path d="M1322.6,1827.4 L1339.5,1847.4"/>
<ellipse cx="1328.26" cy="1852.27" rx="9.64" ry="13.01" transform="rotate(-25.0 1328.26 1852.27)" fill="#fff"/>
<ellipse cx="1326.65" cy="1853.55" rx="5.62" ry="7.31" transform="rotate(-25.0 1326.65 1853.55)"/>
<path d="M1239.9,1817.7 L1257.6,1826.6 L1252.8,1872.3 L1272.0,1882.8 L1276.9,1873.1 L1283.3,1831.4 L1267.2,1832.2 L1259.2,1857.1 L1246.4,1853.1 Z"/>
<path d="M1236.7,1820.1 L1227.1,1863.5"/>
<ellipse cx="1280.88" cy="1860.30" rx="6.10" ry="6.71" transform="rotate(-20.0 1280.88 1860.30)" fill="#fff"/>
<ellipse cx="1244.75" cy="1839.42" rx="3.53" ry="4.95" transform="rotate(-15.0 1244.75 1839.42)"/>
<path d="M1243.6,1853.9 L1243.5,1853.4 L1243.1,1852.9 L1242.5,1852.4 L1241.6,1851.9 L1240.6,1851.6 L1239.4,1851.3 L1238.3,1851.2 L1237.2,1851.1 L1236.2,1851.3 L1235.4,1851.5 L1234.9,1851.9 L1234.7,1852.3 L1232.3,1865.9 L1232.4,1866.4 L1232.7,1866.9 L1233.4,1867.4 L1234.2,1867.9 L1235.3,1868.2 L1236.4,1868.5 L1237.6,1868.6 L1238.7,1868.6 L1239.6,1868.5 L1240.4,1868.3 L1240.9,1867.9 L1241.1,1867.5 Z" fill="#fff"/>
<path d="M1233.09,1864.29 L1233.08,1864.19 L1233.09,1864.10 L1233.10,1864.00 L1233.13,1863.90 L1233.16,1863.80 L1233.21,1863.70 L1233.28,1863.60 L1233.35,1863.50 L1233.43,1863.40 L1233.53,1863.30 L1233.64,1863.20 L1233.76,1863.10 L1233.88,1863.00 L1234.02,1862.90 L1234.17,1862.81 L1234.33,1862.71 L1234.49,1862.62 L1234.67,1862.53 L1234.85,1862.45 L1235.04,1862.36 L1235.23,1862.28 L1235.44,1862.21 L1235.64,1862.13 L1235.86,1862.06 L1236.07,1862.00 L1236.30,1861.94 L1236.52,1861.88 L1236.75,1861.83 L1236.98,1861.78 L1237.21,1861.74 L1237.44,1861.70 L1237.67,1861.66 L1237.91,1861.64 L1238.14,1861.61 L1238.37,1861.59 L1238.59,1861.58 L1238.82,1861.57 L1239.04,1861.57 L1239.25,1861.57 L1239.47,1861.58 L1239.67,1861.60 L1239.87,1861.62 L1240.07,1861.64 L1240.25,1861.67 L1240.43,1861.70 L1240.60,1861.74 L1240.77,1861.79 L1240.92,1861.83 L1241.07,1861.89 L1241.20,1861.95 L1241.33,1862.01 L1241.44,1862.07 L1241.54,1862.14 L1241.64,1862.22 L1241.72,1862.29 L1241.79,1862.38 L1241.85,1862.46 L1241.89,1862.55 L1241.93,1862.63 L1241.95,1862.73"/>
<path d="M1233.42,1861.08 L1233.40,1860.98 L1233.41,1860.89 L1233.42,1860.79 L1233.45,1860.69 L1233.49,1860.59 L1233.54,1860.49 L1233.60,1860.39 L1233.67,1860.29 L1233.76,1860.19 L1233.85,1860.09 L1233.96,1859.99 L1234.08,1859.89 L1234.21,1859.79 L1234.34,1859.69 L1234.49,1859.60 L1234.65,1859.50 L1234.81,1859.41 L1234.99,1859.32 L1235.17,1859.24 L1235.36,1859.15 L1235.55,1859.07 L1235.76,1858.99 L1235.96,1858.92 L1236.18,1858.85 L1236.40,1858.79 L1236.62,1858.73 L1236.84,1858.67 L1237.07,1858.62 L1237.30,1858.57 L1237.53,1858.52 L1237.76,1858.49 L1238.00,1858.45 L1238.23,1858.42 L1238.46,1858.40 L1238.69,1858.38 L1238.91,1858.37 L1239.14,1858.36 L1239.36,1858.36 L1239.58,1858.36 L1239.79,1858.37 L1239.99,1858.38 L1240.19,1858.40 L1240.39,1858.43 L1240.57,1858.46 L1240.75,1858.49 L1240.93,1858.53 L1241.09,1858.57 L1241.24,1858.62 L1241.39,1858.68 L1241.52,1858.73 L1241.65,1858.80 L1241.76,1858.86 L1241.87,1858.93 L1241.96,1859.01 L1242.04,1859.08 L1242.11,1859.16 L1242.17,1859.25 L1242.21,1859.33 L1242.25,1859.42 L1242.27,1859.51"/>
<path d="M1233.90,1857.86 L1233.89,1857.77 L1233.89,1857.68 L1233.90,1857.58 L1233.93,1857.48 L1233.97,1857.38 L1234.02,1857.28 L1234.08,1857.18 L1234.15,1857.08 L1234.24,1856.98 L1234.33,1856.87 L1234.44,1856.77 L1234.56,1856.67 L1234.69,1856.58 L1234.83,1856.48 L1234.97,1856.38 L1235.13,1856.29 L1235.30,1856.20 L1235.47,1856.11 L1235.65,1856.02 L1235.84,1855.94 L1236.04,1855.86 L1236.24,1855.78 L1236.45,1855.71 L1236.66,1855.64 L1236.88,1855.57 L1237.10,1855.51 L1237.32,1855.46 L1237.55,1855.40 L1237.78,1855.36 L1238.01,1855.31 L1238.24,1855.27 L1238.48,1855.24 L1238.71,1855.21 L1238.94,1855.19 L1239.17,1855.17 L1239.40,1855.16 L1239.62,1855.15 L1239.84,1855.15 L1240.06,1855.15 L1240.27,1855.16 L1240.47,1855.17 L1240.68,1855.19 L1240.87,1855.22 L1241.06,1855.24 L1241.24,1855.28 L1241.41,1855.32 L1241.57,1855.36 L1241.72,1855.41 L1241.87,1855.46 L1242.00,1855.52 L1242.13,1855.58 L1242.24,1855.65 L1242.35,1855.72 L1242.44,1855.79 L1242.52,1855.87 L1242.59,1855.95 L1242.65,1856.04 L1242.70,1856.12 L1242.73,1856.21 L1242.75,1856.30"/>
<path d="M1223.9,1863.5 C1224.7,1864.6 1226.0,1868.3 1228.7,1869.9 C1231.4,1871.5 1237.3,1873.1 1239.9,1873.1 C1242.6,1873.1 1243.9,1870.5 1244.7,1869.9"/>
<!-- p23.txt -->
<path d="M883.2,1919.8 L916.0,1869.9 L1064.4,1859.4 L1065.8,1876.5 L1052.6,1883.1 L1043.4,1883.1 L1036.9,1885.7 L1038.2,1887.8 L883.2,1920.4 Z" fill="#fff"/>
<path d="M1038.2,1876.5 L1036.9,1885.7"/>
<path d="M1052.6,1883.1 L1052.6,1872.5 L1064.4,1868.6"/>
<path d="M1038.2,1876.5 L1052.6,1872.5"/>
<path d="M930.4,1902.8 L1015.8,1884.4"/>
<path d="M798.9,1865.9 L914.5,1841.6 L925.0,1845.5 L934.2,1857.3 L937.5,1873.1 L881.7,1927.0 L839.6,1974.3 Z" fill="#fff" stroke="none"/>
<path d="M914.5,1841.6 C916.3,1842.2 921.8,1842.9 925.0,1845.5 C928.3,1848.1 932.2,1852.7 934.2,1857.3 C936.3,1861.9 937.0,1870.5 937.5,1873.1"/>
<path d="M798.9,1865.9 L914.5,1841.6"/>
<path d="M880.4,1905.9 L915.8,1869.8 L920.4,1874.4 L950.0,1872.4 L950.0,1905.3 L883.0,1919.1 Z" fill="#fff" stroke="none"/>
<path d="M880.4,1905.9 L915.8,1869.8 L920.4,1874.4 L950.0,1872.4"/>
<path d="M890.9,1903.3 L915.8,1884.9 L940.8,1879.7"/>
<path d="M930.3,1903.3 L950.0,1898.1"/>
<path d="M883.0,1919.1 L950.0,1905.3"/>
<path d="M882.3,1938.8 L900.7,1917.1"/>
<path d="M826.5,1860.0 C831.5,1860.0 838.1,1860.8 843.6,1863.2 C849.1,1865.7 854.5,1869.9 859.3,1874.4 C864.2,1878.9 869.0,1884.5 872.5,1890.2 C876.0,1895.9 878.8,1902.4 880.4,1908.6 C881.9,1914.7 882.1,1920.8 881.7,1927.0 C881.2,1933.1 879.9,1939.7 877.7,1945.4 C875.5,1951.1 872.5,1956.8 868.5,1961.1 C864.6,1965.5 858.9,1969.5 854.1,1971.6 C849.3,1973.8 845.3,1974.7 839.6,1974.3 C833.9,1973.8 826.7,1973.2 819.9,1969.0 C813.1,1964.9 804.8,1956.8 798.9,1949.3 C793.0,1941.9 787.6,1932.9 784.5,1924.3 C781.3,1915.8 779.9,1905.9 779.9,1898.1 C779.9,1890.2 781.7,1882.2 784.5,1877.0 C787.2,1871.9 791.5,1869.5 796.3,1867.2 C801.1,1864.9 808.3,1864.5 813.4,1863.2 C818.4,1862.0 821.5,1860.0 826.5,1860.0 Z" fill="#fff"/>
<path d="M779.9,1898.1 C779.9,1890.2 781.7,1882.2 784.5,1877.0 C787.2,1871.9 791.5,1869.3 796.3,1867.2 C801.1,1865.1 807.9,1864.0 813.4,1864.6 C818.8,1865.1 824.1,1867.1 829.1,1870.5 C834.2,1873.9 839.4,1879.5 843.6,1884.9 C847.7,1890.4 851.5,1896.3 854.1,1903.3 C856.7,1910.3 858.9,1918.7 859.3,1927.0 C859.8,1935.3 858.5,1946.5 856.7,1953.2 C855.0,1960.0 851.9,1964.2 848.8,1967.7 C845.8,1971.2 843.1,1974.1 838.3,1974.3 C833.5,1974.5 826.5,1973.2 819.9,1969.0 C813.4,1964.9 804.8,1956.8 798.9,1949.3 C793.0,1941.9 787.6,1932.9 784.5,1924.3 C781.3,1915.8 779.9,1905.9 779.9,1898.1 Z"/>
<path d="M800.2,1865.9 C802.2,1866.1 808.5,1866.3 812.0,1867.2 C815.5,1868.1 819.7,1870.5 821.2,1871.1"/>
<path d="M784.5,1894.1 C785.5,1891.5 788.0,1881.9 791.0,1878.4 C794.1,1874.9 799.1,1873.9 802.8,1873.1 C806.6,1872.3 811.6,1873.7 813.4,1873.8"/>
<path d="M788.4,1892.8 L812.0,1884.9"/>
<path d="M785.1,1904.0 C787.8,1905.4 798.1,1910.2 801.5,1912.5 C804.9,1914.8 804.2,1915.4 805.5,1917.8 C806.8,1920.2 807.4,1923.7 809.4,1927.0 C811.4,1930.3 813.8,1935.0 817.3,1937.5 C820.8,1940.0 826.9,1942.3 830.4,1942.1 C833.9,1941.9 834.2,1935.8 838.3,1936.2 C842.5,1936.5 852.1,1944.3 855.4,1944.1 C858.7,1943.8 860.0,1937.9 858.0,1934.9 C856.1,1931.8 847.2,1928.9 843.6,1925.7 C840.0,1922.4 837.6,1916.9 836.4,1915.1"/>
<path d="M825.8,1896.8 L835.7,1891.5"/>
<path d="M843.6,1925.0 L852.1,1917.1"/>
<path d="M825.2,1963.1 L855.4,1946.0"/>
<path d="M855.4,1946.0 C855.8,1947.2 858.2,1950.1 858.0,1953.2 C857.8,1956.4 856.5,1962.2 854.1,1965.1 C851.7,1967.9 847.7,1970.1 843.6,1970.3 C839.4,1970.5 832.6,1967.9 829.1,1966.4 C825.6,1964.9 823.7,1962.0 822.6,1961.1"/>
<path d="M858.0,1934.9 C857.8,1932.4 857.8,1924.8 856.7,1920.4 C855.6,1916.0 853.7,1912.5 851.5,1908.6 C849.3,1904.6 846.2,1899.8 843.6,1896.8 C840.9,1893.7 837.0,1891.3 835.7,1890.2"/>
<path d="M802.8,1904.0 L787.1,1894.1"/>
<ellipse cx="819.93" cy="1887.56" rx="7.23" ry="10.48" transform="rotate(-20.0 819.93 1887.56)" fill="#fff"/>
<path d="M820.6,1883.6 C820.1,1884.1 818.2,1885.1 818.0,1886.2 C817.7,1887.3 818.5,1889.3 819.3,1890.2 C820.0,1891.1 822.0,1891.3 822.6,1891.5"/>
<ellipse cx="823.21" cy="1917.77" rx="11.17" ry="16.19" transform="rotate(-20.0 823.21 1917.77)" fill="#fff"/>
<ellipse cx="823.21" cy="1917.77" rx="8.54" ry="11.96" transform="rotate(-20.0 823.21 1917.77)"/>
<path d="M825.2,1912.5 C824.6,1913.0 822.2,1913.8 821.9,1915.1 C821.6,1916.5 822.4,1919.3 823.2,1920.4 C824.0,1921.5 825.9,1921.5 826.5,1921.7"/>
<ellipse cx="819.93" cy="1951.94" rx="7.23" ry="10.48" transform="rotate(-20.0 819.93 1951.94)" fill="#fff"/>
<path d="M821.2,1948.0 C820.8,1948.4 818.8,1949.5 818.6,1950.6 C818.4,1951.7 819.2,1953.7 819.9,1954.6 C820.7,1955.4 822.7,1955.7 823.2,1955.9"/>
<path d="M776.0,1918.6 L776.4,1918.3 L776.7,1917.6 L776.9,1916.8 L776.8,1915.8 L776.6,1914.7 L776.1,1913.7 L775.6,1912.6 L774.9,1911.8 L774.2,1911.1 L773.5,1910.6 L772.8,1910.4 L772.2,1910.5 L742.6,1924.2 L742.1,1924.6 L741.8,1925.2 L741.7,1926.0 L741.7,1927.0 L742.0,1928.1 L742.4,1929.2 L743.0,1930.2 L743.6,1931.1 L744.3,1931.8 L745.0,1932.2 L745.7,1932.4 L746.3,1932.3 Z" fill="#fff"/>
<path d="M748.58,1921.57 L748.69,1921.53 L748.80,1921.50 L748.92,1921.48 L749.04,1921.47 L749.17,1921.47 L749.30,1921.48 L749.43,1921.51 L749.57,1921.54 L749.71,1921.59 L749.85,1921.64 L749.99,1921.71 L750.13,1921.79 L750.28,1921.88 L750.42,1921.98 L750.57,1922.09 L750.71,1922.21 L750.86,1922.34 L751.00,1922.48 L751.14,1922.63 L751.28,1922.78 L751.42,1922.94 L751.55,1923.11 L751.68,1923.29 L751.81,1923.47 L751.94,1923.66 L752.06,1923.86 L752.17,1924.06 L752.29,1924.26 L752.39,1924.47 L752.49,1924.68 L752.59,1924.89 L752.68,1925.11 L752.76,1925.32 L752.84,1925.54 L752.91,1925.76 L752.98,1925.98 L753.04,1926.19 L753.09,1926.41 L753.13,1926.62 L753.17,1926.83 L753.20,1927.04 L753.22,1927.24 L753.23,1927.44 L753.24,1927.63 L753.24,1927.82 L753.23,1928.00 L753.21,1928.17 L753.19,1928.34 L753.16,1928.50 L753.12,1928.66 L753.07,1928.80 L753.02,1928.94 L752.96,1929.06 L752.89,1929.18 L752.82,1929.29 L752.74,1929.39 L752.65,1929.47 L752.56,1929.55 L752.46,1929.62 L752.36,1929.67"/>
<path d="M753.84,1919.21 L753.95,1919.17 L754.06,1919.13 L754.18,1919.11 L754.30,1919.10 L754.43,1919.10 L754.56,1919.12 L754.69,1919.14 L754.82,1919.18 L754.96,1919.22 L755.10,1919.28 L755.24,1919.35 L755.39,1919.43 L755.53,1919.52 L755.68,1919.62 L755.82,1919.73 L755.97,1919.85 L756.11,1919.98 L756.25,1920.11 L756.39,1920.26 L756.53,1920.42 L756.67,1920.58 L756.81,1920.75 L756.94,1920.93 L757.07,1921.11 L757.19,1921.30 L757.31,1921.49 L757.43,1921.69 L757.54,1921.90 L757.65,1922.10 L757.75,1922.31 L757.85,1922.53 L757.94,1922.74 L758.02,1922.96 L758.10,1923.18 L758.17,1923.39 L758.23,1923.61 L758.29,1923.83 L758.34,1924.04 L758.39,1924.25 L758.42,1924.46 L758.45,1924.67 L758.47,1924.87 L758.49,1925.07 L758.49,1925.27 L758.49,1925.45 L758.48,1925.63 L758.47,1925.81 L758.44,1925.98 L758.41,1926.14 L758.37,1926.29 L758.33,1926.44 L758.27,1926.57 L758.21,1926.70 L758.15,1926.82 L758.07,1926.92 L757.99,1927.02 L757.91,1927.11 L757.81,1927.19 L757.72,1927.25 L757.61,1927.31"/>
<path d="M759.09,1916.85 L759.20,1916.80 L759.31,1916.77 L759.43,1916.75 L759.55,1916.74 L759.68,1916.74 L759.81,1916.75 L759.94,1916.78 L760.08,1916.81 L760.22,1916.86 L760.36,1916.92 L760.50,1916.98 L760.64,1917.06 L760.79,1917.15 L760.93,1917.25 L761.08,1917.36 L761.22,1917.48 L761.37,1917.61 L761.51,1917.75 L761.65,1917.90 L761.79,1918.05 L761.93,1918.21 L762.06,1918.38 L762.19,1918.56 L762.32,1918.74 L762.45,1918.93 L762.57,1919.13 L762.68,1919.33 L762.80,1919.53 L762.90,1919.74 L763.00,1919.95 L763.10,1920.16 L763.19,1920.38 L763.27,1920.59 L763.35,1920.81 L763.42,1921.03 L763.49,1921.25 L763.55,1921.46 L763.60,1921.68 L763.64,1921.89 L763.68,1922.10 L763.71,1922.31 L763.73,1922.51 L763.74,1922.71 L763.75,1922.90 L763.75,1923.09 L763.74,1923.27 L763.72,1923.45 L763.70,1923.61 L763.67,1923.77 L763.63,1923.93 L763.58,1924.07 L763.53,1924.21 L763.47,1924.33 L763.40,1924.45 L763.33,1924.56 L763.25,1924.66 L763.16,1924.74 L763.07,1924.82 L762.97,1924.89 L762.87,1924.94"/>
<path d="M764.35,1914.48 L764.46,1914.44 L764.57,1914.40 L764.69,1914.38 L764.81,1914.37 L764.94,1914.37 L765.07,1914.39 L765.20,1914.41 L765.33,1914.45 L765.47,1914.49 L765.61,1914.55 L765.75,1914.62 L765.90,1914.70 L766.04,1914.79 L766.19,1914.89 L766.33,1915.00 L766.48,1915.12 L766.62,1915.25 L766.76,1915.39 L766.90,1915.53 L767.04,1915.69 L767.18,1915.85 L767.32,1916.02 L767.45,1916.20 L767.58,1916.38 L767.70,1916.57 L767.82,1916.76 L767.94,1916.96 L768.05,1917.17 L768.16,1917.37 L768.26,1917.58 L768.35,1917.80 L768.45,1918.01 L768.53,1918.23 L768.61,1918.45 L768.68,1918.66 L768.74,1918.88 L768.80,1919.10 L768.85,1919.31 L768.90,1919.53 L768.93,1919.74 L768.96,1919.94 L768.98,1920.14 L769.00,1920.34 L769.00,1920.54 L769.00,1920.72 L768.99,1920.91 L768.98,1921.08 L768.95,1921.25 L768.92,1921.41 L768.88,1921.56 L768.84,1921.71 L768.78,1921.84 L768.72,1921.97 L768.66,1922.09 L768.58,1922.19 L768.50,1922.29 L768.42,1922.38 L768.32,1922.46 L768.23,1922.52 L768.12,1922.58"/>
<ellipse cx="739.96" cy="1933.50" rx="7.88" ry="10.64" transform="rotate(-20.0 739.96 1933.50)" fill="#fff"/>
<path d="M736.0,1929.0 C736.2,1929.7 736.7,1931.7 737.3,1933.0 C738.0,1934.3 739.5,1936.3 740.0,1936.9"/>
<!-- t05.txt -->
<path d="M480.2,575.1 L481.2,574.1 L481.8,572.6 L481.9,570.6 L481.6,568.3 L480.8,565.8 L479.6,563.4 L478.0,561.1 L476.3,559.2 L474.5,557.7 L472.7,556.8 L471.1,556.5 L469.8,556.9 L191.8,716.9 L190.8,717.9 L190.2,719.4 L190.1,721.4 L190.4,723.7 L191.2,726.2 L192.4,728.6 L194.0,730.9 L195.7,732.8 L197.5,734.3 L199.3,735.2 L200.9,735.5 L202.2,735.1 Z" fill="#fff"/>
<path d="M202.2,735.1 L203.2,734.1 L203.8,732.6 L203.9,730.6 L203.6,728.3 L202.8,725.8 L201.6,723.4 L200.0,721.1 L198.3,719.2 L196.5,717.7 L194.7,716.8 L193.1,716.5 L191.8,716.9 L190.8,717.9 L190.2,719.4 L190.1,721.4 L190.4,723.7 L191.2,726.2 L192.4,728.6 L194.0,730.9 L195.7,732.8 L197.5,734.3 L199.3,735.2 L200.9,735.5 Z"/>
<ellipse cx="197.50" cy="725.50" rx="4.50" ry="3.15" transform="rotate(60.0 197.50 725.50)"/>
<path d="M462.0,553.0 L490.0,545.0 L492.0,585.0 L470.0,590.0 Z" fill="#fff" stroke="none"/>
<path d="M469.3,557.0 C470.0,557.5 472.6,558.4 473.5,560.3 C474.4,562.2 474.0,567.0 474.9,568.6 C475.8,570.2 477.9,569.1 479.1,570.0 C480.2,570.9 481.6,573.3 481.8,574.2 C482.1,575.1 480.7,575.3 480.4,575.6"/>
<path d="M756.2,415.1 L757.2,414.1 L757.8,412.6 L757.9,410.6 L757.6,408.3 L756.8,405.8 L755.5,403.4 L754.0,401.1 L752.3,399.2 L750.5,397.7 L748.7,396.8 L747.1,396.5 L745.8,396.9 L490.8,543.9 L489.8,544.9 L489.2,546.4 L489.1,548.4 L489.4,550.7 L490.2,553.2 L491.5,555.6 L493.0,557.9 L494.7,559.8 L496.5,561.3 L498.3,562.2 L499.9,562.5 L501.2,562.1 Z" fill="#fff"/>
<path d="M483.2,535.3 L495.7,535.3 L502.6,568.6 L483.2,568.6 Z" fill="#fff" stroke="none"/>
<path d="M491.5,542.3 C491.1,543.2 488.3,546.0 488.8,547.8 C489.2,549.7 493.6,551.8 494.3,553.4 C495.0,555.0 492.7,556.1 492.9,557.5 C493.2,558.9 494.5,560.7 495.7,561.7 C496.9,562.7 499.2,563.3 499.9,563.6"/>
<path d="M426.3,659.7 C409.9,666.5 364.8,695.2 333.3,713.4 C301.8,731.5 255.2,758.2 237.4,768.7 C219.5,779.3 228.8,774.4 226.0,776.9 C223.2,779.3 221.1,781.6 220.5,783.4 C220.0,785.2 218.5,788.7 222.7,787.8 C226.9,786.9 227.3,788.0 245.7,777.9 C264.1,767.9 302.3,745.1 333.3,727.6 C364.3,710.1 416.3,684.2 431.8,672.8 C447.3,661.5 442.8,653.0 426.3,659.7 Z" fill="#fff"/>
<path d="M245.7,779.0 L299.3,746.2"/>
<path d="M395.7,689.3 L439.5,665.2"/>
<path d="M427.0,655.8 L437.9,649.9 L454.8,659.3 L454.8,675.0 L445.4,679.4 L429.6,670.7 Z" fill="#fff"/>
<path d="M429.6,656.4 L443.8,664.1 L454.8,659.3"/>
<path d="M443.8,664.1 L445.4,679.4"/>
<path d="M438.4,655.3 C438.9,655.7 440.9,656.6 441.7,657.5 C442.4,658.4 442.6,660.3 442.8,660.8"/>
</g>
<g class="l">
<text x="1077.4" y="65">1</text>
<text x="1166.4" y="119">2</text>
<text x="319.2" y="127">3</text>
<text x="371" y="333">4</text>
<text x="607.7" y="590.5">5</text>
<text x="357.3" y="790.5">6</text>
<text x="786" y="340">7</text>
<text x="1035" y="556">8</text>
<text x="1114.2" y="608">9</text>
<text x="1026" y="876">10</text>
<text x="1231.3" y="1221">11</text>
<text x="1018.8" y="1311.5">12</text>
<text x="1133" y="925">13</text>
<text x="1055.9" y="1414">14</text>
<text x="1161.5" y="1462">15</text>
<text x="190.7" y="1001">16</text>
<text x="350.3" y="1477.5">17</text>
<text x="511.6" y="1228">18</text>
<text x="412" y="1023">19</text>
<text x="390.1" y="1997">20</text>
<text x="97.9" y="1907.5">21</text>
<text x="1295.8" y="1741.5">22</text>
<text x="774" y="1772">23</text>
<text x="737.7" y="1868">24</text>
<text x="1244" y="427">25</text>
</g>
<g font-family="Liberation Sans" font-weight="bold" font-size="60" fill="#231f20" stroke="#231f20" stroke-width="3" stroke-linejoin="round"><text transform="translate(0.43 50.5) scale(1.016 1)">F</text><text transform="translate(38.46 50.5) scale(1.161 1)">I</text><text transform="translate(59.02 50.5) scale(0.99 1)">G</text><text transform="translate(106.07 50.5) scale(1.202 1)">.</text><text transform="translate(126.33 50.5) scale(1.141 1)">5</text><text transform="translate(167.22 50.5) scale(1.2 1)">0</text><text transform="translate(213.32 50.5) scale(0.731 1)">1</text><text transform="translate(248.45 50.5) scale(1.032 1)">A</text></g>
<text x="5" y="2125.3" font-family="Liberation Sans" font-size="30.4" fill="#231f20" textLength="267" lengthAdjust="spacingAndGlyphs">DF175_E03_018_501A</text>
<text x="3" y="2168.5" font-family="Liberation Sans" font-size="30" fill="#231f20" textLength="133" lengthAdjust="spacingAndGlyphs">OPT:METER</text>
<text x="835" y="2107.5" font-family="Liberation Sans" font-size="56" fill="#333" textLength="465" lengthAdjust="spacingAndGlyphs">crowleymarine.com</text>
</svg>
</body></html>
